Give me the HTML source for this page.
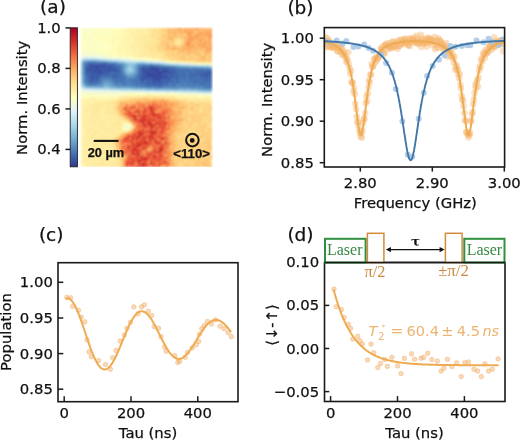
<!DOCTYPE html><html><head><meta charset="utf-8"><title>figure</title><style>html,body{margin:0;padding:0;background:#fff;overflow:hidden}svg{display:block}text{font-family:"DejaVu Sans","Liberation Sans",sans-serif}.k{fill:#111;stroke:#111;stroke-width:0.25px}.lib{font-family:"Liberation Sans",Arial,sans-serif}.dvs{font-family:"DejaVu Serif",serif}.serif{font-family:"Liberation Serif","DejaVu Serif",serif}</style></head><body>
<svg width="520" height="440" viewBox="0 0 520 440">
<defs><filter id="bl" x="0" y="0" width="1" height="1"><feGaussianBlur stdDeviation="0.85"/></filter>
<linearGradient id="cb" x1="0" y1="0" x2="0" y2="1"><stop offset="0.0" stop-color="#a50026"/><stop offset="0.1" stop-color="#d73027"/><stop offset="0.2" stop-color="#f46d43"/><stop offset="0.3" stop-color="#fdae61"/><stop offset="0.4" stop-color="#fee090"/><stop offset="0.5" stop-color="#ffffbf"/><stop offset="0.6" stop-color="#e0f3f8"/><stop offset="0.7" stop-color="#abd9e9"/><stop offset="0.8" stop-color="#74add1"/><stop offset="0.9" stop-color="#4575b4"/><stop offset="1.0" stop-color="#313695"/></linearGradient></defs>
<rect width="520" height="440" fill="#fff"/>
<g filter="url(#bl)" shape-rendering="crispEdges">
<rect x="80.5" y="27.5" width="131.5" height="139.0" fill="#fde9a8"/>
<path fill="#333d98" d="M96.4 67.2h2.1v2.1h-2.1zM90.5 69.2h2.1v2.1h-2.1zM148.2 73.2h2.1v2.1h-2.1z"/>
<path fill="#35439b" d="M98.4 69.2h2.1v2.1h-2.1zM152.2 69.2h6.1v2.1h-6.1zM100.4 71.2h2.1v2.1h-2.1zM152.2 73.2h2.1v2.1h-2.1zM158.2 73.2h2.1v2.1h-2.1zM154.2 77.1h2.1v2.1h-2.1z"/>
<path fill="#374a9f" d="M90.5 65.2h2.1v2.1h-2.1zM96.4 65.2h2.1v2.1h-2.1zM100.4 65.2h4.1v2.1h-4.1zM94.4 67.2h2.1v2.1h-2.1zM108.4 67.2h2.1v2.1h-2.1zM150.2 67.2h2.1v2.1h-2.1zM108.4 69.2h2.1v2.1h-2.1zM112.4 69.2h2.1v2.1h-2.1zM148.2 69.2h2.1v2.1h-2.1zM86.5 71.2h2.1v2.1h-2.1zM92.5 71.2h2.1v2.1h-2.1zM156.2 71.2h10.1v2.1h-10.1zM90.5 73.2h2.1v2.1h-2.1zM154.2 73.2h2.1v2.1h-2.1zM160.2 73.2h2.1v2.1h-2.1zM144.3 75.2h2.1v2.1h-2.1zM148.2 75.2h8.1v2.1h-8.1zM158.2 75.2h2.1v2.1h-2.1zM158.2 77.1h2.1v2.1h-2.1zM156.2 79.1h4.1v2.1h-4.1z"/>
<path fill="#3950a2" d="M88.5 65.2h2.1v2.1h-2.1zM92.5 65.2h4.1v2.1h-4.1zM104.4 65.2h2.1v2.1h-2.1zM108.4 65.2h2.1v2.1h-2.1zM86.5 67.2h2.1v2.1h-2.1zM92.5 67.2h2.1v2.1h-2.1zM98.4 67.2h2.1v2.1h-2.1zM102.4 67.2h2.1v2.1h-2.1zM112.4 67.2h2.1v2.1h-2.1zM142.3 67.2h2.1v2.1h-2.1zM152.2 67.2h2.1v2.1h-2.1zM156.2 67.2h2.1v2.1h-2.1zM88.5 69.2h2.1v2.1h-2.1zM94.4 69.2h2.1v2.1h-2.1zM106.4 69.2h2.1v2.1h-2.1zM114.4 69.2h2.1v2.1h-2.1zM142.3 69.2h2.1v2.1h-2.1zM150.2 69.2h2.1v2.1h-2.1zM164.2 69.2h2.1v2.1h-2.1zM94.4 71.2h6.1v2.1h-6.1zM102.4 71.2h2.1v2.1h-2.1zM144.3 71.2h6.1v2.1h-6.1zM154.2 71.2h2.1v2.1h-2.1zM166.2 71.2h2.1v2.1h-2.1zM98.4 73.2h2.1v2.1h-2.1zM112.4 73.2h2.1v2.1h-2.1zM142.3 73.2h2.1v2.1h-2.1zM146.2 73.2h2.1v2.1h-2.1zM150.2 73.2h2.1v2.1h-2.1zM146.2 75.2h2.1v2.1h-2.1zM156.2 75.2h2.1v2.1h-2.1zM160.2 75.2h2.1v2.1h-2.1zM164.2 75.2h2.1v2.1h-2.1zM90.5 77.1h2.1v2.1h-2.1zM142.3 77.1h4.1v2.1h-4.1zM150.2 77.1h2.1v2.1h-2.1zM160.2 77.1h2.1v2.1h-2.1zM164.2 77.1h4.1v2.1h-4.1zM152.2 79.1h2.1v2.1h-2.1zM158.2 81.1h2.1v2.1h-2.1zM154.2 83.1h2.1v2.1h-2.1z"/>
<path fill="#3b57a5" d="M104.4 63.2h2.1v2.1h-2.1zM98.4 65.2h2.1v2.1h-2.1zM104.4 67.2h4.1v2.1h-4.1zM146.2 67.2h2.1v2.1h-2.1zM154.2 67.2h2.1v2.1h-2.1zM158.2 67.2h2.1v2.1h-2.1zM162.2 67.2h6.1v2.1h-6.1zM96.4 69.2h2.1v2.1h-2.1zM100.4 69.2h2.1v2.1h-2.1zM110.4 69.2h2.1v2.1h-2.1zM144.3 69.2h2.1v2.1h-2.1zM158.2 69.2h2.1v2.1h-2.1zM162.2 69.2h2.1v2.1h-2.1zM168.2 69.2h2.1v2.1h-2.1zM104.4 71.2h4.1v2.1h-4.1zM114.4 71.2h2.1v2.1h-2.1zM142.3 71.2h2.1v2.1h-2.1zM150.2 71.2h2.1v2.1h-2.1zM168.2 71.2h2.1v2.1h-2.1zM210.0 71.2h2.1v2.1h-2.1zM96.4 73.2h2.1v2.1h-2.1zM100.4 73.2h2.1v2.1h-2.1zM106.4 73.2h2.1v2.1h-2.1zM156.2 73.2h2.1v2.1h-2.1zM164.2 73.2h2.1v2.1h-2.1zM170.2 73.2h2.1v2.1h-2.1zM204.0 73.2h4.1v2.1h-4.1zM210.0 73.2h2.1v2.1h-2.1zM92.5 75.2h2.1v2.1h-2.1zM98.4 75.2h2.1v2.1h-2.1zM162.2 75.2h2.1v2.1h-2.1zM98.4 77.1h2.1v2.1h-2.1zM140.3 77.1h2.1v2.1h-2.1zM146.2 77.1h4.1v2.1h-4.1zM152.2 77.1h2.1v2.1h-2.1zM156.2 77.1h2.1v2.1h-2.1zM162.2 77.1h2.1v2.1h-2.1zM168.2 77.1h2.1v2.1h-2.1zM96.4 79.1h2.1v2.1h-2.1zM142.3 79.1h2.1v2.1h-2.1zM154.2 79.1h2.1v2.1h-2.1zM162.2 79.1h2.1v2.1h-2.1zM90.5 81.1h2.1v2.1h-2.1zM154.2 81.1h2.1v2.1h-2.1z"/>
<path fill="#3e5da8" d="M88.5 63.2h2.1v2.1h-2.1zM98.4 63.2h4.1v2.1h-4.1zM106.4 65.2h2.1v2.1h-2.1zM110.4 65.2h4.1v2.1h-4.1zM150.2 65.2h2.1v2.1h-2.1zM88.5 67.2h4.1v2.1h-4.1zM100.4 67.2h2.1v2.1h-2.1zM110.4 67.2h2.1v2.1h-2.1zM114.4 67.2h2.1v2.1h-2.1zM144.3 67.2h2.1v2.1h-2.1zM84.5 69.2h4.1v2.1h-4.1zM102.4 69.2h4.1v2.1h-4.1zM146.2 69.2h2.1v2.1h-2.1zM166.2 69.2h2.1v2.1h-2.1zM90.5 71.2h2.1v2.1h-2.1zM110.4 71.2h2.1v2.1h-2.1zM118.4 71.2h2.1v2.1h-2.1zM152.2 71.2h2.1v2.1h-2.1zM172.2 71.2h2.1v2.1h-2.1zM176.1 71.2h2.1v2.1h-2.1zM206.0 71.2h2.1v2.1h-2.1zM88.5 73.2h2.1v2.1h-2.1zM94.4 73.2h2.1v2.1h-2.1zM144.3 73.2h2.1v2.1h-2.1zM162.2 73.2h2.1v2.1h-2.1zM168.2 73.2h2.1v2.1h-2.1zM172.2 73.2h2.1v2.1h-2.1zM200.0 73.2h2.1v2.1h-2.1zM90.5 75.2h2.1v2.1h-2.1zM94.4 75.2h4.1v2.1h-4.1zM104.4 75.2h2.1v2.1h-2.1zM112.4 75.2h2.1v2.1h-2.1zM166.2 75.2h2.1v2.1h-2.1zM172.2 75.2h2.1v2.1h-2.1zM202.0 75.2h6.1v2.1h-6.1zM210.0 75.2h2.1v2.1h-2.1zM92.5 77.1h6.1v2.1h-6.1zM88.5 79.1h2.1v2.1h-2.1zM140.3 79.1h2.1v2.1h-2.1zM148.2 79.1h2.1v2.1h-2.1zM160.2 79.1h2.1v2.1h-2.1zM168.2 79.1h2.1v2.1h-2.1zM204.0 79.1h2.1v2.1h-2.1zM148.2 81.1h2.1v2.1h-2.1zM152.2 81.1h2.1v2.1h-2.1zM164.2 81.1h4.1v2.1h-4.1zM148.2 83.1h2.1v2.1h-2.1zM152.2 83.1h2.1v2.1h-2.1zM160.2 83.1h4.1v2.1h-4.1z"/>
<path fill="#4064ac" d="M90.5 63.2h8.1v2.1h-8.1zM102.4 63.2h2.1v2.1h-2.1zM108.4 63.2h2.1v2.1h-2.1zM112.4 63.2h2.1v2.1h-2.1zM84.5 65.2h2.1v2.1h-2.1zM116.4 65.2h2.1v2.1h-2.1zM152.2 65.2h4.1v2.1h-4.1zM116.4 67.2h2.1v2.1h-2.1zM140.3 67.2h2.1v2.1h-2.1zM148.2 67.2h2.1v2.1h-2.1zM160.2 67.2h2.1v2.1h-2.1zM172.2 67.2h2.1v2.1h-2.1zM92.5 69.2h2.1v2.1h-2.1zM116.4 69.2h4.1v2.1h-4.1zM140.3 69.2h2.1v2.1h-2.1zM160.2 69.2h2.1v2.1h-2.1zM170.2 69.2h4.1v2.1h-4.1zM182.1 69.2h2.1v2.1h-2.1zM196.1 69.2h2.1v2.1h-2.1zM200.0 69.2h2.1v2.1h-2.1zM84.5 71.2h2.1v2.1h-2.1zM108.4 71.2h2.1v2.1h-2.1zM116.4 71.2h2.1v2.1h-2.1zM170.2 71.2h2.1v2.1h-2.1zM174.1 71.2h2.1v2.1h-2.1zM194.1 71.2h2.1v2.1h-2.1zM208.0 71.2h2.1v2.1h-2.1zM86.5 73.2h2.1v2.1h-2.1zM92.5 73.2h2.1v2.1h-2.1zM102.4 73.2h4.1v2.1h-4.1zM108.4 73.2h2.1v2.1h-2.1zM116.4 73.2h2.1v2.1h-2.1zM166.2 73.2h2.1v2.1h-2.1zM190.1 73.2h2.1v2.1h-2.1zM198.1 73.2h2.1v2.1h-2.1zM202.0 73.2h2.1v2.1h-2.1zM208.0 73.2h2.1v2.1h-2.1zM86.5 75.2h2.1v2.1h-2.1zM100.4 75.2h2.1v2.1h-2.1zM110.4 75.2h2.1v2.1h-2.1zM114.4 75.2h4.1v2.1h-4.1zM140.3 75.2h4.1v2.1h-4.1zM170.2 75.2h2.1v2.1h-2.1zM174.1 75.2h4.1v2.1h-4.1zM192.1 75.2h6.1v2.1h-6.1zM200.0 75.2h2.1v2.1h-2.1zM208.0 75.2h2.1v2.1h-2.1zM88.5 77.1h2.1v2.1h-2.1zM112.4 77.1h4.1v2.1h-4.1zM170.2 77.1h2.1v2.1h-2.1zM176.1 77.1h2.1v2.1h-2.1zM184.1 77.1h2.1v2.1h-2.1zM206.0 77.1h2.1v2.1h-2.1zM210.0 77.1h2.1v2.1h-2.1zM90.5 79.1h6.1v2.1h-6.1zM114.4 79.1h2.1v2.1h-2.1zM146.2 79.1h2.1v2.1h-2.1zM150.2 79.1h2.1v2.1h-2.1zM166.2 79.1h2.1v2.1h-2.1zM176.1 79.1h2.1v2.1h-2.1zM88.5 81.1h2.1v2.1h-2.1zM94.4 81.1h2.1v2.1h-2.1zM140.3 81.1h4.1v2.1h-4.1zM146.2 81.1h2.1v2.1h-2.1zM156.2 81.1h2.1v2.1h-2.1zM160.2 81.1h2.1v2.1h-2.1zM172.2 81.1h2.1v2.1h-2.1zM176.1 81.1h2.1v2.1h-2.1zM210.0 81.1h2.1v2.1h-2.1zM150.2 83.1h2.1v2.1h-2.1zM156.2 83.1h4.1v2.1h-4.1zM160.2 85.1h2.1v2.1h-2.1z"/>
<path fill="#426aaf" d="M86.5 63.2h2.1v2.1h-2.1zM106.4 63.2h2.1v2.1h-2.1zM110.4 63.2h2.1v2.1h-2.1zM86.5 65.2h2.1v2.1h-2.1zM148.2 65.2h2.1v2.1h-2.1zM84.5 67.2h2.1v2.1h-2.1zM168.2 67.2h2.1v2.1h-2.1zM174.1 69.2h2.1v2.1h-2.1zM178.1 69.2h4.1v2.1h-4.1zM186.1 69.2h2.1v2.1h-2.1zM190.1 69.2h2.1v2.1h-2.1zM198.1 69.2h2.1v2.1h-2.1zM208.0 69.2h2.1v2.1h-2.1zM88.5 71.2h2.1v2.1h-2.1zM112.4 71.2h2.1v2.1h-2.1zM120.3 71.2h2.1v2.1h-2.1zM140.3 71.2h2.1v2.1h-2.1zM188.1 71.2h2.1v2.1h-2.1zM200.0 71.2h6.1v2.1h-6.1zM84.5 73.2h2.1v2.1h-2.1zM114.4 73.2h2.1v2.1h-2.1zM118.4 73.2h2.1v2.1h-2.1zM138.3 73.2h4.1v2.1h-4.1zM174.1 73.2h2.1v2.1h-2.1zM178.1 73.2h8.1v2.1h-8.1zM192.1 73.2h2.1v2.1h-2.1zM196.1 73.2h2.1v2.1h-2.1zM88.5 75.2h2.1v2.1h-2.1zM102.4 75.2h2.1v2.1h-2.1zM106.4 75.2h4.1v2.1h-4.1zM118.4 75.2h4.1v2.1h-4.1zM138.3 75.2h2.1v2.1h-2.1zM168.2 75.2h2.1v2.1h-2.1zM182.1 75.2h2.1v2.1h-2.1zM188.1 75.2h2.1v2.1h-2.1zM86.5 77.1h2.1v2.1h-2.1zM116.4 77.1h2.1v2.1h-2.1zM120.3 77.1h2.1v2.1h-2.1zM172.2 77.1h4.1v2.1h-4.1zM178.1 77.1h4.1v2.1h-4.1zM190.1 77.1h2.1v2.1h-2.1zM200.0 77.1h2.1v2.1h-2.1zM208.0 77.1h2.1v2.1h-2.1zM144.3 79.1h2.1v2.1h-2.1zM170.2 79.1h2.1v2.1h-2.1zM190.1 79.1h2.1v2.1h-2.1zM194.1 79.1h2.1v2.1h-2.1zM206.0 79.1h6.1v2.1h-6.1zM96.4 81.1h2.1v2.1h-2.1zM120.3 81.1h2.1v2.1h-2.1zM136.3 81.1h2.1v2.1h-2.1zM150.2 81.1h2.1v2.1h-2.1zM162.2 81.1h2.1v2.1h-2.1zM168.2 81.1h4.1v2.1h-4.1zM194.1 81.1h4.1v2.1h-4.1zM200.0 81.1h2.1v2.1h-2.1zM142.3 83.1h2.1v2.1h-2.1zM146.2 83.1h2.1v2.1h-2.1zM166.2 83.1h2.1v2.1h-2.1zM204.0 83.1h2.1v2.1h-2.1zM148.2 85.1h2.1v2.1h-2.1zM154.2 85.1h2.1v2.1h-2.1zM158.2 85.1h2.1v2.1h-2.1z"/>
<path fill="#4471b2" d="M114.4 63.2h2.1v2.1h-2.1zM142.3 65.2h4.1v2.1h-4.1zM158.2 65.2h2.1v2.1h-2.1zM118.4 67.2h2.1v2.1h-2.1zM138.3 67.2h2.1v2.1h-2.1zM170.2 67.2h2.1v2.1h-2.1zM174.1 67.2h2.1v2.1h-2.1zM138.3 69.2h2.1v2.1h-2.1zM176.1 69.2h2.1v2.1h-2.1zM184.1 69.2h2.1v2.1h-2.1zM188.1 69.2h2.1v2.1h-2.1zM192.1 69.2h2.1v2.1h-2.1zM202.0 69.2h2.1v2.1h-2.1zM206.0 69.2h2.1v2.1h-2.1zM180.1 71.2h2.1v2.1h-2.1zM184.1 71.2h2.1v2.1h-2.1zM190.1 71.2h2.1v2.1h-2.1zM196.1 71.2h4.1v2.1h-4.1zM176.1 73.2h2.1v2.1h-2.1zM188.1 73.2h2.1v2.1h-2.1zM194.1 73.2h2.1v2.1h-2.1zM178.1 75.2h2.1v2.1h-2.1zM184.1 75.2h2.1v2.1h-2.1zM190.1 75.2h2.1v2.1h-2.1zM118.4 77.1h2.1v2.1h-2.1zM122.3 77.1h2.1v2.1h-2.1zM136.3 77.1h4.1v2.1h-4.1zM188.1 77.1h2.1v2.1h-2.1zM192.1 77.1h2.1v2.1h-2.1zM196.1 77.1h4.1v2.1h-4.1zM202.0 77.1h4.1v2.1h-4.1zM86.5 79.1h2.1v2.1h-2.1zM98.4 79.1h2.1v2.1h-2.1zM118.4 79.1h2.1v2.1h-2.1zM122.3 79.1h2.1v2.1h-2.1zM134.3 79.1h2.1v2.1h-2.1zM164.2 79.1h2.1v2.1h-2.1zM174.1 79.1h2.1v2.1h-2.1zM182.1 79.1h4.1v2.1h-4.1zM192.1 79.1h2.1v2.1h-2.1zM196.1 79.1h4.1v2.1h-4.1zM202.0 79.1h2.1v2.1h-2.1zM92.5 81.1h2.1v2.1h-2.1zM98.4 81.1h2.1v2.1h-2.1zM114.4 81.1h2.1v2.1h-2.1zM124.3 81.1h2.1v2.1h-2.1zM144.3 81.1h2.1v2.1h-2.1zM178.1 81.1h2.1v2.1h-2.1zM186.1 81.1h2.1v2.1h-2.1zM192.1 81.1h2.1v2.1h-2.1zM202.0 81.1h6.1v2.1h-6.1zM134.3 83.1h2.1v2.1h-2.1zM144.3 83.1h2.1v2.1h-2.1zM164.2 83.1h2.1v2.1h-2.1zM172.2 83.1h2.1v2.1h-2.1zM200.0 83.1h4.1v2.1h-4.1zM210.0 83.1h2.1v2.1h-2.1zM144.3 85.1h4.1v2.1h-4.1zM152.2 85.1h2.1v2.1h-2.1zM156.2 85.1h2.1v2.1h-2.1zM166.2 85.1h2.1v2.1h-2.1zM206.0 85.1h2.1v2.1h-2.1zM210.0 85.1h2.1v2.1h-2.1z"/>
<path fill="#4777b5" d="M84.5 63.2h2.1v2.1h-2.1zM114.4 65.2h2.1v2.1h-2.1zM118.4 65.2h4.1v2.1h-4.1zM146.2 65.2h2.1v2.1h-2.1zM120.3 67.2h2.1v2.1h-2.1zM120.3 69.2h2.1v2.1h-2.1zM194.1 69.2h2.1v2.1h-2.1zM204.0 69.2h2.1v2.1h-2.1zM210.0 69.2h2.1v2.1h-2.1zM178.1 71.2h2.1v2.1h-2.1zM182.1 71.2h2.1v2.1h-2.1zM186.1 71.2h2.1v2.1h-2.1zM110.4 73.2h2.1v2.1h-2.1zM122.3 73.2h2.1v2.1h-2.1zM84.5 75.2h2.1v2.1h-2.1zM136.3 75.2h2.1v2.1h-2.1zM180.1 75.2h2.1v2.1h-2.1zM186.1 75.2h2.1v2.1h-2.1zM198.1 75.2h2.1v2.1h-2.1zM100.4 77.1h4.1v2.1h-4.1zM108.4 77.1h4.1v2.1h-4.1zM124.3 77.1h2.1v2.1h-2.1zM182.1 77.1h2.1v2.1h-2.1zM194.1 77.1h2.1v2.1h-2.1zM84.5 79.1h2.1v2.1h-2.1zM116.4 79.1h2.1v2.1h-2.1zM120.3 79.1h2.1v2.1h-2.1zM124.3 79.1h2.1v2.1h-2.1zM128.3 79.1h6.1v2.1h-6.1zM136.3 79.1h4.1v2.1h-4.1zM172.2 79.1h2.1v2.1h-2.1zM178.1 79.1h2.1v2.1h-2.1zM188.1 79.1h2.1v2.1h-2.1zM200.0 79.1h2.1v2.1h-2.1zM84.5 81.1h4.1v2.1h-4.1zM112.4 81.1h2.1v2.1h-2.1zM116.4 81.1h4.1v2.1h-4.1zM132.3 81.1h2.1v2.1h-2.1zM138.3 81.1h2.1v2.1h-2.1zM174.1 81.1h2.1v2.1h-2.1zM180.1 81.1h4.1v2.1h-4.1zM190.1 81.1h2.1v2.1h-2.1zM198.1 81.1h2.1v2.1h-2.1zM208.0 81.1h2.1v2.1h-2.1zM88.5 83.1h2.1v2.1h-2.1zM92.5 83.1h4.1v2.1h-4.1zM122.3 83.1h4.1v2.1h-4.1zM136.3 83.1h4.1v2.1h-4.1zM168.2 83.1h2.1v2.1h-2.1zM176.1 83.1h2.1v2.1h-2.1zM194.1 83.1h6.1v2.1h-6.1zM208.0 83.1h2.1v2.1h-2.1zM136.3 85.1h2.1v2.1h-2.1zM140.3 85.1h2.1v2.1h-2.1zM150.2 85.1h2.1v2.1h-2.1zM162.2 85.1h4.1v2.1h-4.1zM172.2 85.1h4.1v2.1h-4.1zM194.1 85.1h2.1v2.1h-2.1zM198.1 85.1h2.1v2.1h-2.1zM208.0 85.1h2.1v2.1h-2.1z"/>
<path fill="#4c7db8" d="M88.5 61.3h6.1v2.1h-6.1zM116.4 63.2h2.1v2.1h-2.1zM156.2 65.2h2.1v2.1h-2.1zM176.1 67.2h2.1v2.1h-2.1zM180.1 67.2h2.1v2.1h-2.1zM186.1 67.2h2.1v2.1h-2.1zM194.1 67.2h2.1v2.1h-2.1zM202.0 67.2h2.1v2.1h-2.1zM138.3 71.2h2.1v2.1h-2.1zM192.1 71.2h2.1v2.1h-2.1zM120.3 73.2h2.1v2.1h-2.1zM186.1 73.2h2.1v2.1h-2.1zM122.3 75.2h4.1v2.1h-4.1zM84.5 77.1h2.1v2.1h-2.1zM104.4 77.1h4.1v2.1h-4.1zM186.1 77.1h2.1v2.1h-2.1zM106.4 79.1h2.1v2.1h-2.1zM110.4 79.1h4.1v2.1h-4.1zM180.1 79.1h2.1v2.1h-2.1zM186.1 79.1h2.1v2.1h-2.1zM100.4 81.1h2.1v2.1h-2.1zM126.3 81.1h4.1v2.1h-4.1zM134.3 81.1h2.1v2.1h-2.1zM184.1 81.1h2.1v2.1h-2.1zM188.1 81.1h2.1v2.1h-2.1zM90.5 83.1h2.1v2.1h-2.1zM96.4 83.1h2.1v2.1h-2.1zM114.4 83.1h4.1v2.1h-4.1zM120.3 83.1h2.1v2.1h-2.1zM126.3 83.1h2.1v2.1h-2.1zM130.3 83.1h2.1v2.1h-2.1zM140.3 83.1h2.1v2.1h-2.1zM170.2 83.1h2.1v2.1h-2.1zM174.1 83.1h2.1v2.1h-2.1zM178.1 83.1h6.1v2.1h-6.1zM186.1 83.1h8.1v2.1h-8.1zM206.0 83.1h2.1v2.1h-2.1zM138.3 85.1h2.1v2.1h-2.1zM142.3 85.1h2.1v2.1h-2.1zM168.2 85.1h2.1v2.1h-2.1zM180.1 85.1h4.1v2.1h-4.1zM188.1 85.1h2.1v2.1h-2.1zM192.1 85.1h2.1v2.1h-2.1zM200.0 85.1h6.1v2.1h-6.1zM158.2 87.1h2.1v2.1h-2.1zM204.0 87.1h2.1v2.1h-2.1zM208.0 87.1h4.1v2.1h-4.1z"/>
<path fill="#5183bb" d="M86.5 61.3h2.1v2.1h-2.1zM94.4 61.3h4.1v2.1h-4.1zM102.4 61.3h2.1v2.1h-2.1zM82.5 65.2h2.1v2.1h-2.1zM140.3 65.2h2.1v2.1h-2.1zM160.2 65.2h4.1v2.1h-4.1zM82.5 67.2h2.1v2.1h-2.1zM178.1 67.2h2.1v2.1h-2.1zM82.5 69.2h2.1v2.1h-2.1zM82.5 73.2h2.1v2.1h-2.1zM126.3 77.1h2.1v2.1h-2.1zM130.3 77.1h2.1v2.1h-2.1zM134.3 77.1h2.1v2.1h-2.1zM100.4 79.1h4.1v2.1h-4.1zM108.4 81.1h2.1v2.1h-2.1zM122.3 81.1h2.1v2.1h-2.1zM130.3 81.1h2.1v2.1h-2.1zM86.5 83.1h2.1v2.1h-2.1zM98.4 83.1h2.1v2.1h-2.1zM132.3 83.1h2.1v2.1h-2.1zM118.4 85.1h2.1v2.1h-2.1zM130.3 85.1h2.1v2.1h-2.1zM170.2 85.1h2.1v2.1h-2.1zM184.1 85.1h4.1v2.1h-4.1zM190.1 85.1h2.1v2.1h-2.1zM150.2 87.1h2.1v2.1h-2.1zM160.2 87.1h2.1v2.1h-2.1zM192.1 87.1h2.1v2.1h-2.1zM206.0 87.1h2.1v2.1h-2.1z"/>
<path fill="#5689be" d="M100.4 61.3h2.1v2.1h-2.1zM106.4 61.3h2.1v2.1h-2.1zM82.5 63.2h2.1v2.1h-2.1zM118.4 63.2h2.1v2.1h-2.1zM122.3 65.2h2.1v2.1h-2.1zM138.3 65.2h2.1v2.1h-2.1zM182.1 67.2h4.1v2.1h-4.1zM188.1 67.2h2.1v2.1h-2.1zM192.1 67.2h2.1v2.1h-2.1zM196.1 67.2h2.1v2.1h-2.1zM206.0 67.2h2.1v2.1h-2.1zM122.3 69.2h2.1v2.1h-2.1zM82.5 79.1h2.1v2.1h-2.1zM126.3 79.1h2.1v2.1h-2.1zM84.5 83.1h2.1v2.1h-2.1zM118.4 83.1h2.1v2.1h-2.1zM184.1 83.1h2.1v2.1h-2.1zM94.4 85.1h2.1v2.1h-2.1zM114.4 85.1h4.1v2.1h-4.1zM122.3 85.1h8.1v2.1h-8.1zM132.3 85.1h2.1v2.1h-2.1zM176.1 85.1h2.1v2.1h-2.1zM196.1 85.1h2.1v2.1h-2.1zM156.2 87.1h2.1v2.1h-2.1zM170.2 87.1h2.1v2.1h-2.1zM178.1 87.1h2.1v2.1h-2.1zM198.1 87.1h2.1v2.1h-2.1zM202.0 87.1h2.1v2.1h-2.1z"/>
<path fill="#5b8fc1" d="M98.4 61.3h2.1v2.1h-2.1zM104.4 61.3h2.1v2.1h-2.1zM164.2 65.2h6.1v2.1h-6.1zM122.3 67.2h2.1v2.1h-2.1zM190.1 67.2h2.1v2.1h-2.1zM198.1 67.2h2.1v2.1h-2.1zM82.5 71.2h2.1v2.1h-2.1zM122.3 71.2h2.1v2.1h-2.1zM136.3 71.2h2.1v2.1h-2.1zM136.3 73.2h2.1v2.1h-2.1zM82.5 75.2h2.1v2.1h-2.1zM126.3 75.2h2.1v2.1h-2.1zM134.3 75.2h2.1v2.1h-2.1zM82.5 77.1h2.1v2.1h-2.1zM128.3 77.1h2.1v2.1h-2.1zM132.3 77.1h2.1v2.1h-2.1zM104.4 79.1h2.1v2.1h-2.1zM108.4 79.1h2.1v2.1h-2.1zM82.5 81.1h2.1v2.1h-2.1zM102.4 81.1h2.1v2.1h-2.1zM110.4 81.1h2.1v2.1h-2.1zM100.4 83.1h2.1v2.1h-2.1zM110.4 83.1h4.1v2.1h-4.1zM128.3 83.1h2.1v2.1h-2.1zM90.5 85.1h2.1v2.1h-2.1zM98.4 85.1h2.1v2.1h-2.1zM120.3 85.1h2.1v2.1h-2.1zM134.3 85.1h2.1v2.1h-2.1zM178.1 85.1h2.1v2.1h-2.1zM140.3 87.1h2.1v2.1h-2.1zM146.2 87.1h4.1v2.1h-4.1zM154.2 87.1h2.1v2.1h-2.1zM162.2 87.1h2.1v2.1h-2.1zM166.2 87.1h2.1v2.1h-2.1zM172.2 87.1h2.1v2.1h-2.1zM184.1 87.1h4.1v2.1h-4.1zM190.1 87.1h2.1v2.1h-2.1zM196.1 87.1h2.1v2.1h-2.1z"/>
<path fill="#5f94c4" d="M84.5 61.3h2.1v2.1h-2.1zM120.3 63.2h2.1v2.1h-2.1zM142.3 63.2h4.1v2.1h-4.1zM170.2 65.2h2.1v2.1h-2.1zM136.3 67.2h2.1v2.1h-2.1zM200.0 67.2h2.1v2.1h-2.1zM124.3 73.2h2.1v2.1h-2.1zM132.3 75.2h2.1v2.1h-2.1zM86.5 85.1h4.1v2.1h-4.1zM92.5 85.1h2.1v2.1h-2.1zM152.2 87.1h2.1v2.1h-2.1zM164.2 87.1h2.1v2.1h-2.1zM168.2 87.1h2.1v2.1h-2.1zM174.1 87.1h4.1v2.1h-4.1zM194.1 87.1h2.1v2.1h-2.1zM200.0 87.1h2.1v2.1h-2.1z"/>
<path fill="#649ac7" d="M82.5 61.3h2.1v2.1h-2.1zM122.3 63.2h2.1v2.1h-2.1zM138.3 63.2h4.1v2.1h-4.1zM150.2 63.2h2.1v2.1h-2.1zM136.3 65.2h2.1v2.1h-2.1zM172.2 65.2h2.1v2.1h-2.1zM208.0 67.2h4.1v2.1h-4.1zM136.3 69.2h2.1v2.1h-2.1zM124.3 71.2h2.1v2.1h-2.1zM134.3 73.2h2.1v2.1h-2.1zM130.3 75.2h2.1v2.1h-2.1zM104.4 81.1h2.1v2.1h-2.1zM102.4 83.1h2.1v2.1h-2.1zM96.4 85.1h2.1v2.1h-2.1zM134.3 87.1h4.1v2.1h-4.1zM142.3 87.1h4.1v2.1h-4.1zM180.1 87.1h2.1v2.1h-2.1zM188.1 87.1h2.1v2.1h-2.1zM206.0 89.1h2.1v2.1h-2.1z"/>
<path fill="#69a0ca" d="M108.4 61.3h2.1v2.1h-2.1zM174.1 65.2h2.1v2.1h-2.1zM124.3 67.2h2.1v2.1h-2.1zM204.0 67.2h2.1v2.1h-2.1zM106.4 81.1h2.1v2.1h-2.1zM106.4 83.1h2.1v2.1h-2.1zM84.5 85.1h2.1v2.1h-2.1zM100.4 85.1h4.1v2.1h-4.1zM112.4 85.1h2.1v2.1h-2.1zM182.1 87.1h2.1v2.1h-2.1zM202.0 89.1h2.1v2.1h-2.1z"/>
<path fill="#6ea6cd" d="M114.4 61.3h2.1v2.1h-2.1zM124.3 63.2h2.1v2.1h-2.1zM146.2 63.2h4.1v2.1h-4.1zM124.3 65.2h2.1v2.1h-2.1zM176.1 65.2h2.1v2.1h-2.1zM134.3 71.2h2.1v2.1h-2.1zM128.3 75.2h2.1v2.1h-2.1zM82.5 83.1h2.1v2.1h-2.1zM108.4 83.1h2.1v2.1h-2.1zM108.4 85.1h4.1v2.1h-4.1zM130.3 87.1h4.1v2.1h-4.1zM138.3 87.1h2.1v2.1h-2.1zM208.0 89.1h4.1v2.1h-4.1z"/>
<path fill="#73acd0" d="M110.4 61.3h4.1v2.1h-4.1zM134.3 65.2h2.1v2.1h-2.1zM178.1 65.2h2.1v2.1h-2.1zM182.1 65.2h2.1v2.1h-2.1zM134.3 67.2h2.1v2.1h-2.1zM132.3 73.2h2.1v2.1h-2.1zM104.4 83.1h2.1v2.1h-2.1zM106.4 85.1h2.1v2.1h-2.1zM116.4 87.1h4.1v2.1h-4.1zM126.3 87.1h2.1v2.1h-2.1zM198.1 89.1h4.1v2.1h-4.1zM204.0 89.1h2.1v2.1h-2.1z"/>
<path fill="#79b1d3" d="M116.4 61.3h2.1v2.1h-2.1zM126.3 63.2h2.1v2.1h-2.1zM136.3 63.2h2.1v2.1h-2.1zM152.2 63.2h2.1v2.1h-2.1zM156.2 63.2h2.1v2.1h-2.1zM124.3 69.2h2.1v2.1h-2.1zM134.3 69.2h2.1v2.1h-2.1zM126.3 73.2h6.1v2.1h-6.1zM110.4 87.1h2.1v2.1h-2.1zM120.3 87.1h6.1v2.1h-6.1zM128.3 87.1h2.1v2.1h-2.1zM174.1 89.1h2.1v2.1h-2.1zM196.1 89.1h2.1v2.1h-2.1z"/>
<path fill="#7eb5d6" d="M154.2 63.2h2.1v2.1h-2.1zM158.2 63.2h2.1v2.1h-2.1zM126.3 67.2h2.1v2.1h-2.1zM80.5 71.2h2.1v2.1h-2.1zM104.4 85.1h2.1v2.1h-2.1zM112.4 87.1h4.1v2.1h-4.1zM168.2 89.1h2.1v2.1h-2.1zM172.2 89.1h2.1v2.1h-2.1zM190.1 89.1h2.1v2.1h-2.1zM194.1 89.1h2.1v2.1h-2.1z"/>
<path fill="#84bad8" d="M80.5 63.2h2.1v2.1h-2.1zM126.3 65.2h2.1v2.1h-2.1zM132.3 65.2h2.1v2.1h-2.1zM180.1 65.2h2.1v2.1h-2.1zM184.1 65.2h4.1v2.1h-4.1zM126.3 71.2h2.1v2.1h-2.1zM80.5 73.2h2.1v2.1h-2.1zM96.4 87.1h2.1v2.1h-2.1zM100.4 87.1h2.1v2.1h-2.1zM154.2 89.1h2.1v2.1h-2.1zM164.2 89.1h2.1v2.1h-2.1zM176.1 89.1h4.1v2.1h-4.1zM182.1 89.1h4.1v2.1h-4.1zM192.1 89.1h2.1v2.1h-2.1z"/>
<path fill="#8abeda" d="M84.5 59.3h2.1v2.1h-2.1zM90.5 59.3h6.1v2.1h-6.1zM160.2 63.2h2.1v2.1h-2.1zM80.5 65.2h2.1v2.1h-2.1zM188.1 65.2h2.1v2.1h-2.1zM80.5 67.2h2.1v2.1h-2.1zM132.3 67.2h2.1v2.1h-2.1zM80.5 69.2h2.1v2.1h-2.1zM132.3 71.2h2.1v2.1h-2.1zM80.5 75.2h2.1v2.1h-2.1zM82.5 85.1h2.1v2.1h-2.1zM98.4 87.1h2.1v2.1h-2.1zM156.2 89.1h2.1v2.1h-2.1zM160.2 89.1h2.1v2.1h-2.1zM166.2 89.1h2.1v2.1h-2.1zM186.1 89.1h2.1v2.1h-2.1z"/>
<path fill="#90c3dd" d="M86.5 59.3h4.1v2.1h-4.1zM98.4 59.3h2.1v2.1h-2.1zM118.4 61.3h4.1v2.1h-4.1zM128.3 63.2h8.1v2.1h-8.1zM192.1 65.2h2.1v2.1h-2.1zM196.1 65.2h2.1v2.1h-2.1zM126.3 69.2h2.1v2.1h-2.1zM132.3 69.2h2.1v2.1h-2.1zM128.3 71.2h4.1v2.1h-4.1zM80.5 79.1h2.1v2.1h-2.1zM90.5 87.1h2.1v2.1h-2.1zM94.4 87.1h2.1v2.1h-2.1zM102.4 87.1h2.1v2.1h-2.1zM108.4 87.1h2.1v2.1h-2.1zM148.2 89.1h2.1v2.1h-2.1zM158.2 89.1h2.1v2.1h-2.1zM188.1 89.1h2.1v2.1h-2.1z"/>
<path fill="#95c8e0" d="M82.5 59.3h2.1v2.1h-2.1zM96.4 59.3h2.1v2.1h-2.1zM122.3 61.3h2.1v2.1h-2.1zM162.2 63.2h2.1v2.1h-2.1zM128.3 65.2h4.1v2.1h-4.1zM190.1 65.2h2.1v2.1h-2.1zM80.5 77.1h2.1v2.1h-2.1zM80.5 81.1h2.1v2.1h-2.1zM80.5 83.1h2.1v2.1h-2.1zM84.5 87.1h6.1v2.1h-6.1zM92.5 87.1h2.1v2.1h-2.1zM104.4 87.1h2.1v2.1h-2.1zM146.2 89.1h2.1v2.1h-2.1zM150.2 89.1h2.1v2.1h-2.1zM162.2 89.1h2.1v2.1h-2.1zM170.2 89.1h2.1v2.1h-2.1zM180.1 89.1h2.1v2.1h-2.1z"/>
<path fill="#9bcce2" d="M80.5 61.3h2.1v2.1h-2.1zM194.1 65.2h2.1v2.1h-2.1zM200.0 65.2h2.1v2.1h-2.1zM206.0 65.2h2.1v2.1h-2.1zM128.3 67.2h4.1v2.1h-4.1zM140.3 89.1h2.1v2.1h-2.1zM152.2 89.1h2.1v2.1h-2.1z"/>
<path fill="#a1d1e4" d="M102.4 59.3h2.1v2.1h-2.1zM164.2 63.2h2.1v2.1h-2.1zM128.3 69.2h2.1v2.1h-2.1zM106.4 87.1h2.1v2.1h-2.1zM136.3 89.1h2.1v2.1h-2.1zM144.3 89.1h2.1v2.1h-2.1z"/>
<path fill="#a6d5e7" d="M100.4 59.3h2.1v2.1h-2.1zM124.3 61.3h2.1v2.1h-2.1zM198.1 65.2h2.1v2.1h-2.1zM202.0 65.2h2.1v2.1h-2.1zM80.5 85.1h2.1v2.1h-2.1zM134.3 89.1h2.1v2.1h-2.1zM204.0 91.0h8.1v2.1h-8.1z"/>
<path fill="#acdae9" d="M104.4 59.3h2.1v2.1h-2.1zM166.2 63.2h2.1v2.1h-2.1zM204.0 65.2h2.1v2.1h-2.1zM208.0 65.2h2.1v2.1h-2.1zM130.3 69.2h2.1v2.1h-2.1zM126.3 89.1h2.1v2.1h-2.1zM132.3 89.1h2.1v2.1h-2.1zM142.3 89.1h2.1v2.1h-2.1zM202.0 91.0h2.1v2.1h-2.1z"/>
<path fill="#b2dceb" d="M110.4 59.3h2.1v2.1h-2.1zM136.3 61.3h4.1v2.1h-4.1zM142.3 61.3h2.1v2.1h-2.1zM168.2 63.2h2.1v2.1h-2.1zM82.5 87.1h2.1v2.1h-2.1zM122.3 89.1h2.1v2.1h-2.1zM130.3 89.1h2.1v2.1h-2.1zM138.3 89.1h2.1v2.1h-2.1zM200.0 91.0h2.1v2.1h-2.1z"/>
<path fill="#b7dfec" d="M126.3 61.3h6.1v2.1h-6.1zM140.3 61.3h2.1v2.1h-2.1zM210.0 65.2h2.1v2.1h-2.1zM120.3 89.1h2.1v2.1h-2.1zM124.3 89.1h2.1v2.1h-2.1zM128.3 89.1h2.1v2.1h-2.1zM192.1 91.0h2.1v2.1h-2.1zM198.1 91.0h2.1v2.1h-2.1z"/>
<path fill="#bde2ee" d="M80.5 59.3h2.1v2.1h-2.1zM106.4 59.3h4.1v2.1h-4.1zM132.3 61.3h4.1v2.1h-4.1zM144.3 61.3h2.1v2.1h-2.1zM170.2 63.2h2.1v2.1h-2.1zM114.4 89.1h6.1v2.1h-6.1zM196.1 91.0h2.1v2.1h-2.1z"/>
<path fill="#c2e4f0" d="M146.2 61.3h2.1v2.1h-2.1zM176.1 63.2h2.1v2.1h-2.1zM106.4 89.1h2.1v2.1h-2.1zM184.1 91.0h2.1v2.1h-2.1zM188.1 91.0h2.1v2.1h-2.1z"/>
<path fill="#c8e7f1" d="M112.4 59.3h2.1v2.1h-2.1zM116.4 59.3h2.1v2.1h-2.1zM150.2 61.3h2.1v2.1h-2.1zM172.2 63.2h4.1v2.1h-4.1zM102.4 89.1h2.1v2.1h-2.1zM108.4 89.1h4.1v2.1h-4.1zM174.1 91.0h2.1v2.1h-2.1zM182.1 91.0h2.1v2.1h-2.1zM186.1 91.0h2.1v2.1h-2.1zM190.1 91.0h2.1v2.1h-2.1zM194.1 91.0h2.1v2.1h-2.1z"/>
<path fill="#cdeaf3" d="M114.4 59.3h2.1v2.1h-2.1zM118.4 59.3h2.1v2.1h-2.1zM98.4 89.1h2.1v2.1h-2.1zM104.4 89.1h2.1v2.1h-2.1zM112.4 89.1h2.1v2.1h-2.1zM178.1 91.0h4.1v2.1h-4.1z"/>
<path fill="#d3ecf4" d="M84.5 57.3h4.1v2.1h-4.1zM90.5 57.3h2.1v2.1h-2.1zM122.3 59.3h2.1v2.1h-2.1zM148.2 61.3h2.1v2.1h-2.1zM152.2 61.3h2.1v2.1h-2.1zM178.1 63.2h2.1v2.1h-2.1zM80.5 87.1h2.1v2.1h-2.1zM92.5 89.1h4.1v2.1h-4.1z"/>
<path fill="#d8eff6" d="M82.5 57.3h2.1v2.1h-2.1zM88.5 57.3h2.1v2.1h-2.1zM94.4 57.3h2.1v2.1h-2.1zM120.3 59.3h2.1v2.1h-2.1zM126.3 59.3h2.1v2.1h-2.1zM154.2 61.3h2.1v2.1h-2.1zM90.5 89.1h2.1v2.1h-2.1zM96.4 89.1h2.1v2.1h-2.1zM100.4 89.1h2.1v2.1h-2.1zM154.2 91.0h2.1v2.1h-2.1zM162.2 91.0h2.1v2.1h-2.1zM166.2 91.0h6.1v2.1h-6.1zM176.1 91.0h2.1v2.1h-2.1z"/>
<path fill="#def2f7" d="M92.5 57.3h2.1v2.1h-2.1zM98.4 57.3h2.1v2.1h-2.1zM180.1 63.2h4.1v2.1h-4.1zM84.5 89.1h2.1v2.1h-2.1zM88.5 89.1h2.1v2.1h-2.1zM156.2 91.0h6.1v2.1h-6.1zM164.2 91.0h2.1v2.1h-2.1zM172.2 91.0h2.1v2.1h-2.1z"/>
<path fill="#e2f4f4" d="M96.4 57.3h2.1v2.1h-2.1zM156.2 61.3h2.1v2.1h-2.1zM82.5 89.1h2.1v2.1h-2.1zM86.5 89.1h2.1v2.1h-2.1zM110.4 91.0h2.1v2.1h-2.1zM144.3 91.0h8.1v2.1h-8.1z"/>
<path fill="#e5f5ee" d="M100.4 57.3h6.1v2.1h-6.1zM128.3 59.3h2.1v2.1h-2.1zM160.2 61.3h2.1v2.1h-2.1zM186.1 63.2h4.1v2.1h-4.1zM114.4 91.0h2.1v2.1h-2.1zM136.3 91.0h2.1v2.1h-2.1zM152.2 91.0h2.1v2.1h-2.1z"/>
<path fill="#e8f6e9" d="M80.5 57.3h2.1v2.1h-2.1zM124.3 59.3h2.1v2.1h-2.1zM130.3 59.3h2.1v2.1h-2.1zM158.2 61.3h2.1v2.1h-2.1zM162.2 61.3h2.1v2.1h-2.1zM184.1 63.2h2.1v2.1h-2.1zM98.4 91.0h2.1v2.1h-2.1zM120.3 91.0h2.1v2.1h-2.1zM132.3 91.0h2.1v2.1h-2.1zM138.3 91.0h2.1v2.1h-2.1zM142.3 91.0h2.1v2.1h-2.1zM204.0 93.0h4.1v2.1h-4.1z"/>
<path fill="#ecf8e3" d="M90.5 55.3h2.1v2.1h-2.1zM108.4 57.3h2.1v2.1h-2.1zM132.3 59.3h2.1v2.1h-2.1zM142.3 59.3h2.1v2.1h-2.1zM164.2 61.3h2.1v2.1h-2.1zM80.5 89.1h2.1v2.1h-2.1zM94.4 91.0h2.1v2.1h-2.1zM104.4 91.0h2.1v2.1h-2.1zM112.4 91.0h2.1v2.1h-2.1zM122.3 91.0h4.1v2.1h-4.1zM140.3 91.0h2.1v2.1h-2.1zM202.0 93.0h2.1v2.1h-2.1zM126.3 124.8h2.1v2.1h-2.1z"/>
<path fill="#eff9dd" d="M82.5 55.3h6.1v2.1h-6.1zM94.4 55.3h4.1v2.1h-4.1zM106.4 57.3h2.1v2.1h-2.1zM114.4 57.3h2.1v2.1h-2.1zM134.3 59.3h2.1v2.1h-2.1zM96.4 91.0h2.1v2.1h-2.1zM102.4 91.0h2.1v2.1h-2.1zM108.4 91.0h2.1v2.1h-2.1zM116.4 91.0h2.1v2.1h-2.1zM126.3 91.0h6.1v2.1h-6.1zM134.3 91.0h2.1v2.1h-2.1zM98.4 93.0h2.1v2.1h-2.1zM190.1 93.0h2.1v2.1h-2.1zM196.1 93.0h4.1v2.1h-4.1zM208.0 93.0h2.1v2.1h-2.1zM126.3 126.8h4.1v2.1h-4.1z"/>
<path fill="#f2fad7" d="M94.4 51.3h2.1v2.1h-2.1zM102.4 55.3h2.1v2.1h-2.1zM110.4 57.3h4.1v2.1h-4.1zM116.4 57.3h2.1v2.1h-2.1zM136.3 59.3h4.1v2.1h-4.1zM166.2 61.3h2.1v2.1h-2.1zM190.1 63.2h6.1v2.1h-6.1zM202.0 63.2h2.1v2.1h-2.1zM82.5 91.0h12.1v2.1h-12.1zM100.4 91.0h2.1v2.1h-2.1zM106.4 91.0h2.1v2.1h-2.1zM94.4 93.0h4.1v2.1h-4.1zM102.4 93.0h2.1v2.1h-2.1zM112.4 93.0h2.1v2.1h-2.1zM210.0 93.0h2.1v2.1h-2.1zM128.3 124.8h2.1v2.1h-2.1z"/>
<path fill="#f5fbd1" d="M84.5 29.5h2.1v2.1h-2.1zM90.5 29.5h2.1v2.1h-2.1zM82.5 31.5h2.1v2.1h-2.1zM84.5 33.5h2.1v2.1h-2.1zM98.4 33.5h2.1v2.1h-2.1zM88.5 35.4h2.1v2.1h-2.1zM94.4 35.4h2.1v2.1h-2.1zM106.4 35.4h2.1v2.1h-2.1zM88.5 37.4h2.1v2.1h-2.1zM84.5 39.4h2.1v2.1h-2.1zM86.5 41.4h2.1v2.1h-2.1zM92.5 43.4h2.1v2.1h-2.1zM102.4 43.4h2.1v2.1h-2.1zM92.5 45.4h2.1v2.1h-2.1zM100.4 45.4h2.1v2.1h-2.1zM108.4 45.4h2.1v2.1h-2.1zM84.5 49.3h2.1v2.1h-2.1zM88.5 49.3h2.1v2.1h-2.1zM94.4 49.3h2.1v2.1h-2.1zM98.4 49.3h2.1v2.1h-2.1zM82.5 51.3h2.1v2.1h-2.1zM86.5 51.3h4.1v2.1h-4.1zM82.5 53.3h2.1v2.1h-2.1zM90.5 53.3h2.1v2.1h-2.1zM100.4 53.3h2.1v2.1h-2.1zM80.5 55.3h2.1v2.1h-2.1zM88.5 55.3h2.1v2.1h-2.1zM92.5 55.3h2.1v2.1h-2.1zM100.4 55.3h2.1v2.1h-2.1zM104.4 55.3h2.1v2.1h-2.1zM118.4 57.3h4.1v2.1h-4.1zM126.3 57.3h2.1v2.1h-2.1zM146.2 59.3h2.1v2.1h-2.1zM118.4 91.0h2.1v2.1h-2.1zM84.5 93.0h2.1v2.1h-2.1zM92.5 93.0h2.1v2.1h-2.1zM104.4 93.0h6.1v2.1h-6.1zM114.4 93.0h4.1v2.1h-4.1zM120.3 93.0h2.1v2.1h-2.1zM166.2 93.0h2.1v2.1h-2.1zM176.1 93.0h2.1v2.1h-2.1zM180.1 93.0h4.1v2.1h-4.1zM186.1 93.0h4.1v2.1h-4.1zM192.1 93.0h4.1v2.1h-4.1z"/>
<path fill="#f9fccb" d="M84.5 27.5h8.1v2.1h-8.1zM96.4 27.5h4.1v2.1h-4.1zM86.5 29.5h2.1v2.1h-2.1zM92.5 29.5h2.1v2.1h-2.1zM94.4 31.5h2.1v2.1h-2.1zM102.4 31.5h2.1v2.1h-2.1zM106.4 31.5h2.1v2.1h-2.1zM96.4 33.5h2.1v2.1h-2.1zM102.4 33.5h2.1v2.1h-2.1zM108.4 33.5h4.1v2.1h-4.1zM80.5 35.4h2.1v2.1h-2.1zM84.5 35.4h2.1v2.1h-2.1zM84.5 37.4h2.1v2.1h-2.1zM90.5 37.4h2.1v2.1h-2.1zM94.4 37.4h2.1v2.1h-2.1zM86.5 39.4h2.1v2.1h-2.1zM92.5 39.4h2.1v2.1h-2.1zM98.4 39.4h4.1v2.1h-4.1zM106.4 39.4h2.1v2.1h-2.1zM80.5 41.4h2.1v2.1h-2.1zM88.5 41.4h6.1v2.1h-6.1zM96.4 41.4h4.1v2.1h-4.1zM110.4 41.4h2.1v2.1h-2.1zM82.5 43.4h2.1v2.1h-2.1zM86.5 43.4h2.1v2.1h-2.1zM96.4 43.4h4.1v2.1h-4.1zM86.5 45.4h2.1v2.1h-2.1zM90.5 45.4h2.1v2.1h-2.1zM82.5 47.4h4.1v2.1h-4.1zM100.4 47.4h2.1v2.1h-2.1zM108.4 47.4h2.1v2.1h-2.1zM86.5 49.3h2.1v2.1h-2.1zM90.5 49.3h2.1v2.1h-2.1zM84.5 51.3h2.1v2.1h-2.1zM92.5 51.3h2.1v2.1h-2.1zM84.5 53.3h2.1v2.1h-2.1zM92.5 53.3h2.1v2.1h-2.1zM98.4 53.3h2.1v2.1h-2.1zM102.4 53.3h2.1v2.1h-2.1zM98.4 55.3h2.1v2.1h-2.1zM110.4 55.3h2.1v2.1h-2.1zM122.3 57.3h4.1v2.1h-4.1zM130.3 57.3h2.1v2.1h-2.1zM140.3 59.3h2.1v2.1h-2.1zM144.3 59.3h2.1v2.1h-2.1zM196.1 63.2h2.1v2.1h-2.1zM80.5 91.0h2.1v2.1h-2.1zM80.5 93.0h4.1v2.1h-4.1zM86.5 93.0h2.1v2.1h-2.1zM90.5 93.0h2.1v2.1h-2.1zM100.4 93.0h2.1v2.1h-2.1zM122.3 93.0h6.1v2.1h-6.1zM148.2 93.0h2.1v2.1h-2.1zM178.1 93.0h2.1v2.1h-2.1zM200.0 93.0h2.1v2.1h-2.1zM102.4 95.0h2.1v2.1h-2.1zM108.4 95.0h2.1v2.1h-2.1zM114.4 95.0h4.1v2.1h-4.1zM124.3 126.8h2.1v2.1h-2.1z"/>
<path fill="#fcfec5" d="M80.5 27.5h4.1v2.1h-4.1zM92.5 27.5h2.1v2.1h-2.1zM106.4 27.5h2.1v2.1h-2.1zM112.4 27.5h2.1v2.1h-2.1zM116.4 27.5h2.1v2.1h-2.1zM94.4 29.5h2.1v2.1h-2.1zM100.4 29.5h6.1v2.1h-6.1zM108.4 29.5h2.1v2.1h-2.1zM80.5 31.5h2.1v2.1h-2.1zM88.5 31.5h6.1v2.1h-6.1zM98.4 31.5h4.1v2.1h-4.1zM104.4 31.5h2.1v2.1h-2.1zM80.5 33.5h2.1v2.1h-2.1zM88.5 33.5h2.1v2.1h-2.1zM82.5 35.4h2.1v2.1h-2.1zM90.5 35.4h4.1v2.1h-4.1zM100.4 35.4h2.1v2.1h-2.1zM80.5 37.4h4.1v2.1h-4.1zM86.5 37.4h2.1v2.1h-2.1zM108.4 37.4h4.1v2.1h-4.1zM80.5 39.4h2.1v2.1h-2.1zM88.5 39.4h4.1v2.1h-4.1zM96.4 39.4h2.1v2.1h-2.1zM82.5 41.4h2.1v2.1h-2.1zM94.4 41.4h2.1v2.1h-2.1zM102.4 41.4h2.1v2.1h-2.1zM106.4 41.4h4.1v2.1h-4.1zM80.5 43.4h2.1v2.1h-2.1zM84.5 43.4h2.1v2.1h-2.1zM88.5 43.4h4.1v2.1h-4.1zM94.4 43.4h2.1v2.1h-2.1zM100.4 43.4h2.1v2.1h-2.1zM84.5 45.4h2.1v2.1h-2.1zM88.5 45.4h2.1v2.1h-2.1zM96.4 45.4h4.1v2.1h-4.1zM102.4 45.4h6.1v2.1h-6.1zM122.3 45.4h2.1v2.1h-2.1zM92.5 47.4h4.1v2.1h-4.1zM98.4 47.4h2.1v2.1h-2.1zM106.4 47.4h2.1v2.1h-2.1zM110.4 47.4h2.1v2.1h-2.1zM82.5 49.3h2.1v2.1h-2.1zM92.5 49.3h2.1v2.1h-2.1zM96.4 49.3h2.1v2.1h-2.1zM102.4 49.3h4.1v2.1h-4.1zM108.4 49.3h6.1v2.1h-6.1zM80.5 51.3h2.1v2.1h-2.1zM90.5 51.3h2.1v2.1h-2.1zM98.4 51.3h6.1v2.1h-6.1zM116.4 51.3h2.1v2.1h-2.1zM80.5 53.3h2.1v2.1h-2.1zM88.5 53.3h2.1v2.1h-2.1zM94.4 53.3h2.1v2.1h-2.1zM104.4 53.3h4.1v2.1h-4.1zM114.4 53.3h2.1v2.1h-2.1zM106.4 55.3h4.1v2.1h-4.1zM112.4 55.3h2.1v2.1h-2.1zM116.4 55.3h2.1v2.1h-2.1zM148.2 59.3h2.1v2.1h-2.1zM152.2 59.3h2.1v2.1h-2.1zM198.1 63.2h4.1v2.1h-4.1zM204.0 63.2h2.1v2.1h-2.1zM110.4 93.0h2.1v2.1h-2.1zM118.4 93.0h2.1v2.1h-2.1zM132.3 93.0h2.1v2.1h-2.1zM138.3 93.0h2.1v2.1h-2.1zM184.1 93.0h2.1v2.1h-2.1zM82.5 95.0h4.1v2.1h-4.1zM88.5 95.0h2.1v2.1h-2.1zM106.4 95.0h2.1v2.1h-2.1zM110.4 95.0h4.1v2.1h-4.1zM118.4 95.0h2.1v2.1h-2.1zM82.5 97.0h2.1v2.1h-2.1zM124.3 124.8h2.1v2.1h-2.1z"/>
<path fill="#ffffbf" d="M100.4 27.5h6.1v2.1h-6.1zM108.4 27.5h2.1v2.1h-2.1zM114.4 27.5h2.1v2.1h-2.1zM118.4 27.5h4.1v2.1h-4.1zM80.5 29.5h4.1v2.1h-4.1zM88.5 29.5h2.1v2.1h-2.1zM96.4 29.5h4.1v2.1h-4.1zM110.4 29.5h2.1v2.1h-2.1zM118.4 29.5h2.1v2.1h-2.1zM84.5 31.5h4.1v2.1h-4.1zM96.4 31.5h2.1v2.1h-2.1zM110.4 31.5h2.1v2.1h-2.1zM116.4 31.5h2.1v2.1h-2.1zM82.5 33.5h2.1v2.1h-2.1zM86.5 33.5h2.1v2.1h-2.1zM90.5 33.5h2.1v2.1h-2.1zM100.4 33.5h2.1v2.1h-2.1zM104.4 33.5h2.1v2.1h-2.1zM86.5 35.4h2.1v2.1h-2.1zM102.4 35.4h4.1v2.1h-4.1zM108.4 35.4h4.1v2.1h-4.1zM114.4 35.4h2.1v2.1h-2.1zM92.5 37.4h2.1v2.1h-2.1zM96.4 37.4h2.1v2.1h-2.1zM100.4 37.4h4.1v2.1h-4.1zM106.4 37.4h2.1v2.1h-2.1zM118.4 37.4h2.1v2.1h-2.1zM82.5 39.4h2.1v2.1h-2.1zM94.4 39.4h2.1v2.1h-2.1zM102.4 39.4h4.1v2.1h-4.1zM114.4 39.4h2.1v2.1h-2.1zM118.4 39.4h2.1v2.1h-2.1zM84.5 41.4h2.1v2.1h-2.1zM100.4 41.4h2.1v2.1h-2.1zM104.4 41.4h2.1v2.1h-2.1zM114.4 41.4h2.1v2.1h-2.1zM104.4 43.4h12.1v2.1h-12.1zM80.5 45.4h4.1v2.1h-4.1zM94.4 45.4h2.1v2.1h-2.1zM110.4 45.4h2.1v2.1h-2.1zM116.4 45.4h2.1v2.1h-2.1zM80.5 47.4h2.1v2.1h-2.1zM86.5 47.4h2.1v2.1h-2.1zM102.4 47.4h4.1v2.1h-4.1zM114.4 47.4h2.1v2.1h-2.1zM100.4 49.3h2.1v2.1h-2.1zM106.4 49.3h2.1v2.1h-2.1zM96.4 51.3h2.1v2.1h-2.1zM104.4 51.3h4.1v2.1h-4.1zM96.4 53.3h2.1v2.1h-2.1zM110.4 53.3h2.1v2.1h-2.1zM114.4 55.3h2.1v2.1h-2.1zM122.3 55.3h2.1v2.1h-2.1zM128.3 57.3h2.1v2.1h-2.1zM150.2 59.3h2.1v2.1h-2.1zM154.2 59.3h2.1v2.1h-2.1zM168.2 61.3h6.1v2.1h-6.1zM206.0 63.2h4.1v2.1h-4.1zM88.5 93.0h2.1v2.1h-2.1zM128.3 93.0h2.1v2.1h-2.1zM140.3 93.0h6.1v2.1h-6.1zM154.2 93.0h4.1v2.1h-4.1zM160.2 93.0h6.1v2.1h-6.1zM172.2 93.0h4.1v2.1h-4.1zM80.5 95.0h2.1v2.1h-2.1zM94.4 95.0h6.1v2.1h-6.1zM104.4 95.0h2.1v2.1h-2.1zM200.0 95.0h2.1v2.1h-2.1zM204.0 95.0h2.1v2.1h-2.1zM86.5 97.0h2.1v2.1h-2.1zM128.3 122.8h2.1v2.1h-2.1zM130.3 124.8h2.1v2.1h-2.1zM124.3 128.8h2.1v2.1h-2.1z"/>
<path fill="#fffcba" d="M94.4 27.5h2.1v2.1h-2.1zM110.4 27.5h2.1v2.1h-2.1zM124.3 27.5h2.1v2.1h-2.1zM132.3 27.5h2.1v2.1h-2.1zM112.4 29.5h6.1v2.1h-6.1zM108.4 31.5h2.1v2.1h-2.1zM114.4 31.5h2.1v2.1h-2.1zM118.4 31.5h4.1v2.1h-4.1zM92.5 33.5h4.1v2.1h-4.1zM106.4 33.5h2.1v2.1h-2.1zM112.4 33.5h6.1v2.1h-6.1zM120.3 33.5h4.1v2.1h-4.1zM96.4 35.4h4.1v2.1h-4.1zM112.4 35.4h2.1v2.1h-2.1zM116.4 35.4h4.1v2.1h-4.1zM98.4 37.4h2.1v2.1h-2.1zM112.4 37.4h2.1v2.1h-2.1zM120.3 37.4h2.1v2.1h-2.1zM110.4 39.4h2.1v2.1h-2.1zM116.4 39.4h2.1v2.1h-2.1zM116.4 41.4h4.1v2.1h-4.1zM116.4 43.4h4.1v2.1h-4.1zM122.3 43.4h2.1v2.1h-2.1zM114.4 45.4h2.1v2.1h-2.1zM88.5 47.4h4.1v2.1h-4.1zM96.4 47.4h2.1v2.1h-2.1zM112.4 47.4h2.1v2.1h-2.1zM116.4 47.4h2.1v2.1h-2.1zM80.5 49.3h2.1v2.1h-2.1zM114.4 49.3h2.1v2.1h-2.1zM108.4 51.3h8.1v2.1h-8.1zM118.4 51.3h2.1v2.1h-2.1zM124.3 51.3h2.1v2.1h-2.1zM86.5 53.3h2.1v2.1h-2.1zM108.4 53.3h2.1v2.1h-2.1zM112.4 53.3h2.1v2.1h-2.1zM118.4 55.3h4.1v2.1h-4.1zM124.3 55.3h2.1v2.1h-2.1zM132.3 57.3h6.1v2.1h-6.1zM142.3 57.3h4.1v2.1h-4.1zM134.3 93.0h4.1v2.1h-4.1zM150.2 93.0h4.1v2.1h-4.1zM158.2 93.0h2.1v2.1h-2.1zM168.2 93.0h2.1v2.1h-2.1zM86.5 95.0h2.1v2.1h-2.1zM90.5 95.0h4.1v2.1h-4.1zM100.4 95.0h2.1v2.1h-2.1zM184.1 95.0h2.1v2.1h-2.1zM190.1 95.0h2.1v2.1h-2.1zM194.1 95.0h2.1v2.1h-2.1zM198.1 95.0h2.1v2.1h-2.1zM202.0 95.0h2.1v2.1h-2.1zM206.0 95.0h6.1v2.1h-6.1zM80.5 97.0h2.1v2.1h-2.1zM100.4 97.0h6.1v2.1h-6.1zM126.3 122.8h2.1v2.1h-2.1zM126.3 128.8h2.1v2.1h-2.1z"/>
<path fill="#fff9b5" d="M122.3 27.5h2.1v2.1h-2.1zM106.4 29.5h2.1v2.1h-2.1zM120.3 29.5h4.1v2.1h-4.1zM112.4 31.5h2.1v2.1h-2.1zM122.3 31.5h4.1v2.1h-4.1zM128.3 31.5h2.1v2.1h-2.1zM118.4 33.5h2.1v2.1h-2.1zM126.3 33.5h4.1v2.1h-4.1zM132.3 35.4h2.1v2.1h-2.1zM104.4 37.4h2.1v2.1h-2.1zM116.4 37.4h2.1v2.1h-2.1zM122.3 37.4h2.1v2.1h-2.1zM108.4 39.4h2.1v2.1h-2.1zM112.4 39.4h2.1v2.1h-2.1zM122.3 39.4h2.1v2.1h-2.1zM126.3 39.4h2.1v2.1h-2.1zM130.3 39.4h2.1v2.1h-2.1zM120.3 41.4h4.1v2.1h-4.1zM126.3 41.4h4.1v2.1h-4.1zM120.3 43.4h2.1v2.1h-2.1zM112.4 45.4h2.1v2.1h-2.1zM118.4 45.4h2.1v2.1h-2.1zM118.4 47.4h2.1v2.1h-2.1zM122.3 47.4h2.1v2.1h-2.1zM126.3 47.4h2.1v2.1h-2.1zM124.3 49.3h2.1v2.1h-2.1zM120.3 51.3h4.1v2.1h-4.1zM130.3 51.3h4.1v2.1h-4.1zM116.4 53.3h2.1v2.1h-2.1zM120.3 53.3h4.1v2.1h-4.1zM128.3 53.3h2.1v2.1h-2.1zM126.3 55.3h2.1v2.1h-2.1zM130.3 55.3h2.1v2.1h-2.1zM138.3 57.3h2.1v2.1h-2.1zM148.2 57.3h2.1v2.1h-2.1zM174.1 61.3h2.1v2.1h-2.1zM210.0 63.2h2.1v2.1h-2.1zM170.2 93.0h2.1v2.1h-2.1zM94.4 97.0h6.1v2.1h-6.1zM108.4 97.0h2.1v2.1h-2.1zM112.4 97.0h4.1v2.1h-4.1zM180.1 97.0h2.1v2.1h-2.1zM198.1 97.0h2.1v2.1h-2.1zM202.0 97.0h2.1v2.1h-2.1zM210.0 97.0h2.1v2.1h-2.1zM86.5 104.9h2.1v2.1h-2.1zM124.3 122.8h2.1v2.1h-2.1zM122.3 126.8h2.1v2.1h-2.1zM128.3 128.8h2.1v2.1h-2.1zM80.5 146.6h2.1v2.1h-2.1zM98.4 154.6h2.1v2.1h-2.1zM80.5 164.5h2.1v2.1h-2.1z"/>
<path fill="#fff5b0" d="M126.3 27.5h2.1v2.1h-2.1zM126.3 31.5h2.1v2.1h-2.1zM130.3 31.5h2.1v2.1h-2.1zM124.3 33.5h2.1v2.1h-2.1zM120.3 35.4h6.1v2.1h-6.1zM128.3 35.4h4.1v2.1h-4.1zM114.4 37.4h2.1v2.1h-2.1zM124.3 37.4h4.1v2.1h-4.1zM112.4 41.4h2.1v2.1h-2.1zM130.3 41.4h4.1v2.1h-4.1zM146.2 41.4h2.1v2.1h-2.1zM124.3 43.4h8.1v2.1h-8.1zM134.3 43.4h2.1v2.1h-2.1zM120.3 45.4h2.1v2.1h-2.1zM124.3 45.4h2.1v2.1h-2.1zM120.3 47.4h2.1v2.1h-2.1zM124.3 47.4h2.1v2.1h-2.1zM128.3 47.4h4.1v2.1h-4.1zM116.4 49.3h2.1v2.1h-2.1zM120.3 49.3h4.1v2.1h-4.1zM128.3 49.3h2.1v2.1h-2.1zM124.3 53.3h2.1v2.1h-2.1zM128.3 55.3h2.1v2.1h-2.1zM132.3 55.3h2.1v2.1h-2.1zM140.3 57.3h2.1v2.1h-2.1zM146.2 57.3h2.1v2.1h-2.1zM156.2 59.3h6.1v2.1h-6.1zM130.3 93.0h2.1v2.1h-2.1zM146.2 93.0h2.1v2.1h-2.1zM120.3 95.0h2.1v2.1h-2.1zM128.3 95.0h2.1v2.1h-2.1zM134.3 95.0h4.1v2.1h-4.1zM168.2 95.0h2.1v2.1h-2.1zM172.2 95.0h2.1v2.1h-2.1zM176.1 95.0h4.1v2.1h-4.1zM182.1 95.0h2.1v2.1h-2.1zM188.1 95.0h2.1v2.1h-2.1zM192.1 95.0h2.1v2.1h-2.1zM196.1 95.0h2.1v2.1h-2.1zM84.5 97.0h2.1v2.1h-2.1zM88.5 97.0h2.1v2.1h-2.1zM92.5 97.0h2.1v2.1h-2.1zM106.4 97.0h2.1v2.1h-2.1zM110.4 97.0h2.1v2.1h-2.1zM116.4 97.0h2.1v2.1h-2.1zM200.0 97.0h2.1v2.1h-2.1zM80.5 99.0h2.1v2.1h-2.1zM110.4 99.0h2.1v2.1h-2.1zM90.5 101.0h2.1v2.1h-2.1zM94.4 101.0h2.1v2.1h-2.1zM100.4 101.0h2.1v2.1h-2.1zM80.5 103.0h4.1v2.1h-4.1zM90.5 103.0h2.1v2.1h-2.1zM96.4 103.0h2.1v2.1h-2.1zM80.5 108.9h2.1v2.1h-2.1zM86.5 112.9h2.1v2.1h-2.1zM102.4 116.9h2.1v2.1h-2.1zM80.5 122.8h2.1v2.1h-2.1zM80.5 126.8h2.1v2.1h-2.1zM130.3 126.8h2.1v2.1h-2.1zM80.5 130.8h4.1v2.1h-4.1zM90.5 130.8h2.1v2.1h-2.1zM108.4 130.8h2.1v2.1h-2.1zM98.4 132.7h2.1v2.1h-2.1zM104.4 132.7h2.1v2.1h-2.1zM80.5 134.7h2.1v2.1h-2.1zM80.5 136.7h2.1v2.1h-2.1zM110.4 136.7h2.1v2.1h-2.1zM80.5 138.7h2.1v2.1h-2.1zM108.4 140.7h2.1v2.1h-2.1zM80.5 144.7h2.1v2.1h-2.1zM80.5 152.6h2.1v2.1h-2.1zM100.4 152.6h2.1v2.1h-2.1zM80.5 154.6h2.1v2.1h-2.1zM80.5 156.6h2.1v2.1h-2.1zM94.4 162.5h2.1v2.1h-2.1z"/>
<path fill="#fff2ab" d="M128.3 27.5h4.1v2.1h-4.1zM134.3 27.5h2.1v2.1h-2.1zM140.3 27.5h2.1v2.1h-2.1zM124.3 29.5h6.1v2.1h-6.1zM132.3 29.5h2.1v2.1h-2.1zM140.3 29.5h2.1v2.1h-2.1zM144.3 29.5h4.1v2.1h-4.1zM134.3 31.5h4.1v2.1h-4.1zM142.3 31.5h2.1v2.1h-2.1zM132.3 33.5h2.1v2.1h-2.1zM136.3 33.5h2.1v2.1h-2.1zM140.3 33.5h2.1v2.1h-2.1zM128.3 37.4h6.1v2.1h-6.1zM128.3 39.4h2.1v2.1h-2.1zM132.3 39.4h2.1v2.1h-2.1zM136.3 39.4h2.1v2.1h-2.1zM138.3 41.4h4.1v2.1h-4.1zM126.3 45.4h4.1v2.1h-4.1zM136.3 47.4h2.1v2.1h-2.1zM144.3 47.4h2.1v2.1h-2.1zM118.4 49.3h2.1v2.1h-2.1zM130.3 49.3h4.1v2.1h-4.1zM136.3 49.3h2.1v2.1h-2.1zM140.3 49.3h2.1v2.1h-2.1zM128.3 51.3h2.1v2.1h-2.1zM134.3 51.3h2.1v2.1h-2.1zM138.3 51.3h2.1v2.1h-2.1zM118.4 53.3h2.1v2.1h-2.1zM130.3 53.3h2.1v2.1h-2.1zM136.3 53.3h2.1v2.1h-2.1zM136.3 55.3h2.1v2.1h-2.1zM150.2 57.3h2.1v2.1h-2.1zM154.2 57.3h2.1v2.1h-2.1zM176.1 61.3h2.1v2.1h-2.1zM124.3 95.0h2.1v2.1h-2.1zM130.3 95.0h4.1v2.1h-4.1zM142.3 95.0h2.1v2.1h-2.1zM170.2 95.0h2.1v2.1h-2.1zM174.1 95.0h2.1v2.1h-2.1zM180.1 95.0h2.1v2.1h-2.1zM186.1 95.0h2.1v2.1h-2.1zM90.5 97.0h2.1v2.1h-2.1zM192.1 97.0h2.1v2.1h-2.1zM208.0 97.0h2.1v2.1h-2.1zM82.5 99.0h6.1v2.1h-6.1zM90.5 99.0h2.1v2.1h-2.1zM96.4 99.0h6.1v2.1h-6.1zM104.4 99.0h6.1v2.1h-6.1zM114.4 99.0h2.1v2.1h-2.1zM80.5 101.0h2.1v2.1h-2.1zM88.5 101.0h2.1v2.1h-2.1zM80.5 104.9h4.1v2.1h-4.1zM80.5 106.9h2.1v2.1h-2.1zM92.5 106.9h2.1v2.1h-2.1zM102.4 108.9h4.1v2.1h-4.1zM82.5 110.9h2.1v2.1h-2.1zM80.5 112.9h2.1v2.1h-2.1zM88.5 112.9h2.1v2.1h-2.1zM80.5 114.9h4.1v2.1h-4.1zM88.5 114.9h2.1v2.1h-2.1zM94.4 114.9h2.1v2.1h-2.1zM100.4 114.9h2.1v2.1h-2.1zM80.5 116.9h2.1v2.1h-2.1zM86.5 116.9h4.1v2.1h-4.1zM94.4 116.9h2.1v2.1h-2.1zM100.4 116.9h2.1v2.1h-2.1zM104.4 116.9h2.1v2.1h-2.1zM116.4 116.9h2.1v2.1h-2.1zM80.5 118.8h4.1v2.1h-4.1zM94.4 118.8h2.1v2.1h-2.1zM100.4 118.8h2.1v2.1h-2.1zM120.3 118.8h2.1v2.1h-2.1zM80.5 120.8h4.1v2.1h-4.1zM96.4 120.8h4.1v2.1h-4.1zM122.3 120.8h2.1v2.1h-2.1zM104.4 122.8h2.1v2.1h-2.1zM122.3 122.8h2.1v2.1h-2.1zM80.5 124.8h2.1v2.1h-2.1zM88.5 124.8h2.1v2.1h-2.1zM96.4 124.8h2.1v2.1h-2.1zM108.4 124.8h2.1v2.1h-2.1zM120.3 124.8h4.1v2.1h-4.1zM106.4 126.8h2.1v2.1h-2.1zM120.3 126.8h2.1v2.1h-2.1zM80.5 128.8h4.1v2.1h-4.1zM116.4 130.8h2.1v2.1h-2.1zM80.5 132.7h4.1v2.1h-4.1zM82.5 134.7h2.1v2.1h-2.1zM86.5 136.7h2.1v2.1h-2.1zM82.5 138.7h2.1v2.1h-2.1zM90.5 138.7h2.1v2.1h-2.1zM86.5 140.7h2.1v2.1h-2.1zM94.4 140.7h2.1v2.1h-2.1zM80.5 142.7h2.1v2.1h-2.1zM98.4 142.7h2.1v2.1h-2.1zM88.5 144.7h2.1v2.1h-2.1zM100.4 144.7h2.1v2.1h-2.1zM104.4 144.7h2.1v2.1h-2.1zM82.5 146.6h2.1v2.1h-2.1zM86.5 146.6h2.1v2.1h-2.1zM106.4 146.6h2.1v2.1h-2.1zM80.5 148.6h2.1v2.1h-2.1zM86.5 148.6h2.1v2.1h-2.1zM80.5 150.6h2.1v2.1h-2.1zM90.5 150.6h4.1v2.1h-4.1zM82.5 152.6h2.1v2.1h-2.1zM94.4 152.6h4.1v2.1h-4.1zM102.4 154.6h4.1v2.1h-4.1zM110.4 154.6h2.1v2.1h-2.1zM84.5 156.6h2.1v2.1h-2.1zM88.5 156.6h2.1v2.1h-2.1zM80.5 158.6h2.1v2.1h-2.1zM94.4 158.6h2.1v2.1h-2.1zM110.4 158.6h2.1v2.1h-2.1zM80.5 160.5h2.1v2.1h-2.1zM88.5 160.5h2.1v2.1h-2.1zM80.5 162.5h6.1v2.1h-6.1zM106.4 162.5h4.1v2.1h-4.1zM98.4 164.5h2.1v2.1h-2.1zM114.4 164.5h2.1v2.1h-2.1z"/>
<path fill="#feefa7" d="M136.3 27.5h4.1v2.1h-4.1zM142.3 27.5h4.1v2.1h-4.1zM130.3 29.5h2.1v2.1h-2.1zM136.3 29.5h2.1v2.1h-2.1zM148.2 31.5h2.1v2.1h-2.1zM130.3 33.5h2.1v2.1h-2.1zM134.3 33.5h2.1v2.1h-2.1zM138.3 33.5h2.1v2.1h-2.1zM142.3 33.5h2.1v2.1h-2.1zM126.3 35.4h2.1v2.1h-2.1zM134.3 37.4h6.1v2.1h-6.1zM148.2 37.4h2.1v2.1h-2.1zM120.3 39.4h2.1v2.1h-2.1zM124.3 39.4h2.1v2.1h-2.1zM142.3 39.4h2.1v2.1h-2.1zM124.3 41.4h2.1v2.1h-2.1zM178.1 41.4h2.1v2.1h-2.1zM132.3 43.4h2.1v2.1h-2.1zM134.3 45.4h4.1v2.1h-4.1zM140.3 45.4h2.1v2.1h-2.1zM134.3 47.4h2.1v2.1h-2.1zM138.3 47.4h4.1v2.1h-4.1zM146.2 47.4h2.1v2.1h-2.1zM126.3 49.3h2.1v2.1h-2.1zM134.3 49.3h2.1v2.1h-2.1zM138.3 49.3h2.1v2.1h-2.1zM142.3 49.3h2.1v2.1h-2.1zM126.3 51.3h2.1v2.1h-2.1zM136.3 51.3h2.1v2.1h-2.1zM142.3 51.3h2.1v2.1h-2.1zM126.3 53.3h2.1v2.1h-2.1zM132.3 53.3h4.1v2.1h-4.1zM138.3 53.3h4.1v2.1h-4.1zM146.2 53.3h2.1v2.1h-2.1zM134.3 55.3h2.1v2.1h-2.1zM138.3 55.3h2.1v2.1h-2.1zM146.2 55.3h2.1v2.1h-2.1zM156.2 55.3h2.1v2.1h-2.1zM158.2 57.3h2.1v2.1h-2.1zM178.1 61.3h4.1v2.1h-4.1zM184.1 61.3h2.1v2.1h-2.1zM122.3 95.0h2.1v2.1h-2.1zM126.3 95.0h2.1v2.1h-2.1zM138.3 95.0h4.1v2.1h-4.1zM158.2 95.0h2.1v2.1h-2.1zM118.4 97.0h2.1v2.1h-2.1zM178.1 97.0h2.1v2.1h-2.1zM182.1 97.0h4.1v2.1h-4.1zM188.1 97.0h4.1v2.1h-4.1zM194.1 97.0h4.1v2.1h-4.1zM204.0 97.0h4.1v2.1h-4.1zM88.5 99.0h2.1v2.1h-2.1zM92.5 99.0h4.1v2.1h-4.1zM102.4 99.0h2.1v2.1h-2.1zM210.0 99.0h2.1v2.1h-2.1zM82.5 101.0h4.1v2.1h-4.1zM92.5 101.0h2.1v2.1h-2.1zM96.4 101.0h4.1v2.1h-4.1zM112.4 101.0h2.1v2.1h-2.1zM84.5 103.0h6.1v2.1h-6.1zM100.4 103.0h2.1v2.1h-2.1zM84.5 104.9h2.1v2.1h-2.1zM102.4 104.9h4.1v2.1h-4.1zM110.4 104.9h2.1v2.1h-2.1zM82.5 106.9h2.1v2.1h-2.1zM90.5 106.9h2.1v2.1h-2.1zM104.4 106.9h2.1v2.1h-2.1zM82.5 108.9h6.1v2.1h-6.1zM90.5 108.9h2.1v2.1h-2.1zM94.4 108.9h2.1v2.1h-2.1zM98.4 108.9h2.1v2.1h-2.1zM110.4 108.9h2.1v2.1h-2.1zM80.5 110.9h2.1v2.1h-2.1zM88.5 110.9h4.1v2.1h-4.1zM100.4 110.9h4.1v2.1h-4.1zM110.4 110.9h2.1v2.1h-2.1zM82.5 112.9h4.1v2.1h-4.1zM98.4 112.9h6.1v2.1h-6.1zM84.5 114.9h2.1v2.1h-2.1zM90.5 114.9h2.1v2.1h-2.1zM104.4 114.9h4.1v2.1h-4.1zM110.4 114.9h2.1v2.1h-2.1zM98.4 116.9h2.1v2.1h-2.1zM84.5 118.8h6.1v2.1h-6.1zM104.4 118.8h2.1v2.1h-2.1zM114.4 118.8h2.1v2.1h-2.1zM106.4 120.8h2.1v2.1h-2.1zM112.4 120.8h4.1v2.1h-4.1zM120.3 120.8h2.1v2.1h-2.1zM124.3 120.8h2.1v2.1h-2.1zM84.5 122.8h8.1v2.1h-8.1zM108.4 122.8h2.1v2.1h-2.1zM120.3 122.8h2.1v2.1h-2.1zM90.5 124.8h4.1v2.1h-4.1zM106.4 124.8h2.1v2.1h-2.1zM110.4 124.8h2.1v2.1h-2.1zM116.4 124.8h2.1v2.1h-2.1zM82.5 126.8h2.1v2.1h-2.1zM86.5 126.8h4.1v2.1h-4.1zM92.5 126.8h10.1v2.1h-10.1zM116.4 126.8h2.1v2.1h-2.1zM86.5 128.8h2.1v2.1h-2.1zM92.5 128.8h2.1v2.1h-2.1zM96.4 128.8h2.1v2.1h-2.1zM108.4 128.8h2.1v2.1h-2.1zM112.4 128.8h2.1v2.1h-2.1zM120.3 128.8h4.1v2.1h-4.1zM88.5 130.8h2.1v2.1h-2.1zM100.4 130.8h4.1v2.1h-4.1zM110.4 130.8h2.1v2.1h-2.1zM114.4 130.8h2.1v2.1h-2.1zM84.5 132.7h2.1v2.1h-2.1zM88.5 132.7h2.1v2.1h-2.1zM94.4 132.7h4.1v2.1h-4.1zM102.4 132.7h2.1v2.1h-2.1zM110.4 132.7h2.1v2.1h-2.1zM114.4 132.7h2.1v2.1h-2.1zM84.5 134.7h2.1v2.1h-2.1zM108.4 134.7h2.1v2.1h-2.1zM112.4 134.7h2.1v2.1h-2.1zM82.5 136.7h2.1v2.1h-2.1zM94.4 136.7h2.1v2.1h-2.1zM98.4 136.7h2.1v2.1h-2.1zM88.5 138.7h2.1v2.1h-2.1zM94.4 138.7h2.1v2.1h-2.1zM108.4 138.7h2.1v2.1h-2.1zM80.5 140.7h2.1v2.1h-2.1zM88.5 140.7h6.1v2.1h-6.1zM102.4 140.7h2.1v2.1h-2.1zM82.5 142.7h6.1v2.1h-6.1zM94.4 142.7h2.1v2.1h-2.1zM92.5 144.7h2.1v2.1h-2.1zM102.4 144.7h2.1v2.1h-2.1zM88.5 146.6h2.1v2.1h-2.1zM98.4 146.6h2.1v2.1h-2.1zM108.4 146.6h2.1v2.1h-2.1zM82.5 148.6h4.1v2.1h-4.1zM88.5 148.6h4.1v2.1h-4.1zM108.4 148.6h4.1v2.1h-4.1zM94.4 150.6h4.1v2.1h-4.1zM100.4 150.6h2.1v2.1h-2.1zM108.4 150.6h2.1v2.1h-2.1zM84.5 152.6h2.1v2.1h-2.1zM92.5 152.6h2.1v2.1h-2.1zM108.4 152.6h2.1v2.1h-2.1zM84.5 154.6h8.1v2.1h-8.1zM94.4 154.6h4.1v2.1h-4.1zM100.4 154.6h2.1v2.1h-2.1zM82.5 156.6h2.1v2.1h-2.1zM90.5 156.6h4.1v2.1h-4.1zM100.4 158.6h2.1v2.1h-2.1zM104.4 158.6h4.1v2.1h-4.1zM112.4 158.6h4.1v2.1h-4.1zM98.4 160.5h2.1v2.1h-2.1zM106.4 160.5h2.1v2.1h-2.1zM110.4 160.5h2.1v2.1h-2.1zM88.5 162.5h2.1v2.1h-2.1zM82.5 164.5h4.1v2.1h-4.1zM88.5 164.5h4.1v2.1h-4.1zM96.4 164.5h2.1v2.1h-2.1z"/>
<path fill="#feeca2" d="M146.2 27.5h2.1v2.1h-2.1zM134.3 29.5h2.1v2.1h-2.1zM138.3 29.5h2.1v2.1h-2.1zM142.3 29.5h2.1v2.1h-2.1zM150.2 29.5h2.1v2.1h-2.1zM132.3 31.5h2.1v2.1h-2.1zM138.3 31.5h2.1v2.1h-2.1zM144.3 31.5h4.1v2.1h-4.1zM144.3 33.5h4.1v2.1h-4.1zM134.3 35.4h10.1v2.1h-10.1zM146.2 35.4h2.1v2.1h-2.1zM140.3 37.4h2.1v2.1h-2.1zM152.2 37.4h2.1v2.1h-2.1zM134.3 39.4h2.1v2.1h-2.1zM140.3 39.4h2.1v2.1h-2.1zM144.3 39.4h4.1v2.1h-4.1zM178.1 39.4h2.1v2.1h-2.1zM134.3 41.4h4.1v2.1h-4.1zM142.3 41.4h2.1v2.1h-2.1zM150.2 41.4h2.1v2.1h-2.1zM180.1 41.4h2.1v2.1h-2.1zM136.3 43.4h12.1v2.1h-12.1zM130.3 45.4h4.1v2.1h-4.1zM138.3 45.4h2.1v2.1h-2.1zM142.3 45.4h2.1v2.1h-2.1zM132.3 47.4h2.1v2.1h-2.1zM146.2 49.3h2.1v2.1h-2.1zM140.3 51.3h2.1v2.1h-2.1zM146.2 51.3h2.1v2.1h-2.1zM142.3 53.3h4.1v2.1h-4.1zM148.2 53.3h2.1v2.1h-2.1zM152.2 53.3h2.1v2.1h-2.1zM140.3 55.3h4.1v2.1h-4.1zM150.2 55.3h2.1v2.1h-2.1zM158.2 55.3h2.1v2.1h-2.1zM166.2 59.3h2.1v2.1h-2.1zM182.1 61.3h2.1v2.1h-2.1zM186.1 61.3h2.1v2.1h-2.1zM190.1 61.3h2.1v2.1h-2.1zM144.3 95.0h4.1v2.1h-4.1zM150.2 95.0h8.1v2.1h-8.1zM160.2 95.0h2.1v2.1h-2.1zM164.2 95.0h2.1v2.1h-2.1zM176.1 97.0h2.1v2.1h-2.1zM186.1 97.0h2.1v2.1h-2.1zM112.4 99.0h2.1v2.1h-2.1zM190.1 99.0h4.1v2.1h-4.1zM200.0 99.0h2.1v2.1h-2.1zM86.5 101.0h2.1v2.1h-2.1zM102.4 101.0h6.1v2.1h-6.1zM92.5 103.0h2.1v2.1h-2.1zM104.4 103.0h4.1v2.1h-4.1zM98.4 104.9h2.1v2.1h-2.1zM86.5 106.9h2.1v2.1h-2.1zM98.4 106.9h6.1v2.1h-6.1zM88.5 108.9h2.1v2.1h-2.1zM100.4 108.9h2.1v2.1h-2.1zM106.4 108.9h2.1v2.1h-2.1zM86.5 110.9h2.1v2.1h-2.1zM92.5 110.9h6.1v2.1h-6.1zM94.4 112.9h2.1v2.1h-2.1zM106.4 112.9h6.1v2.1h-6.1zM92.5 114.9h2.1v2.1h-2.1zM98.4 114.9h2.1v2.1h-2.1zM102.4 114.9h2.1v2.1h-2.1zM108.4 114.9h2.1v2.1h-2.1zM114.4 114.9h2.1v2.1h-2.1zM82.5 116.9h4.1v2.1h-4.1zM92.5 116.9h2.1v2.1h-2.1zM96.4 116.9h2.1v2.1h-2.1zM106.4 116.9h8.1v2.1h-8.1zM90.5 118.8h4.1v2.1h-4.1zM98.4 118.8h2.1v2.1h-2.1zM106.4 118.8h8.1v2.1h-8.1zM116.4 118.8h2.1v2.1h-2.1zM84.5 120.8h6.1v2.1h-6.1zM94.4 120.8h2.1v2.1h-2.1zM104.4 120.8h2.1v2.1h-2.1zM108.4 120.8h4.1v2.1h-4.1zM118.4 120.8h2.1v2.1h-2.1zM92.5 122.8h4.1v2.1h-4.1zM98.4 122.8h6.1v2.1h-6.1zM106.4 122.8h2.1v2.1h-2.1zM112.4 122.8h2.1v2.1h-2.1zM82.5 124.8h2.1v2.1h-2.1zM86.5 124.8h2.1v2.1h-2.1zM94.4 124.8h2.1v2.1h-2.1zM98.4 124.8h2.1v2.1h-2.1zM102.4 124.8h4.1v2.1h-4.1zM84.5 126.8h2.1v2.1h-2.1zM102.4 126.8h2.1v2.1h-2.1zM108.4 126.8h8.1v2.1h-8.1zM84.5 128.8h2.1v2.1h-2.1zM94.4 128.8h2.1v2.1h-2.1zM100.4 128.8h8.1v2.1h-8.1zM114.4 128.8h4.1v2.1h-4.1zM84.5 130.8h2.1v2.1h-2.1zM94.4 130.8h2.1v2.1h-2.1zM98.4 130.8h2.1v2.1h-2.1zM118.4 130.8h4.1v2.1h-4.1zM86.5 132.7h2.1v2.1h-2.1zM100.4 132.7h2.1v2.1h-2.1zM106.4 132.7h4.1v2.1h-4.1zM112.4 132.7h2.1v2.1h-2.1zM118.4 132.7h2.1v2.1h-2.1zM88.5 134.7h2.1v2.1h-2.1zM94.4 134.7h6.1v2.1h-6.1zM102.4 134.7h6.1v2.1h-6.1zM110.4 134.7h2.1v2.1h-2.1zM116.4 134.7h2.1v2.1h-2.1zM84.5 136.7h2.1v2.1h-2.1zM90.5 136.7h4.1v2.1h-4.1zM96.4 136.7h2.1v2.1h-2.1zM106.4 136.7h2.1v2.1h-2.1zM84.5 138.7h2.1v2.1h-2.1zM98.4 138.7h2.1v2.1h-2.1zM110.4 138.7h2.1v2.1h-2.1zM82.5 140.7h4.1v2.1h-4.1zM96.4 140.7h6.1v2.1h-6.1zM106.4 140.7h2.1v2.1h-2.1zM110.4 140.7h2.1v2.1h-2.1zM90.5 142.7h2.1v2.1h-2.1zM96.4 142.7h2.1v2.1h-2.1zM100.4 142.7h2.1v2.1h-2.1zM82.5 144.7h6.1v2.1h-6.1zM90.5 144.7h2.1v2.1h-2.1zM96.4 144.7h4.1v2.1h-4.1zM108.4 144.7h2.1v2.1h-2.1zM84.5 146.6h2.1v2.1h-2.1zM90.5 146.6h2.1v2.1h-2.1zM94.4 146.6h4.1v2.1h-4.1zM104.4 146.6h2.1v2.1h-2.1zM112.4 146.6h2.1v2.1h-2.1zM92.5 148.6h16.0v2.1h-16.0zM84.5 150.6h4.1v2.1h-4.1zM114.4 150.6h2.1v2.1h-2.1zM86.5 152.6h4.1v2.1h-4.1zM102.4 152.6h2.1v2.1h-2.1zM106.4 152.6h2.1v2.1h-2.1zM110.4 152.6h2.1v2.1h-2.1zM82.5 154.6h2.1v2.1h-2.1zM86.5 156.6h2.1v2.1h-2.1zM94.4 156.6h6.1v2.1h-6.1zM102.4 156.6h4.1v2.1h-4.1zM108.4 156.6h8.1v2.1h-8.1zM82.5 158.6h2.1v2.1h-2.1zM86.5 158.6h8.1v2.1h-8.1zM96.4 158.6h4.1v2.1h-4.1zM108.4 158.6h2.1v2.1h-2.1zM116.4 158.6h2.1v2.1h-2.1zM82.5 160.5h6.1v2.1h-6.1zM90.5 160.5h8.1v2.1h-8.1zM104.4 160.5h2.1v2.1h-2.1zM116.4 160.5h2.1v2.1h-2.1zM86.5 162.5h2.1v2.1h-2.1zM90.5 162.5h2.1v2.1h-2.1zM96.4 162.5h2.1v2.1h-2.1zM104.4 162.5h2.1v2.1h-2.1zM114.4 162.5h2.1v2.1h-2.1zM86.5 164.5h2.1v2.1h-2.1zM102.4 164.5h2.1v2.1h-2.1zM106.4 164.5h2.1v2.1h-2.1zM110.4 164.5h2.1v2.1h-2.1z"/>
<path fill="#fee89d" d="M150.2 27.5h2.1v2.1h-2.1zM148.2 29.5h2.1v2.1h-2.1zM140.3 31.5h2.1v2.1h-2.1zM148.2 33.5h2.1v2.1h-2.1zM154.2 33.5h2.1v2.1h-2.1zM144.3 35.4h2.1v2.1h-2.1zM148.2 35.4h2.1v2.1h-2.1zM144.3 37.4h4.1v2.1h-4.1zM154.2 37.4h2.1v2.1h-2.1zM138.3 39.4h2.1v2.1h-2.1zM148.2 39.4h6.1v2.1h-6.1zM154.2 41.4h2.1v2.1h-2.1zM176.1 41.4h2.1v2.1h-2.1zM154.2 43.4h2.1v2.1h-2.1zM176.1 43.4h4.1v2.1h-4.1zM144.3 45.4h2.1v2.1h-2.1zM148.2 45.4h4.1v2.1h-4.1zM142.3 47.4h2.1v2.1h-2.1zM148.2 47.4h2.1v2.1h-2.1zM148.2 49.3h2.1v2.1h-2.1zM154.2 49.3h2.1v2.1h-2.1zM144.3 51.3h2.1v2.1h-2.1zM148.2 51.3h2.1v2.1h-2.1zM154.2 51.3h2.1v2.1h-2.1zM154.2 53.3h2.1v2.1h-2.1zM158.2 53.3h2.1v2.1h-2.1zM148.2 55.3h2.1v2.1h-2.1zM152.2 57.3h2.1v2.1h-2.1zM156.2 57.3h2.1v2.1h-2.1zM162.2 59.3h2.1v2.1h-2.1zM148.2 95.0h2.1v2.1h-2.1zM162.2 95.0h2.1v2.1h-2.1zM166.2 95.0h2.1v2.1h-2.1zM120.3 97.0h8.1v2.1h-8.1zM116.4 99.0h2.1v2.1h-2.1zM186.1 99.0h4.1v2.1h-4.1zM194.1 99.0h2.1v2.1h-2.1zM198.1 99.0h2.1v2.1h-2.1zM202.0 99.0h8.1v2.1h-8.1zM108.4 101.0h2.1v2.1h-2.1zM204.0 101.0h2.1v2.1h-2.1zM98.4 103.0h2.1v2.1h-2.1zM108.4 103.0h6.1v2.1h-6.1zM88.5 104.9h8.1v2.1h-8.1zM100.4 104.9h2.1v2.1h-2.1zM106.4 104.9h4.1v2.1h-4.1zM84.5 106.9h2.1v2.1h-2.1zM88.5 106.9h2.1v2.1h-2.1zM94.4 106.9h4.1v2.1h-4.1zM108.4 106.9h4.1v2.1h-4.1zM108.4 108.9h2.1v2.1h-2.1zM98.4 110.9h2.1v2.1h-2.1zM104.4 110.9h6.1v2.1h-6.1zM90.5 112.9h4.1v2.1h-4.1zM96.4 112.9h2.1v2.1h-2.1zM104.4 112.9h2.1v2.1h-2.1zM112.4 112.9h6.1v2.1h-6.1zM86.5 114.9h2.1v2.1h-2.1zM96.4 114.9h2.1v2.1h-2.1zM112.4 114.9h2.1v2.1h-2.1zM114.4 116.9h2.1v2.1h-2.1zM118.4 116.9h2.1v2.1h-2.1zM102.4 118.8h2.1v2.1h-2.1zM90.5 120.8h4.1v2.1h-4.1zM100.4 120.8h4.1v2.1h-4.1zM126.3 120.8h2.1v2.1h-2.1zM82.5 122.8h2.1v2.1h-2.1zM110.4 122.8h2.1v2.1h-2.1zM116.4 122.8h4.1v2.1h-4.1zM130.3 122.8h2.1v2.1h-2.1zM84.5 124.8h2.1v2.1h-2.1zM100.4 124.8h2.1v2.1h-2.1zM112.4 124.8h4.1v2.1h-4.1zM118.4 124.8h2.1v2.1h-2.1zM118.4 126.8h2.1v2.1h-2.1zM88.5 128.8h2.1v2.1h-2.1zM98.4 128.8h2.1v2.1h-2.1zM110.4 128.8h2.1v2.1h-2.1zM118.4 128.8h2.1v2.1h-2.1zM86.5 130.8h2.1v2.1h-2.1zM92.5 130.8h2.1v2.1h-2.1zM96.4 130.8h2.1v2.1h-2.1zM104.4 130.8h4.1v2.1h-4.1zM122.3 130.8h4.1v2.1h-4.1zM90.5 132.7h2.1v2.1h-2.1zM86.5 134.7h2.1v2.1h-2.1zM90.5 134.7h4.1v2.1h-4.1zM100.4 134.7h2.1v2.1h-2.1zM88.5 136.7h2.1v2.1h-2.1zM100.4 136.7h6.1v2.1h-6.1zM108.4 136.7h2.1v2.1h-2.1zM86.5 138.7h2.1v2.1h-2.1zM92.5 138.7h2.1v2.1h-2.1zM96.4 138.7h2.1v2.1h-2.1zM100.4 138.7h2.1v2.1h-2.1zM104.4 138.7h4.1v2.1h-4.1zM104.4 140.7h2.1v2.1h-2.1zM92.5 142.7h2.1v2.1h-2.1zM102.4 142.7h2.1v2.1h-2.1zM106.4 142.7h8.1v2.1h-8.1zM106.4 144.7h2.1v2.1h-2.1zM110.4 144.7h4.1v2.1h-4.1zM92.5 146.6h2.1v2.1h-2.1zM102.4 146.6h2.1v2.1h-2.1zM110.4 146.6h2.1v2.1h-2.1zM112.4 148.6h2.1v2.1h-2.1zM82.5 150.6h2.1v2.1h-2.1zM88.5 150.6h2.1v2.1h-2.1zM98.4 150.6h2.1v2.1h-2.1zM106.4 150.6h2.1v2.1h-2.1zM110.4 150.6h4.1v2.1h-4.1zM90.5 152.6h2.1v2.1h-2.1zM104.4 152.6h2.1v2.1h-2.1zM112.4 152.6h2.1v2.1h-2.1zM116.4 152.6h2.1v2.1h-2.1zM92.5 154.6h2.1v2.1h-2.1zM106.4 154.6h4.1v2.1h-4.1zM112.4 154.6h6.1v2.1h-6.1zM100.4 156.6h2.1v2.1h-2.1zM106.4 156.6h2.1v2.1h-2.1zM84.5 158.6h2.1v2.1h-2.1zM102.4 160.5h2.1v2.1h-2.1zM112.4 160.5h2.1v2.1h-2.1zM92.5 162.5h2.1v2.1h-2.1zM100.4 162.5h4.1v2.1h-4.1zM110.4 162.5h4.1v2.1h-4.1zM116.4 162.5h2.1v2.1h-2.1zM92.5 164.5h2.1v2.1h-2.1zM100.4 164.5h2.1v2.1h-2.1zM104.4 164.5h2.1v2.1h-2.1zM112.4 164.5h2.1v2.1h-2.1zM116.4 164.5h2.1v2.1h-2.1z"/>
<path fill="#fee598" d="M148.2 27.5h2.1v2.1h-2.1zM152.2 27.5h2.1v2.1h-2.1zM152.2 29.5h2.1v2.1h-2.1zM156.2 29.5h2.1v2.1h-2.1zM150.2 31.5h4.1v2.1h-4.1zM156.2 31.5h2.1v2.1h-2.1zM150.2 33.5h2.1v2.1h-2.1zM150.2 35.4h2.1v2.1h-2.1zM142.3 37.4h2.1v2.1h-2.1zM150.2 37.4h2.1v2.1h-2.1zM154.2 39.4h4.1v2.1h-4.1zM144.3 41.4h2.1v2.1h-2.1zM148.2 41.4h2.1v2.1h-2.1zM158.2 41.4h2.1v2.1h-2.1zM148.2 43.4h6.1v2.1h-6.1zM152.2 45.4h2.1v2.1h-2.1zM154.2 47.4h2.1v2.1h-2.1zM150.2 49.3h2.1v2.1h-2.1zM150.2 51.3h2.1v2.1h-2.1zM156.2 51.3h4.1v2.1h-4.1zM150.2 53.3h2.1v2.1h-2.1zM156.2 53.3h2.1v2.1h-2.1zM162.2 53.3h2.1v2.1h-2.1zM144.3 55.3h2.1v2.1h-2.1zM160.2 57.3h4.1v2.1h-4.1zM130.3 97.0h2.1v2.1h-2.1zM166.2 97.0h2.1v2.1h-2.1zM174.1 97.0h2.1v2.1h-2.1zM120.3 99.0h2.1v2.1h-2.1zM196.1 99.0h2.1v2.1h-2.1zM110.4 101.0h2.1v2.1h-2.1zM188.1 101.0h2.1v2.1h-2.1zM194.1 101.0h2.1v2.1h-2.1zM198.1 101.0h2.1v2.1h-2.1zM208.0 101.0h2.1v2.1h-2.1zM94.4 103.0h2.1v2.1h-2.1zM102.4 103.0h2.1v2.1h-2.1zM96.4 104.9h2.1v2.1h-2.1zM112.4 104.9h2.1v2.1h-2.1zM106.4 106.9h2.1v2.1h-2.1zM112.4 106.9h2.1v2.1h-2.1zM92.5 108.9h2.1v2.1h-2.1zM96.4 108.9h2.1v2.1h-2.1zM112.4 108.9h4.1v2.1h-4.1zM84.5 110.9h2.1v2.1h-2.1zM112.4 110.9h4.1v2.1h-4.1zM188.1 112.9h2.1v2.1h-2.1zM198.1 112.9h2.1v2.1h-2.1zM116.4 114.9h2.1v2.1h-2.1zM90.5 116.9h2.1v2.1h-2.1zM120.3 116.9h2.1v2.1h-2.1zM188.1 116.9h2.1v2.1h-2.1zM96.4 118.8h2.1v2.1h-2.1zM122.3 118.8h2.1v2.1h-2.1zM188.1 118.8h2.1v2.1h-2.1zM204.0 118.8h2.1v2.1h-2.1zM116.4 120.8h2.1v2.1h-2.1zM96.4 122.8h2.1v2.1h-2.1zM114.4 122.8h2.1v2.1h-2.1zM90.5 126.8h2.1v2.1h-2.1zM104.4 126.8h2.1v2.1h-2.1zM90.5 128.8h2.1v2.1h-2.1zM198.1 128.8h2.1v2.1h-2.1zM112.4 130.8h2.1v2.1h-2.1zM92.5 132.7h2.1v2.1h-2.1zM116.4 132.7h2.1v2.1h-2.1zM114.4 134.7h2.1v2.1h-2.1zM184.1 134.7h2.1v2.1h-2.1zM112.4 136.7h4.1v2.1h-4.1zM178.1 136.7h2.1v2.1h-2.1zM102.4 138.7h2.1v2.1h-2.1zM200.0 138.7h2.1v2.1h-2.1zM112.4 140.7h2.1v2.1h-2.1zM88.5 142.7h2.1v2.1h-2.1zM104.4 142.7h2.1v2.1h-2.1zM100.4 146.6h2.1v2.1h-2.1zM102.4 150.6h4.1v2.1h-4.1zM98.4 152.6h2.1v2.1h-2.1zM114.4 152.6h2.1v2.1h-2.1zM116.4 156.6h2.1v2.1h-2.1zM102.4 158.6h2.1v2.1h-2.1zM118.4 158.6h2.1v2.1h-2.1zM100.4 160.5h2.1v2.1h-2.1zM108.4 160.5h2.1v2.1h-2.1zM114.4 160.5h2.1v2.1h-2.1zM98.4 162.5h2.1v2.1h-2.1zM180.1 162.5h2.1v2.1h-2.1zM94.4 164.5h2.1v2.1h-2.1zM108.4 164.5h2.1v2.1h-2.1z"/>
<path fill="#fee293" d="M156.2 27.5h2.1v2.1h-2.1zM158.2 29.5h2.1v2.1h-2.1zM154.2 31.5h2.1v2.1h-2.1zM184.1 33.5h2.1v2.1h-2.1zM154.2 35.4h6.1v2.1h-6.1zM162.2 37.4h2.1v2.1h-2.1zM176.1 37.4h2.1v2.1h-2.1zM158.2 39.4h2.1v2.1h-2.1zM176.1 39.4h2.1v2.1h-2.1zM180.1 39.4h2.1v2.1h-2.1zM152.2 41.4h2.1v2.1h-2.1zM156.2 41.4h2.1v2.1h-2.1zM170.2 43.4h2.1v2.1h-2.1zM174.1 43.4h2.1v2.1h-2.1zM146.2 45.4h2.1v2.1h-2.1zM156.2 45.4h2.1v2.1h-2.1zM152.2 47.4h2.1v2.1h-2.1zM144.3 49.3h2.1v2.1h-2.1zM152.2 49.3h2.1v2.1h-2.1zM156.2 49.3h2.1v2.1h-2.1zM162.2 51.3h2.1v2.1h-2.1zM160.2 53.3h2.1v2.1h-2.1zM152.2 55.3h4.1v2.1h-4.1zM160.2 55.3h4.1v2.1h-4.1zM176.1 55.3h2.1v2.1h-2.1zM164.2 57.3h2.1v2.1h-2.1zM164.2 59.3h2.1v2.1h-2.1zM168.2 59.3h2.1v2.1h-2.1zM192.1 61.3h2.1v2.1h-2.1zM198.1 61.3h2.1v2.1h-2.1zM206.0 61.3h2.1v2.1h-2.1zM132.3 97.0h2.1v2.1h-2.1zM150.2 97.0h2.1v2.1h-2.1zM162.2 97.0h2.1v2.1h-2.1zM118.4 99.0h2.1v2.1h-2.1zM170.2 99.0h2.1v2.1h-2.1zM180.1 99.0h6.1v2.1h-6.1zM114.4 101.0h2.1v2.1h-2.1zM196.1 101.0h2.1v2.1h-2.1zM202.0 101.0h2.1v2.1h-2.1zM206.0 101.0h2.1v2.1h-2.1zM210.0 103.0h2.1v2.1h-2.1zM114.4 104.9h2.1v2.1h-2.1zM206.0 104.9h2.1v2.1h-2.1zM200.0 106.9h2.1v2.1h-2.1zM200.0 110.9h2.1v2.1h-2.1zM194.1 112.9h2.1v2.1h-2.1zM118.4 114.9h2.1v2.1h-2.1zM208.0 114.9h2.1v2.1h-2.1zM118.4 118.8h2.1v2.1h-2.1zM194.1 122.8h2.1v2.1h-2.1zM208.0 124.8h2.1v2.1h-2.1zM190.1 130.8h2.1v2.1h-2.1zM194.1 130.8h2.1v2.1h-2.1zM120.3 132.7h2.1v2.1h-2.1zM188.1 134.7h2.1v2.1h-2.1zM196.1 136.7h2.1v2.1h-2.1zM112.4 138.7h2.1v2.1h-2.1zM184.1 138.7h4.1v2.1h-4.1zM190.1 140.7h2.1v2.1h-2.1zM94.4 144.7h2.1v2.1h-2.1zM114.4 144.7h2.1v2.1h-2.1zM204.0 144.7h2.1v2.1h-2.1zM114.4 148.6h2.1v2.1h-2.1zM180.1 148.6h2.1v2.1h-2.1zM116.4 150.6h2.1v2.1h-2.1zM186.1 152.6h2.1v2.1h-2.1zM190.1 152.6h2.1v2.1h-2.1zM118.4 160.5h2.1v2.1h-2.1zM118.4 162.5h4.1v2.1h-4.1zM192.1 162.5h2.1v2.1h-2.1zM118.4 164.5h2.1v2.1h-2.1zM180.1 164.5h2.1v2.1h-2.1z"/>
<path fill="#fede8e" d="M154.2 27.5h2.1v2.1h-2.1zM158.2 27.5h2.1v2.1h-2.1zM160.2 31.5h2.1v2.1h-2.1zM152.2 33.5h2.1v2.1h-2.1zM156.2 33.5h4.1v2.1h-4.1zM162.2 33.5h2.1v2.1h-2.1zM152.2 35.4h2.1v2.1h-2.1zM160.2 35.4h2.1v2.1h-2.1zM156.2 37.4h2.1v2.1h-2.1zM178.1 37.4h2.1v2.1h-2.1zM164.2 39.4h2.1v2.1h-2.1zM174.1 39.4h2.1v2.1h-2.1zM160.2 41.4h2.1v2.1h-2.1zM174.1 41.4h2.1v2.1h-2.1zM156.2 43.4h2.1v2.1h-2.1zM164.2 43.4h2.1v2.1h-2.1zM154.2 45.4h2.1v2.1h-2.1zM160.2 45.4h2.1v2.1h-2.1zM178.1 45.4h2.1v2.1h-2.1zM150.2 47.4h2.1v2.1h-2.1zM156.2 47.4h2.1v2.1h-2.1zM152.2 51.3h2.1v2.1h-2.1zM174.1 51.3h2.1v2.1h-2.1zM202.0 53.3h2.1v2.1h-2.1zM164.2 55.3h4.1v2.1h-4.1zM166.2 57.3h2.1v2.1h-2.1zM186.1 57.3h2.1v2.1h-2.1zM188.1 61.3h2.1v2.1h-2.1zM194.1 61.3h4.1v2.1h-4.1zM128.3 97.0h2.1v2.1h-2.1zM140.3 97.0h2.1v2.1h-2.1zM152.2 97.0h2.1v2.1h-2.1zM160.2 97.0h2.1v2.1h-2.1zM164.2 97.0h2.1v2.1h-2.1zM168.2 97.0h4.1v2.1h-4.1zM122.3 99.0h2.1v2.1h-2.1zM178.1 99.0h2.1v2.1h-2.1zM116.4 101.0h2.1v2.1h-2.1zM192.1 101.0h2.1v2.1h-2.1zM210.0 101.0h2.1v2.1h-2.1zM114.4 103.0h4.1v2.1h-4.1zM208.0 103.0h2.1v2.1h-2.1zM190.1 104.9h2.1v2.1h-2.1zM200.0 104.9h2.1v2.1h-2.1zM204.0 104.9h2.1v2.1h-2.1zM114.4 106.9h2.1v2.1h-2.1zM188.1 106.9h2.1v2.1h-2.1zM196.1 106.9h2.1v2.1h-2.1zM202.0 106.9h2.1v2.1h-2.1zM208.0 106.9h2.1v2.1h-2.1zM200.0 108.9h2.1v2.1h-2.1zM206.0 108.9h2.1v2.1h-2.1zM188.1 110.9h2.1v2.1h-2.1zM198.1 110.9h2.1v2.1h-2.1zM202.0 110.9h2.1v2.1h-2.1zM210.0 110.9h2.1v2.1h-2.1zM210.0 112.9h2.1v2.1h-2.1zM122.3 116.9h2.1v2.1h-2.1zM202.0 116.9h2.1v2.1h-2.1zM196.1 118.8h2.1v2.1h-2.1zM206.0 120.8h2.1v2.1h-2.1zM202.0 122.8h2.1v2.1h-2.1zM208.0 122.8h4.1v2.1h-4.1zM132.3 124.8h2.1v2.1h-2.1zM194.1 124.8h2.1v2.1h-2.1zM192.1 126.8h2.1v2.1h-2.1zM208.0 126.8h2.1v2.1h-2.1zM130.3 128.8h2.1v2.1h-2.1zM188.1 128.8h2.1v2.1h-2.1zM204.0 128.8h2.1v2.1h-2.1zM126.3 130.8h2.1v2.1h-2.1zM192.1 130.8h2.1v2.1h-2.1zM192.1 132.7h2.1v2.1h-2.1zM198.1 132.7h4.1v2.1h-4.1zM206.0 134.7h2.1v2.1h-2.1zM192.1 136.7h2.1v2.1h-2.1zM202.0 136.7h2.1v2.1h-2.1zM178.1 138.7h2.1v2.1h-2.1zM210.0 138.7h2.1v2.1h-2.1zM176.1 140.7h2.1v2.1h-2.1zM114.4 142.7h2.1v2.1h-2.1zM186.1 142.7h2.1v2.1h-2.1zM182.1 144.7h2.1v2.1h-2.1zM114.4 146.6h2.1v2.1h-2.1zM188.1 146.6h2.1v2.1h-2.1zM200.0 146.6h4.1v2.1h-4.1zM116.4 148.6h2.1v2.1h-2.1zM186.1 148.6h2.1v2.1h-2.1zM194.1 148.6h2.1v2.1h-2.1zM176.1 150.6h2.1v2.1h-2.1zM208.0 150.6h4.1v2.1h-4.1zM178.1 152.6h2.1v2.1h-2.1zM188.1 152.6h2.1v2.1h-2.1zM210.0 152.6h2.1v2.1h-2.1zM118.4 154.6h4.1v2.1h-4.1zM180.1 154.6h2.1v2.1h-2.1zM194.1 154.6h2.1v2.1h-2.1zM118.4 156.6h2.1v2.1h-2.1zM188.1 156.6h4.1v2.1h-4.1zM184.1 158.6h2.1v2.1h-2.1zM186.1 160.5h2.1v2.1h-2.1zM190.1 160.5h2.1v2.1h-2.1zM210.0 160.5h2.1v2.1h-2.1z"/>
<path fill="#fed989" d="M160.2 27.5h2.1v2.1h-2.1zM164.2 27.5h2.1v2.1h-2.1zM154.2 29.5h2.1v2.1h-2.1zM160.2 29.5h2.1v2.1h-2.1zM158.2 31.5h2.1v2.1h-2.1zM164.2 31.5h2.1v2.1h-2.1zM160.2 33.5h2.1v2.1h-2.1zM178.1 33.5h2.1v2.1h-2.1zM158.2 37.4h4.1v2.1h-4.1zM160.2 39.4h2.1v2.1h-2.1zM170.2 41.4h2.1v2.1h-2.1zM180.1 43.4h2.1v2.1h-2.1zM176.1 45.4h2.1v2.1h-2.1zM160.2 47.4h4.1v2.1h-4.1zM180.1 47.4h2.1v2.1h-2.1zM158.2 49.3h4.1v2.1h-4.1zM174.1 49.3h2.1v2.1h-2.1zM160.2 51.3h2.1v2.1h-2.1zM164.2 51.3h2.1v2.1h-2.1zM168.2 51.3h2.1v2.1h-2.1zM164.2 53.3h2.1v2.1h-2.1zM180.1 53.3h2.1v2.1h-2.1zM168.2 55.3h2.1v2.1h-2.1zM180.1 55.3h2.1v2.1h-2.1zM194.1 55.3h2.1v2.1h-2.1zM170.2 57.3h2.1v2.1h-2.1zM174.1 57.3h2.1v2.1h-2.1zM198.1 57.3h2.1v2.1h-2.1zM172.2 59.3h8.1v2.1h-8.1zM200.0 61.3h6.1v2.1h-6.1zM210.0 61.3h2.1v2.1h-2.1zM134.3 97.0h6.1v2.1h-6.1zM148.2 97.0h2.1v2.1h-2.1zM158.2 97.0h2.1v2.1h-2.1zM172.2 97.0h2.1v2.1h-2.1zM128.3 99.0h2.1v2.1h-2.1zM174.1 99.0h2.1v2.1h-2.1zM186.1 101.0h2.1v2.1h-2.1zM200.0 101.0h2.1v2.1h-2.1zM118.4 103.0h2.1v2.1h-2.1zM194.1 103.0h2.1v2.1h-2.1zM198.1 103.0h8.1v2.1h-8.1zM116.4 104.9h2.1v2.1h-2.1zM188.1 104.9h2.1v2.1h-2.1zM210.0 104.9h2.1v2.1h-2.1zM206.0 106.9h2.1v2.1h-2.1zM116.4 108.9h2.1v2.1h-2.1zM186.1 108.9h4.1v2.1h-4.1zM194.1 108.9h2.1v2.1h-2.1zM198.1 108.9h2.1v2.1h-2.1zM202.0 108.9h2.1v2.1h-2.1zM118.4 110.9h2.1v2.1h-2.1zM190.1 110.9h4.1v2.1h-4.1zM196.1 110.9h2.1v2.1h-2.1zM204.0 110.9h4.1v2.1h-4.1zM182.1 112.9h2.1v2.1h-2.1zM190.1 112.9h2.1v2.1h-2.1zM206.0 112.9h2.1v2.1h-2.1zM182.1 114.9h2.1v2.1h-2.1zM186.1 114.9h2.1v2.1h-2.1zM202.0 114.9h2.1v2.1h-2.1zM206.0 116.9h2.1v2.1h-2.1zM124.3 118.8h2.1v2.1h-2.1zM200.0 118.8h2.1v2.1h-2.1zM208.0 118.8h2.1v2.1h-2.1zM128.3 120.8h2.1v2.1h-2.1zM182.1 120.8h2.1v2.1h-2.1zM200.0 120.8h4.1v2.1h-4.1zM188.1 122.8h2.1v2.1h-2.1zM206.0 122.8h2.1v2.1h-2.1zM180.1 124.8h4.1v2.1h-4.1zM186.1 124.8h2.1v2.1h-2.1zM198.1 124.8h2.1v2.1h-2.1zM206.0 124.8h2.1v2.1h-2.1zM210.0 124.8h2.1v2.1h-2.1zM184.1 126.8h2.1v2.1h-2.1zM184.1 128.8h2.1v2.1h-2.1zM190.1 128.8h2.1v2.1h-2.1zM194.1 128.8h2.1v2.1h-2.1zM206.0 128.8h2.1v2.1h-2.1zM186.1 130.8h4.1v2.1h-4.1zM204.0 130.8h2.1v2.1h-2.1zM208.0 130.8h2.1v2.1h-2.1zM174.1 132.7h2.1v2.1h-2.1zM182.1 132.7h4.1v2.1h-4.1zM194.1 132.7h2.1v2.1h-2.1zM118.4 134.7h2.1v2.1h-2.1zM180.1 134.7h2.1v2.1h-2.1zM186.1 134.7h2.1v2.1h-2.1zM190.1 134.7h2.1v2.1h-2.1zM194.1 134.7h2.1v2.1h-2.1zM198.1 134.7h2.1v2.1h-2.1zM208.0 134.7h2.1v2.1h-2.1zM116.4 136.7h2.1v2.1h-2.1zM188.1 136.7h2.1v2.1h-2.1zM194.1 136.7h2.1v2.1h-2.1zM190.1 138.7h2.1v2.1h-2.1zM198.1 138.7h2.1v2.1h-2.1zM204.0 138.7h2.1v2.1h-2.1zM180.1 140.7h4.1v2.1h-4.1zM188.1 140.7h2.1v2.1h-2.1zM198.1 140.7h6.1v2.1h-6.1zM180.1 142.7h2.1v2.1h-2.1zM184.1 142.7h2.1v2.1h-2.1zM206.0 142.7h2.1v2.1h-2.1zM210.0 142.7h2.1v2.1h-2.1zM184.1 146.6h2.1v2.1h-2.1zM192.1 146.6h2.1v2.1h-2.1zM184.1 148.6h2.1v2.1h-2.1zM188.1 148.6h2.1v2.1h-2.1zM206.0 148.6h2.1v2.1h-2.1zM180.1 150.6h2.1v2.1h-2.1zM184.1 150.6h2.1v2.1h-2.1zM198.1 150.6h2.1v2.1h-2.1zM192.1 152.6h2.1v2.1h-2.1zM174.1 156.6h2.1v2.1h-2.1zM182.1 156.6h2.1v2.1h-2.1zM186.1 156.6h2.1v2.1h-2.1zM196.1 156.6h2.1v2.1h-2.1zM174.1 158.6h2.1v2.1h-2.1zM202.0 158.6h2.1v2.1h-2.1zM208.0 158.6h2.1v2.1h-2.1zM120.3 160.5h2.1v2.1h-2.1zM184.1 160.5h2.1v2.1h-2.1zM192.1 160.5h2.1v2.1h-2.1zM182.1 162.5h2.1v2.1h-2.1zM188.1 162.5h2.1v2.1h-2.1zM210.0 162.5h2.1v2.1h-2.1z"/>
<path fill="#fed484" d="M162.2 27.5h2.1v2.1h-2.1zM170.2 27.5h2.1v2.1h-2.1zM200.0 29.5h2.1v2.1h-2.1zM162.2 31.5h2.1v2.1h-2.1zM166.2 31.5h2.1v2.1h-2.1zM164.2 33.5h2.1v2.1h-2.1zM182.1 33.5h2.1v2.1h-2.1zM164.2 37.4h2.1v2.1h-2.1zM174.1 37.4h2.1v2.1h-2.1zM180.1 37.4h4.1v2.1h-4.1zM182.1 39.4h2.1v2.1h-2.1zM182.1 41.4h2.1v2.1h-2.1zM158.2 43.4h2.1v2.1h-2.1zM158.2 45.4h2.1v2.1h-2.1zM162.2 45.4h2.1v2.1h-2.1zM170.2 45.4h2.1v2.1h-2.1zM204.0 47.4h2.1v2.1h-2.1zM162.2 49.3h2.1v2.1h-2.1zM166.2 49.3h2.1v2.1h-2.1zM198.1 49.3h2.1v2.1h-2.1zM166.2 51.3h2.1v2.1h-2.1zM170.2 51.3h2.1v2.1h-2.1zM176.1 51.3h2.1v2.1h-2.1zM184.1 51.3h2.1v2.1h-2.1zM170.2 53.3h2.1v2.1h-2.1zM170.2 55.3h4.1v2.1h-4.1zM186.1 55.3h2.1v2.1h-2.1zM190.1 55.3h4.1v2.1h-4.1zM172.2 57.3h2.1v2.1h-2.1zM206.0 57.3h2.1v2.1h-2.1zM170.2 59.3h2.1v2.1h-2.1zM180.1 59.3h4.1v2.1h-4.1zM190.1 59.3h2.1v2.1h-2.1zM194.1 59.3h2.1v2.1h-2.1zM208.0 61.3h2.1v2.1h-2.1zM144.3 97.0h4.1v2.1h-4.1zM154.2 97.0h4.1v2.1h-4.1zM124.3 99.0h4.1v2.1h-4.1zM118.4 101.0h2.1v2.1h-2.1zM182.1 101.0h2.1v2.1h-2.1zM190.1 101.0h2.1v2.1h-2.1zM184.1 103.0h6.1v2.1h-6.1zM192.1 104.9h4.1v2.1h-4.1zM198.1 104.9h2.1v2.1h-2.1zM202.0 104.9h2.1v2.1h-2.1zM194.1 106.9h2.1v2.1h-2.1zM198.1 106.9h2.1v2.1h-2.1zM204.0 106.9h2.1v2.1h-2.1zM176.1 108.9h2.1v2.1h-2.1zM116.4 110.9h2.1v2.1h-2.1zM184.1 110.9h2.1v2.1h-2.1zM208.0 112.9h2.1v2.1h-2.1zM192.1 114.9h2.1v2.1h-2.1zM200.0 114.9h2.1v2.1h-2.1zM194.1 116.9h4.1v2.1h-4.1zM204.0 116.9h2.1v2.1h-2.1zM208.0 116.9h4.1v2.1h-4.1zM126.3 118.8h2.1v2.1h-2.1zM186.1 118.8h2.1v2.1h-2.1zM190.1 118.8h2.1v2.1h-2.1zM206.0 118.8h2.1v2.1h-2.1zM184.1 120.8h2.1v2.1h-2.1zM192.1 120.8h2.1v2.1h-2.1zM204.0 120.8h2.1v2.1h-2.1zM208.0 120.8h2.1v2.1h-2.1zM184.1 122.8h4.1v2.1h-4.1zM190.1 122.8h2.1v2.1h-2.1zM196.1 122.8h2.1v2.1h-2.1zM200.0 122.8h2.1v2.1h-2.1zM184.1 124.8h2.1v2.1h-2.1zM192.1 124.8h2.1v2.1h-2.1zM196.1 124.8h2.1v2.1h-2.1zM202.0 124.8h2.1v2.1h-2.1zM132.3 126.8h2.1v2.1h-2.1zM186.1 126.8h2.1v2.1h-2.1zM190.1 126.8h2.1v2.1h-2.1zM196.1 126.8h2.1v2.1h-2.1zM206.0 126.8h2.1v2.1h-2.1zM210.0 126.8h2.1v2.1h-2.1zM182.1 128.8h2.1v2.1h-2.1zM192.1 128.8h2.1v2.1h-2.1zM176.1 130.8h2.1v2.1h-2.1zM180.1 130.8h2.1v2.1h-2.1zM198.1 130.8h2.1v2.1h-2.1zM180.1 132.7h2.1v2.1h-2.1zM188.1 132.7h4.1v2.1h-4.1zM196.1 132.7h2.1v2.1h-2.1zM202.0 132.7h2.1v2.1h-2.1zM210.0 132.7h2.1v2.1h-2.1zM176.1 134.7h4.1v2.1h-4.1zM196.1 134.7h2.1v2.1h-2.1zM180.1 136.7h4.1v2.1h-4.1zM204.0 136.7h2.1v2.1h-2.1zM114.4 138.7h2.1v2.1h-2.1zM196.1 138.7h2.1v2.1h-2.1zM114.4 140.7h2.1v2.1h-2.1zM196.1 140.7h2.1v2.1h-2.1zM210.0 140.7h2.1v2.1h-2.1zM178.1 142.7h2.1v2.1h-2.1zM196.1 142.7h6.1v2.1h-6.1zM178.1 144.7h2.1v2.1h-2.1zM184.1 144.7h2.1v2.1h-2.1zM192.1 144.7h2.1v2.1h-2.1zM210.0 144.7h2.1v2.1h-2.1zM174.1 146.6h2.1v2.1h-2.1zM180.1 146.6h2.1v2.1h-2.1zM186.1 146.6h2.1v2.1h-2.1zM194.1 146.6h2.1v2.1h-2.1zM182.1 148.6h2.1v2.1h-2.1zM190.1 148.6h2.1v2.1h-2.1zM178.1 150.6h2.1v2.1h-2.1zM188.1 150.6h2.1v2.1h-2.1zM194.1 150.6h2.1v2.1h-2.1zM118.4 152.6h2.1v2.1h-2.1zM182.1 152.6h2.1v2.1h-2.1zM182.1 154.6h4.1v2.1h-4.1zM188.1 154.6h6.1v2.1h-6.1zM198.1 154.6h2.1v2.1h-2.1zM202.0 154.6h2.1v2.1h-2.1zM206.0 154.6h4.1v2.1h-4.1zM176.1 156.6h2.1v2.1h-2.1zM192.1 156.6h2.1v2.1h-2.1zM120.3 158.6h2.1v2.1h-2.1zM188.1 158.6h2.1v2.1h-2.1zM196.1 158.6h2.1v2.1h-2.1zM200.0 158.6h2.1v2.1h-2.1zM210.0 158.6h2.1v2.1h-2.1zM174.1 160.5h2.1v2.1h-2.1zM178.1 160.5h6.1v2.1h-6.1zM196.1 160.5h2.1v2.1h-2.1zM176.1 162.5h4.1v2.1h-4.1zM200.0 162.5h2.1v2.1h-2.1z"/>
<path fill="#fece7f" d="M162.2 29.5h4.1v2.1h-4.1zM194.1 29.5h2.1v2.1h-2.1zM170.2 35.4h2.1v2.1h-2.1zM184.1 35.4h2.1v2.1h-2.1zM166.2 37.4h2.1v2.1h-2.1zM168.2 39.4h4.1v2.1h-4.1zM166.2 41.4h4.1v2.1h-4.1zM172.2 41.4h2.1v2.1h-2.1zM160.2 43.4h4.1v2.1h-4.1zM182.1 43.4h2.1v2.1h-2.1zM164.2 45.4h2.1v2.1h-2.1zM172.2 45.4h2.1v2.1h-2.1zM158.2 47.4h2.1v2.1h-2.1zM192.1 47.4h2.1v2.1h-2.1zM186.1 49.3h2.1v2.1h-2.1zM172.2 51.3h2.1v2.1h-2.1zM200.0 51.3h2.1v2.1h-2.1zM174.1 53.3h2.1v2.1h-2.1zM190.1 53.3h2.1v2.1h-2.1zM200.0 53.3h2.1v2.1h-2.1zM184.1 55.3h2.1v2.1h-2.1zM168.2 57.3h2.1v2.1h-2.1zM178.1 57.3h2.1v2.1h-2.1zM188.1 57.3h2.1v2.1h-2.1zM194.1 57.3h2.1v2.1h-2.1zM208.0 57.3h2.1v2.1h-2.1zM186.1 59.3h4.1v2.1h-4.1zM172.2 99.0h2.1v2.1h-2.1zM176.1 99.0h2.1v2.1h-2.1zM196.1 103.0h2.1v2.1h-2.1zM206.0 103.0h2.1v2.1h-2.1zM178.1 104.9h2.1v2.1h-2.1zM116.4 106.9h2.1v2.1h-2.1zM210.0 106.9h2.1v2.1h-2.1zM190.1 108.9h4.1v2.1h-4.1zM196.1 108.9h2.1v2.1h-2.1zM208.0 108.9h4.1v2.1h-4.1zM182.1 110.9h2.1v2.1h-2.1zM186.1 110.9h2.1v2.1h-2.1zM194.1 110.9h2.1v2.1h-2.1zM208.0 110.9h2.1v2.1h-2.1zM118.4 112.9h2.1v2.1h-2.1zM184.1 112.9h2.1v2.1h-2.1zM192.1 112.9h2.1v2.1h-2.1zM204.0 112.9h2.1v2.1h-2.1zM120.3 114.9h2.1v2.1h-2.1zM190.1 114.9h2.1v2.1h-2.1zM196.1 114.9h4.1v2.1h-4.1zM204.0 114.9h4.1v2.1h-4.1zM210.0 114.9h2.1v2.1h-2.1zM184.1 116.9h2.1v2.1h-2.1zM198.1 116.9h2.1v2.1h-2.1zM192.1 118.8h2.1v2.1h-2.1zM202.0 118.8h2.1v2.1h-2.1zM210.0 118.8h2.1v2.1h-2.1zM194.1 120.8h2.1v2.1h-2.1zM198.1 120.8h2.1v2.1h-2.1zM210.0 120.8h2.1v2.1h-2.1zM192.1 122.8h2.1v2.1h-2.1zM198.1 122.8h2.1v2.1h-2.1zM178.1 124.8h2.1v2.1h-2.1zM204.0 124.8h2.1v2.1h-2.1zM176.1 126.8h2.1v2.1h-2.1zM188.1 126.8h2.1v2.1h-2.1zM194.1 126.8h2.1v2.1h-2.1zM198.1 126.8h2.1v2.1h-2.1zM202.0 126.8h4.1v2.1h-4.1zM200.0 128.8h4.1v2.1h-4.1zM208.0 128.8h2.1v2.1h-2.1zM182.1 130.8h4.1v2.1h-4.1zM196.1 130.8h2.1v2.1h-2.1zM202.0 130.8h2.1v2.1h-2.1zM206.0 130.8h2.1v2.1h-2.1zM210.0 130.8h2.1v2.1h-2.1zM178.1 132.7h2.1v2.1h-2.1zM186.1 132.7h2.1v2.1h-2.1zM206.0 132.7h2.1v2.1h-2.1zM182.1 134.7h2.1v2.1h-2.1zM192.1 134.7h2.1v2.1h-2.1zM174.1 136.7h4.1v2.1h-4.1zM186.1 136.7h2.1v2.1h-2.1zM190.1 136.7h2.1v2.1h-2.1zM210.0 136.7h2.1v2.1h-2.1zM180.1 138.7h4.1v2.1h-4.1zM188.1 138.7h2.1v2.1h-2.1zM192.1 138.7h2.1v2.1h-2.1zM202.0 138.7h2.1v2.1h-2.1zM206.0 138.7h4.1v2.1h-4.1zM186.1 140.7h2.1v2.1h-2.1zM192.1 140.7h4.1v2.1h-4.1zM204.0 140.7h2.1v2.1h-2.1zM188.1 142.7h2.1v2.1h-2.1zM192.1 142.7h2.1v2.1h-2.1zM202.0 142.7h2.1v2.1h-2.1zM170.2 144.7h2.1v2.1h-2.1zM176.1 144.7h2.1v2.1h-2.1zM180.1 144.7h2.1v2.1h-2.1zM188.1 144.7h4.1v2.1h-4.1zM194.1 144.7h4.1v2.1h-4.1zM202.0 144.7h2.1v2.1h-2.1zM116.4 146.6h2.1v2.1h-2.1zM176.1 146.6h4.1v2.1h-4.1zM182.1 146.6h2.1v2.1h-2.1zM190.1 146.6h2.1v2.1h-2.1zM196.1 146.6h2.1v2.1h-2.1zM204.0 146.6h2.1v2.1h-2.1zM118.4 150.6h2.1v2.1h-2.1zM186.1 150.6h2.1v2.1h-2.1zM196.1 150.6h2.1v2.1h-2.1zM204.0 150.6h2.1v2.1h-2.1zM176.1 152.6h2.1v2.1h-2.1zM204.0 152.6h2.1v2.1h-2.1zM196.1 154.6h2.1v2.1h-2.1zM204.0 154.6h2.1v2.1h-2.1zM120.3 156.6h2.1v2.1h-2.1zM178.1 156.6h4.1v2.1h-4.1zM184.1 156.6h2.1v2.1h-2.1zM206.0 156.6h2.1v2.1h-2.1zM176.1 158.6h6.1v2.1h-6.1zM186.1 158.6h2.1v2.1h-2.1zM190.1 158.6h2.1v2.1h-2.1zM194.1 160.5h2.1v2.1h-2.1zM186.1 162.5h2.1v2.1h-2.1zM194.1 162.5h2.1v2.1h-2.1zM206.0 162.5h2.1v2.1h-2.1zM120.3 164.5h2.1v2.1h-2.1zM176.1 164.5h4.1v2.1h-4.1zM184.1 164.5h2.1v2.1h-2.1zM190.1 164.5h4.1v2.1h-4.1zM198.1 164.5h2.1v2.1h-2.1zM202.0 164.5h2.1v2.1h-2.1z"/>
<path fill="#fec97a" d="M166.2 27.5h2.1v2.1h-2.1zM166.2 29.5h2.1v2.1h-2.1zM172.2 29.5h2.1v2.1h-2.1zM204.0 29.5h2.1v2.1h-2.1zM164.2 35.4h6.1v2.1h-6.1zM176.1 35.4h4.1v2.1h-4.1zM206.0 37.4h2.1v2.1h-2.1zM162.2 39.4h2.1v2.1h-2.1zM166.2 39.4h2.1v2.1h-2.1zM184.1 39.4h2.1v2.1h-2.1zM206.0 39.4h2.1v2.1h-2.1zM162.2 41.4h2.1v2.1h-2.1zM170.2 47.4h2.1v2.1h-2.1zM168.2 49.3h4.1v2.1h-4.1zM176.1 49.3h2.1v2.1h-2.1zM202.0 49.3h2.1v2.1h-2.1zM178.1 51.3h2.1v2.1h-2.1zM194.1 51.3h2.1v2.1h-2.1zM202.0 51.3h2.1v2.1h-2.1zM166.2 53.3h4.1v2.1h-4.1zM172.2 53.3h2.1v2.1h-2.1zM176.1 53.3h2.1v2.1h-2.1zM184.1 53.3h2.1v2.1h-2.1zM174.1 55.3h2.1v2.1h-2.1zM178.1 55.3h2.1v2.1h-2.1zM188.1 55.3h2.1v2.1h-2.1zM196.1 55.3h2.1v2.1h-2.1zM202.0 55.3h2.1v2.1h-2.1zM206.0 55.3h4.1v2.1h-4.1zM176.1 57.3h2.1v2.1h-2.1zM182.1 57.3h2.1v2.1h-2.1zM192.1 57.3h2.1v2.1h-2.1zM196.1 57.3h2.1v2.1h-2.1zM210.0 57.3h2.1v2.1h-2.1zM192.1 59.3h2.1v2.1h-2.1zM196.1 59.3h2.1v2.1h-2.1zM142.3 97.0h2.1v2.1h-2.1zM132.3 99.0h2.1v2.1h-2.1zM136.3 99.0h2.1v2.1h-2.1zM140.3 99.0h2.1v2.1h-2.1zM150.2 99.0h2.1v2.1h-2.1zM122.3 101.0h2.1v2.1h-2.1zM132.3 101.0h2.1v2.1h-2.1zM142.3 101.0h2.1v2.1h-2.1zM178.1 101.0h2.1v2.1h-2.1zM184.1 101.0h2.1v2.1h-2.1zM180.1 103.0h4.1v2.1h-4.1zM190.1 103.0h4.1v2.1h-4.1zM184.1 106.9h2.1v2.1h-2.1zM192.1 106.9h2.1v2.1h-2.1zM180.1 108.9h6.1v2.1h-6.1zM204.0 108.9h2.1v2.1h-2.1zM200.0 112.9h4.1v2.1h-4.1zM184.1 114.9h2.1v2.1h-2.1zM188.1 114.9h2.1v2.1h-2.1zM176.1 116.9h2.1v2.1h-2.1zM182.1 116.9h2.1v2.1h-2.1zM190.1 116.9h2.1v2.1h-2.1zM200.0 116.9h2.1v2.1h-2.1zM180.1 120.8h2.1v2.1h-2.1zM188.1 120.8h2.1v2.1h-2.1zM196.1 120.8h2.1v2.1h-2.1zM182.1 122.8h2.1v2.1h-2.1zM204.0 122.8h2.1v2.1h-2.1zM188.1 124.8h4.1v2.1h-4.1zM200.0 124.8h2.1v2.1h-2.1zM178.1 126.8h4.1v2.1h-4.1zM200.0 126.8h2.1v2.1h-2.1zM180.1 128.8h2.1v2.1h-2.1zM128.3 130.8h2.1v2.1h-2.1zM200.0 130.8h2.1v2.1h-2.1zM176.1 132.7h2.1v2.1h-2.1zM204.0 132.7h2.1v2.1h-2.1zM202.0 134.7h4.1v2.1h-4.1zM210.0 134.7h2.1v2.1h-2.1zM200.0 136.7h2.1v2.1h-2.1zM206.0 136.7h4.1v2.1h-4.1zM174.1 138.7h2.1v2.1h-2.1zM194.1 138.7h2.1v2.1h-2.1zM116.4 140.7h2.1v2.1h-2.1zM178.1 140.7h2.1v2.1h-2.1zM184.1 140.7h2.1v2.1h-2.1zM206.0 140.7h2.1v2.1h-2.1zM174.1 142.7h4.1v2.1h-4.1zM182.1 142.7h2.1v2.1h-2.1zM186.1 144.7h2.1v2.1h-2.1zM200.0 144.7h2.1v2.1h-2.1zM198.1 146.6h2.1v2.1h-2.1zM206.0 146.6h4.1v2.1h-4.1zM118.4 148.6h2.1v2.1h-2.1zM174.1 148.6h2.1v2.1h-2.1zM204.0 148.6h2.1v2.1h-2.1zM210.0 148.6h2.1v2.1h-2.1zM182.1 150.6h2.1v2.1h-2.1zM190.1 150.6h2.1v2.1h-2.1zM200.0 150.6h2.1v2.1h-2.1zM180.1 152.6h2.1v2.1h-2.1zM184.1 152.6h2.1v2.1h-2.1zM198.1 152.6h4.1v2.1h-4.1zM208.0 152.6h2.1v2.1h-2.1zM122.3 154.6h2.1v2.1h-2.1zM178.1 154.6h2.1v2.1h-2.1zM186.1 154.6h2.1v2.1h-2.1zM170.2 156.6h4.1v2.1h-4.1zM202.0 156.6h4.1v2.1h-4.1zM208.0 156.6h2.1v2.1h-2.1zM182.1 158.6h2.1v2.1h-2.1zM192.1 158.6h2.1v2.1h-2.1zM198.1 158.6h2.1v2.1h-2.1zM206.0 158.6h2.1v2.1h-2.1zM188.1 160.5h2.1v2.1h-2.1zM198.1 160.5h2.1v2.1h-2.1zM206.0 160.5h2.1v2.1h-2.1zM174.1 162.5h2.1v2.1h-2.1zM184.1 162.5h2.1v2.1h-2.1zM190.1 162.5h2.1v2.1h-2.1zM172.2 164.5h2.1v2.1h-2.1zM182.1 164.5h2.1v2.1h-2.1zM186.1 164.5h2.1v2.1h-2.1zM200.0 164.5h2.1v2.1h-2.1zM208.0 164.5h2.1v2.1h-2.1z"/>
<path fill="#fdc476" d="M182.1 27.5h2.1v2.1h-2.1zM206.0 27.5h2.1v2.1h-2.1zM178.1 29.5h2.1v2.1h-2.1zM196.1 29.5h2.1v2.1h-2.1zM170.2 31.5h2.1v2.1h-2.1zM196.1 31.5h2.1v2.1h-2.1zM168.2 33.5h2.1v2.1h-2.1zM172.2 33.5h2.1v2.1h-2.1zM180.1 33.5h2.1v2.1h-2.1zM192.1 33.5h2.1v2.1h-2.1zM162.2 35.4h2.1v2.1h-2.1zM172.2 35.4h2.1v2.1h-2.1zM180.1 35.4h2.1v2.1h-2.1zM172.2 37.4h2.1v2.1h-2.1zM186.1 37.4h2.1v2.1h-2.1zM204.0 37.4h2.1v2.1h-2.1zM172.2 39.4h2.1v2.1h-2.1zM194.1 39.4h2.1v2.1h-2.1zM210.0 39.4h2.1v2.1h-2.1zM164.2 41.4h2.1v2.1h-2.1zM168.2 43.4h2.1v2.1h-2.1zM172.2 43.4h2.1v2.1h-2.1zM194.1 43.4h2.1v2.1h-2.1zM174.1 45.4h2.1v2.1h-2.1zM180.1 45.4h2.1v2.1h-2.1zM164.2 47.4h4.1v2.1h-4.1zM164.2 49.3h2.1v2.1h-2.1zM178.1 49.3h2.1v2.1h-2.1zM196.1 49.3h2.1v2.1h-2.1zM182.1 51.3h2.1v2.1h-2.1zM186.1 51.3h2.1v2.1h-2.1zM198.1 51.3h2.1v2.1h-2.1zM210.0 51.3h2.1v2.1h-2.1zM188.1 53.3h2.1v2.1h-2.1zM192.1 53.3h2.1v2.1h-2.1zM196.1 53.3h2.1v2.1h-2.1zM208.0 53.3h4.1v2.1h-4.1zM182.1 55.3h2.1v2.1h-2.1zM198.1 55.3h2.1v2.1h-2.1zM210.0 55.3h2.1v2.1h-2.1zM180.1 57.3h2.1v2.1h-2.1zM200.0 57.3h2.1v2.1h-2.1zM184.1 59.3h2.1v2.1h-2.1zM206.0 59.3h6.1v2.1h-6.1zM130.3 99.0h2.1v2.1h-2.1zM134.3 99.0h2.1v2.1h-2.1zM158.2 99.0h2.1v2.1h-2.1zM164.2 99.0h2.1v2.1h-2.1zM168.2 99.0h2.1v2.1h-2.1zM124.3 101.0h4.1v2.1h-4.1zM180.1 101.0h2.1v2.1h-2.1zM178.1 103.0h2.1v2.1h-2.1zM184.1 104.9h2.1v2.1h-2.1zM196.1 104.9h2.1v2.1h-2.1zM208.0 104.9h2.1v2.1h-2.1zM174.1 106.9h2.1v2.1h-2.1zM186.1 106.9h2.1v2.1h-2.1zM178.1 112.9h2.1v2.1h-2.1zM122.3 114.9h2.1v2.1h-2.1zM194.1 114.9h2.1v2.1h-2.1zM124.3 116.9h2.1v2.1h-2.1zM180.1 116.9h2.1v2.1h-2.1zM128.3 118.8h2.1v2.1h-2.1zM184.1 118.8h2.1v2.1h-2.1zM194.1 118.8h2.1v2.1h-2.1zM198.1 118.8h2.1v2.1h-2.1zM130.3 120.8h2.1v2.1h-2.1zM186.1 120.8h2.1v2.1h-2.1zM190.1 120.8h2.1v2.1h-2.1zM178.1 128.8h2.1v2.1h-2.1zM186.1 128.8h2.1v2.1h-2.1zM196.1 128.8h2.1v2.1h-2.1zM210.0 128.8h2.1v2.1h-2.1zM178.1 130.8h2.1v2.1h-2.1zM172.2 132.7h2.1v2.1h-2.1zM208.0 132.7h2.1v2.1h-2.1zM118.4 136.7h2.1v2.1h-2.1zM198.1 136.7h2.1v2.1h-2.1zM208.0 140.7h2.1v2.1h-2.1zM190.1 142.7h2.1v2.1h-2.1zM194.1 142.7h2.1v2.1h-2.1zM206.0 144.7h4.1v2.1h-4.1zM210.0 146.6h2.1v2.1h-2.1zM176.1 148.6h4.1v2.1h-4.1zM192.1 148.6h2.1v2.1h-2.1zM196.1 148.6h2.1v2.1h-2.1zM200.0 148.6h4.1v2.1h-4.1zM208.0 148.6h2.1v2.1h-2.1zM192.1 150.6h2.1v2.1h-2.1zM202.0 150.6h2.1v2.1h-2.1zM120.3 152.6h2.1v2.1h-2.1zM194.1 152.6h4.1v2.1h-4.1zM202.0 152.6h2.1v2.1h-2.1zM206.0 152.6h2.1v2.1h-2.1zM174.1 154.6h2.1v2.1h-2.1zM200.0 154.6h2.1v2.1h-2.1zM210.0 154.6h2.1v2.1h-2.1zM122.3 156.6h2.1v2.1h-2.1zM210.0 156.6h2.1v2.1h-2.1zM194.1 158.6h2.1v2.1h-2.1zM204.0 158.6h2.1v2.1h-2.1zM170.2 160.5h2.1v2.1h-2.1zM176.1 160.5h2.1v2.1h-2.1zM202.0 160.5h4.1v2.1h-4.1zM122.3 162.5h2.1v2.1h-2.1zM196.1 162.5h4.1v2.1h-4.1zM188.1 164.5h2.1v2.1h-2.1zM194.1 164.5h4.1v2.1h-4.1z"/>
<path fill="#fdbf71" d="M176.1 27.5h2.1v2.1h-2.1zM182.1 29.5h2.1v2.1h-2.1zM208.0 29.5h2.1v2.1h-2.1zM176.1 31.5h4.1v2.1h-4.1zM166.2 33.5h2.1v2.1h-2.1zM170.2 33.5h2.1v2.1h-2.1zM176.1 33.5h2.1v2.1h-2.1zM194.1 33.5h2.1v2.1h-2.1zM188.1 35.4h2.1v2.1h-2.1zM192.1 35.4h2.1v2.1h-2.1zM206.0 35.4h2.1v2.1h-2.1zM168.2 37.4h2.1v2.1h-2.1zM202.0 39.4h2.1v2.1h-2.1zM184.1 41.4h2.1v2.1h-2.1zM192.1 41.4h2.1v2.1h-2.1zM198.1 41.4h2.1v2.1h-2.1zM202.0 41.4h2.1v2.1h-2.1zM166.2 43.4h2.1v2.1h-2.1zM206.0 43.4h2.1v2.1h-2.1zM166.2 45.4h2.1v2.1h-2.1zM182.1 45.4h2.1v2.1h-2.1zM194.1 45.4h4.1v2.1h-4.1zM206.0 45.4h2.1v2.1h-2.1zM168.2 47.4h2.1v2.1h-2.1zM176.1 47.4h2.1v2.1h-2.1zM196.1 47.4h2.1v2.1h-2.1zM192.1 49.3h2.1v2.1h-2.1zM204.0 49.3h2.1v2.1h-2.1zM180.1 51.3h2.1v2.1h-2.1zM192.1 51.3h2.1v2.1h-2.1zM182.1 53.3h2.1v2.1h-2.1zM194.1 53.3h2.1v2.1h-2.1zM198.1 53.3h2.1v2.1h-2.1zM204.0 53.3h4.1v2.1h-4.1zM200.0 55.3h2.1v2.1h-2.1zM204.0 55.3h2.1v2.1h-2.1zM190.1 57.3h2.1v2.1h-2.1zM200.0 59.3h6.1v2.1h-6.1zM138.3 99.0h2.1v2.1h-2.1zM142.3 99.0h2.1v2.1h-2.1zM148.2 99.0h2.1v2.1h-2.1zM166.2 99.0h2.1v2.1h-2.1zM120.3 101.0h2.1v2.1h-2.1zM128.3 101.0h2.1v2.1h-2.1zM134.3 101.0h2.1v2.1h-2.1zM176.1 101.0h2.1v2.1h-2.1zM128.3 103.0h2.1v2.1h-2.1zM174.1 103.0h2.1v2.1h-2.1zM122.3 104.9h2.1v2.1h-2.1zM180.1 104.9h4.1v2.1h-4.1zM186.1 104.9h2.1v2.1h-2.1zM120.3 106.9h2.1v2.1h-2.1zM172.2 106.9h2.1v2.1h-2.1zM118.4 108.9h2.1v2.1h-2.1zM174.1 108.9h2.1v2.1h-2.1zM178.1 108.9h2.1v2.1h-2.1zM176.1 110.9h2.1v2.1h-2.1zM120.3 112.9h2.1v2.1h-2.1zM196.1 112.9h2.1v2.1h-2.1zM180.1 114.9h2.1v2.1h-2.1zM172.2 116.9h2.1v2.1h-2.1zM178.1 116.9h2.1v2.1h-2.1zM186.1 116.9h2.1v2.1h-2.1zM192.1 116.9h2.1v2.1h-2.1zM178.1 118.8h2.1v2.1h-2.1zM180.1 122.8h2.1v2.1h-2.1zM134.3 124.8h2.1v2.1h-2.1zM122.3 132.7h2.1v2.1h-2.1zM170.2 134.7h2.1v2.1h-2.1zM174.1 134.7h2.1v2.1h-2.1zM200.0 134.7h2.1v2.1h-2.1zM120.3 136.7h2.1v2.1h-2.1zM184.1 136.7h2.1v2.1h-2.1zM116.4 138.7h2.1v2.1h-2.1zM174.1 140.7h2.1v2.1h-2.1zM116.4 142.7h2.1v2.1h-2.1zM172.2 142.7h2.1v2.1h-2.1zM208.0 142.7h2.1v2.1h-2.1zM116.4 144.7h4.1v2.1h-4.1zM198.1 144.7h2.1v2.1h-2.1zM206.0 150.6h2.1v2.1h-2.1zM174.1 152.6h2.1v2.1h-2.1zM176.1 154.6h2.1v2.1h-2.1zM194.1 156.6h2.1v2.1h-2.1zM198.1 156.6h4.1v2.1h-4.1zM200.0 160.5h2.1v2.1h-2.1zM208.0 160.5h2.1v2.1h-2.1zM202.0 162.5h2.1v2.1h-2.1zM208.0 162.5h2.1v2.1h-2.1zM204.0 164.5h4.1v2.1h-4.1z"/>
<path fill="#fdb96c" d="M174.1 27.5h2.1v2.1h-2.1zM198.1 27.5h2.1v2.1h-2.1zM202.0 27.5h2.1v2.1h-2.1zM208.0 27.5h2.1v2.1h-2.1zM168.2 29.5h4.1v2.1h-4.1zM174.1 29.5h2.1v2.1h-2.1zM190.1 29.5h2.1v2.1h-2.1zM172.2 31.5h4.1v2.1h-4.1zM182.1 31.5h2.1v2.1h-2.1zM194.1 31.5h2.1v2.1h-2.1zM186.1 33.5h2.1v2.1h-2.1zM174.1 35.4h2.1v2.1h-2.1zM182.1 35.4h2.1v2.1h-2.1zM200.0 35.4h2.1v2.1h-2.1zM184.1 37.4h2.1v2.1h-2.1zM194.1 37.4h2.1v2.1h-2.1zM196.1 41.4h2.1v2.1h-2.1zM184.1 43.4h2.1v2.1h-2.1zM196.1 43.4h2.1v2.1h-2.1zM168.2 45.4h2.1v2.1h-2.1zM186.1 45.4h2.1v2.1h-2.1zM200.0 45.4h2.1v2.1h-2.1zM178.1 47.4h2.1v2.1h-2.1zM184.1 47.4h2.1v2.1h-2.1zM190.1 47.4h2.1v2.1h-2.1zM198.1 47.4h6.1v2.1h-6.1zM190.1 49.3h2.1v2.1h-2.1zM200.0 49.3h2.1v2.1h-2.1zM190.1 51.3h2.1v2.1h-2.1zM206.0 51.3h2.1v2.1h-2.1zM178.1 53.3h2.1v2.1h-2.1zM186.1 53.3h2.1v2.1h-2.1zM184.1 57.3h2.1v2.1h-2.1zM204.0 57.3h2.1v2.1h-2.1zM198.1 59.3h2.1v2.1h-2.1zM146.2 99.0h2.1v2.1h-2.1zM156.2 99.0h2.1v2.1h-2.1zM130.3 103.0h2.1v2.1h-2.1zM118.4 104.9h2.1v2.1h-2.1zM178.1 106.9h2.1v2.1h-2.1zM190.1 106.9h2.1v2.1h-2.1zM122.3 108.9h2.1v2.1h-2.1zM176.1 112.9h2.1v2.1h-2.1zM186.1 112.9h2.1v2.1h-2.1zM174.1 114.9h2.1v2.1h-2.1zM178.1 114.9h2.1v2.1h-2.1zM182.1 118.8h2.1v2.1h-2.1zM176.1 120.8h4.1v2.1h-4.1zM176.1 122.8h2.1v2.1h-2.1zM174.1 124.8h2.1v2.1h-2.1zM182.1 126.8h2.1v2.1h-2.1zM168.2 130.8h2.1v2.1h-2.1zM124.3 132.7h2.1v2.1h-2.1zM172.2 136.7h2.1v2.1h-2.1zM170.2 138.7h4.1v2.1h-4.1zM118.4 142.7h2.1v2.1h-2.1zM204.0 142.7h2.1v2.1h-2.1zM120.3 144.7h2.1v2.1h-2.1zM172.2 144.7h2.1v2.1h-2.1zM118.4 146.6h2.1v2.1h-2.1zM170.2 146.6h4.1v2.1h-4.1zM148.2 148.6h2.1v2.1h-2.1zM170.2 148.6h2.1v2.1h-2.1zM198.1 148.6h2.1v2.1h-2.1zM172.2 154.6h2.1v2.1h-2.1zM124.3 156.6h2.1v2.1h-2.1zM122.3 160.5h2.1v2.1h-2.1zM172.2 160.5h2.1v2.1h-2.1zM174.1 164.5h2.1v2.1h-2.1z"/>
<path fill="#fdb467" d="M168.2 27.5h2.1v2.1h-2.1zM188.1 27.5h2.1v2.1h-2.1zM192.1 27.5h2.1v2.1h-2.1zM210.0 27.5h2.1v2.1h-2.1zM176.1 29.5h2.1v2.1h-2.1zM192.1 29.5h2.1v2.1h-2.1zM168.2 31.5h2.1v2.1h-2.1zM184.1 31.5h4.1v2.1h-4.1zM202.0 31.5h2.1v2.1h-2.1zM186.1 35.4h2.1v2.1h-2.1zM198.1 35.4h2.1v2.1h-2.1zM198.1 37.4h6.1v2.1h-6.1zM210.0 37.4h2.1v2.1h-2.1zM188.1 39.4h2.1v2.1h-2.1zM192.1 39.4h2.1v2.1h-2.1zM196.1 39.4h2.1v2.1h-2.1zM190.1 41.4h2.1v2.1h-2.1zM194.1 41.4h2.1v2.1h-2.1zM206.0 41.4h2.1v2.1h-2.1zM210.0 41.4h2.1v2.1h-2.1zM190.1 43.4h4.1v2.1h-4.1zM184.1 45.4h2.1v2.1h-2.1zM190.1 45.4h2.1v2.1h-2.1zM210.0 45.4h2.1v2.1h-2.1zM182.1 47.4h2.1v2.1h-2.1zM180.1 49.3h4.1v2.1h-4.1zM188.1 51.3h2.1v2.1h-2.1zM196.1 51.3h2.1v2.1h-2.1zM144.3 99.0h2.1v2.1h-2.1zM152.2 99.0h4.1v2.1h-4.1zM160.2 99.0h2.1v2.1h-2.1zM130.3 101.0h2.1v2.1h-2.1zM144.3 101.0h2.1v2.1h-2.1zM170.2 101.0h6.1v2.1h-6.1zM122.3 103.0h2.1v2.1h-2.1zM120.3 104.9h2.1v2.1h-2.1zM174.1 104.9h2.1v2.1h-2.1zM118.4 106.9h2.1v2.1h-2.1zM182.1 106.9h2.1v2.1h-2.1zM172.2 110.9h2.1v2.1h-2.1zM180.1 110.9h2.1v2.1h-2.1zM180.1 112.9h2.1v2.1h-2.1zM170.2 116.9h2.1v2.1h-2.1zM170.2 126.8h2.1v2.1h-2.1zM172.2 128.8h4.1v2.1h-4.1zM174.1 130.8h2.1v2.1h-2.1zM172.2 134.7h2.1v2.1h-2.1zM176.1 138.7h2.1v2.1h-2.1zM120.3 150.6h2.1v2.1h-2.1zM172.2 150.6h2.1v2.1h-2.1zM124.3 154.6h2.1v2.1h-2.1zM122.3 158.6h2.1v2.1h-2.1zM172.2 158.6h2.1v2.1h-2.1zM204.0 162.5h2.1v2.1h-2.1zM170.2 164.5h2.1v2.1h-2.1zM210.0 164.5h2.1v2.1h-2.1z"/>
<path fill="#fdaf62" d="M172.2 27.5h2.1v2.1h-2.1zM184.1 27.5h2.1v2.1h-2.1zM200.0 27.5h2.1v2.1h-2.1zM204.0 27.5h2.1v2.1h-2.1zM180.1 29.5h2.1v2.1h-2.1zM186.1 29.5h4.1v2.1h-4.1zM174.1 33.5h2.1v2.1h-2.1zM190.1 33.5h2.1v2.1h-2.1zM198.1 33.5h8.1v2.1h-8.1zM210.0 33.5h2.1v2.1h-2.1zM202.0 35.4h4.1v2.1h-4.1zM186.1 39.4h2.1v2.1h-2.1zM198.1 39.4h2.1v2.1h-2.1zM204.0 39.4h2.1v2.1h-2.1zM200.0 41.4h2.1v2.1h-2.1zM208.0 41.4h2.1v2.1h-2.1zM202.0 43.4h2.1v2.1h-2.1zM208.0 43.4h2.1v2.1h-2.1zM198.1 45.4h2.1v2.1h-2.1zM204.0 45.4h2.1v2.1h-2.1zM208.0 45.4h2.1v2.1h-2.1zM174.1 47.4h2.1v2.1h-2.1zM186.1 47.4h2.1v2.1h-2.1zM194.1 47.4h2.1v2.1h-2.1zM208.0 47.4h2.1v2.1h-2.1zM172.2 49.3h2.1v2.1h-2.1zM194.1 49.3h2.1v2.1h-2.1zM206.0 49.3h4.1v2.1h-4.1zM208.0 51.3h2.1v2.1h-2.1zM168.2 101.0h2.1v2.1h-2.1zM124.3 103.0h2.1v2.1h-2.1zM158.2 103.0h2.1v2.1h-2.1zM168.2 103.0h2.1v2.1h-2.1zM124.3 104.9h2.1v2.1h-2.1zM128.3 104.9h2.1v2.1h-2.1zM168.2 104.9h2.1v2.1h-2.1zM176.1 104.9h2.1v2.1h-2.1zM170.2 106.9h2.1v2.1h-2.1zM176.1 106.9h2.1v2.1h-2.1zM180.1 106.9h2.1v2.1h-2.1zM120.3 110.9h2.1v2.1h-2.1zM124.3 110.9h2.1v2.1h-2.1zM156.2 110.9h2.1v2.1h-2.1zM166.2 114.9h2.1v2.1h-2.1zM170.2 114.9h2.1v2.1h-2.1zM174.1 118.8h2.1v2.1h-2.1zM174.1 122.8h2.1v2.1h-2.1zM178.1 122.8h2.1v2.1h-2.1zM176.1 124.8h2.1v2.1h-2.1zM172.2 126.8h4.1v2.1h-4.1zM132.3 128.8h2.1v2.1h-2.1zM176.1 128.8h2.1v2.1h-2.1zM122.3 134.7h2.1v2.1h-2.1zM170.2 136.7h2.1v2.1h-2.1zM118.4 140.7h2.1v2.1h-2.1zM172.2 140.7h2.1v2.1h-2.1zM148.2 146.6h2.1v2.1h-2.1zM172.2 148.6h2.1v2.1h-2.1zM174.1 150.6h2.1v2.1h-2.1zM170.2 152.6h4.1v2.1h-4.1zM122.3 164.5h2.1v2.1h-2.1zM164.2 164.5h2.1v2.1h-2.1z"/>
<path fill="#fca95e" d="M180.1 27.5h2.1v2.1h-2.1zM186.1 27.5h2.1v2.1h-2.1zM198.1 29.5h2.1v2.1h-2.1zM180.1 31.5h2.1v2.1h-2.1zM192.1 31.5h2.1v2.1h-2.1zM204.0 31.5h2.1v2.1h-2.1zM208.0 33.5h2.1v2.1h-2.1zM194.1 35.4h2.1v2.1h-2.1zM208.0 35.4h2.1v2.1h-2.1zM170.2 37.4h2.1v2.1h-2.1zM196.1 37.4h2.1v2.1h-2.1zM190.1 39.4h2.1v2.1h-2.1zM198.1 43.4h4.1v2.1h-4.1zM172.2 47.4h2.1v2.1h-2.1zM188.1 47.4h2.1v2.1h-2.1zM188.1 49.3h2.1v2.1h-2.1zM204.0 51.3h2.1v2.1h-2.1zM202.0 57.3h2.1v2.1h-2.1zM138.3 101.0h2.1v2.1h-2.1zM146.2 101.0h2.1v2.1h-2.1zM150.2 101.0h2.1v2.1h-2.1zM162.2 101.0h2.1v2.1h-2.1zM132.3 103.0h2.1v2.1h-2.1zM146.2 103.0h2.1v2.1h-2.1zM176.1 103.0h2.1v2.1h-2.1zM172.2 104.9h2.1v2.1h-2.1zM174.1 110.9h2.1v2.1h-2.1zM122.3 112.9h2.1v2.1h-2.1zM124.3 114.9h2.1v2.1h-2.1zM172.2 114.9h2.1v2.1h-2.1zM176.1 114.9h2.1v2.1h-2.1zM170.2 124.8h2.1v2.1h-2.1zM166.2 130.8h2.1v2.1h-2.1zM168.2 138.7h2.1v2.1h-2.1zM162.2 140.7h2.1v2.1h-2.1zM170.2 140.7h2.1v2.1h-2.1zM174.1 144.7h2.1v2.1h-2.1zM144.3 150.6h2.1v2.1h-2.1zM170.2 150.6h2.1v2.1h-2.1zM166.2 158.6h2.1v2.1h-2.1zM170.2 162.5h2.1v2.1h-2.1zM160.2 164.5h2.1v2.1h-2.1z"/>
<path fill="#fba25b" d="M190.1 27.5h2.1v2.1h-2.1zM194.1 27.5h2.1v2.1h-2.1zM184.1 29.5h2.1v2.1h-2.1zM202.0 29.5h2.1v2.1h-2.1zM206.0 29.5h2.1v2.1h-2.1zM210.0 29.5h2.1v2.1h-2.1zM190.1 31.5h2.1v2.1h-2.1zM198.1 31.5h2.1v2.1h-2.1zM206.0 31.5h6.1v2.1h-6.1zM206.0 33.5h2.1v2.1h-2.1zM190.1 35.4h2.1v2.1h-2.1zM208.0 37.4h2.1v2.1h-2.1zM208.0 39.4h2.1v2.1h-2.1zM186.1 41.4h2.1v2.1h-2.1zM204.0 41.4h2.1v2.1h-2.1zM210.0 43.4h2.1v2.1h-2.1zM188.1 45.4h2.1v2.1h-2.1zM202.0 45.4h2.1v2.1h-2.1zM184.1 49.3h2.1v2.1h-2.1zM136.3 101.0h2.1v2.1h-2.1zM166.2 101.0h2.1v2.1h-2.1zM134.3 103.0h2.1v2.1h-2.1zM150.2 103.0h2.1v2.1h-2.1zM162.2 103.0h2.1v2.1h-2.1zM172.2 103.0h2.1v2.1h-2.1zM136.3 104.9h2.1v2.1h-2.1zM162.2 104.9h2.1v2.1h-2.1zM136.3 106.9h2.1v2.1h-2.1zM136.3 112.9h2.1v2.1h-2.1zM174.1 112.9h2.1v2.1h-2.1zM126.3 114.9h2.1v2.1h-2.1zM126.3 116.9h2.1v2.1h-2.1zM174.1 120.8h2.1v2.1h-2.1zM166.2 124.8h2.1v2.1h-2.1zM136.3 128.8h2.1v2.1h-2.1zM170.2 128.8h2.1v2.1h-2.1zM172.2 130.8h2.1v2.1h-2.1zM120.3 134.7h2.1v2.1h-2.1zM124.3 134.7h2.1v2.1h-2.1zM158.2 138.7h2.1v2.1h-2.1zM168.2 146.6h2.1v2.1h-2.1zM150.2 148.6h2.1v2.1h-2.1zM166.2 154.6h2.1v2.1h-2.1zM124.3 164.5h2.1v2.1h-2.1zM168.2 164.5h2.1v2.1h-2.1z"/>
<path fill="#fa9b58" d="M188.1 31.5h2.1v2.1h-2.1zM200.0 31.5h2.1v2.1h-2.1zM188.1 33.5h2.1v2.1h-2.1zM196.1 33.5h2.1v2.1h-2.1zM188.1 37.4h6.1v2.1h-6.1zM200.0 39.4h2.1v2.1h-2.1zM204.0 43.4h2.1v2.1h-2.1zM192.1 45.4h2.1v2.1h-2.1zM206.0 47.4h2.1v2.1h-2.1zM210.0 47.4h2.1v2.1h-2.1zM210.0 49.3h2.1v2.1h-2.1zM140.3 101.0h2.1v2.1h-2.1zM148.2 101.0h2.1v2.1h-2.1zM154.2 101.0h6.1v2.1h-6.1zM126.3 103.0h2.1v2.1h-2.1zM140.3 103.0h2.1v2.1h-2.1zM166.2 103.0h2.1v2.1h-2.1zM146.2 104.9h2.1v2.1h-2.1zM170.2 104.9h2.1v2.1h-2.1zM164.2 106.9h2.1v2.1h-2.1zM120.3 108.9h2.1v2.1h-2.1zM132.3 108.9h2.1v2.1h-2.1zM172.2 108.9h2.1v2.1h-2.1zM122.3 110.9h2.1v2.1h-2.1zM172.2 112.9h2.1v2.1h-2.1zM130.3 116.9h2.1v2.1h-2.1zM174.1 116.9h2.1v2.1h-2.1zM170.2 120.8h2.1v2.1h-2.1zM132.3 122.8h2.1v2.1h-2.1zM134.3 126.8h2.1v2.1h-2.1zM130.3 130.8h2.1v2.1h-2.1zM170.2 130.8h2.1v2.1h-2.1zM170.2 132.7h2.1v2.1h-2.1zM168.2 136.7h2.1v2.1h-2.1zM150.2 144.7h2.1v2.1h-2.1zM122.3 148.6h2.1v2.1h-2.1zM166.2 148.6h2.1v2.1h-2.1zM142.3 150.6h2.1v2.1h-2.1zM170.2 154.6h2.1v2.1h-2.1zM170.2 158.6h2.1v2.1h-2.1zM124.3 160.5h2.1v2.1h-2.1zM136.3 162.5h2.1v2.1h-2.1zM156.2 162.5h2.1v2.1h-2.1zM172.2 162.5h2.1v2.1h-2.1z"/>
<path fill="#f99455" d="M178.1 27.5h2.1v2.1h-2.1zM196.1 27.5h2.1v2.1h-2.1zM196.1 35.4h2.1v2.1h-2.1zM186.1 43.4h4.1v2.1h-4.1zM162.2 99.0h2.1v2.1h-2.1zM120.3 103.0h2.1v2.1h-2.1zM136.3 103.0h2.1v2.1h-2.1zM170.2 103.0h2.1v2.1h-2.1zM140.3 106.9h2.1v2.1h-2.1zM166.2 106.9h4.1v2.1h-4.1zM134.3 108.9h2.1v2.1h-2.1zM158.2 108.9h2.1v2.1h-2.1zM168.2 110.9h2.1v2.1h-2.1zM140.3 112.9h2.1v2.1h-2.1zM170.2 112.9h2.1v2.1h-2.1zM166.2 118.8h2.1v2.1h-2.1zM176.1 118.8h2.1v2.1h-2.1zM180.1 118.8h2.1v2.1h-2.1zM132.3 120.8h2.1v2.1h-2.1zM172.2 120.8h2.1v2.1h-2.1zM134.3 122.8h2.1v2.1h-2.1zM172.2 122.8h2.1v2.1h-2.1zM168.2 128.8h2.1v2.1h-2.1zM132.3 130.8h2.1v2.1h-2.1zM130.3 132.7h2.1v2.1h-2.1zM162.2 134.7h2.1v2.1h-2.1zM166.2 134.7h4.1v2.1h-4.1zM164.2 138.7h2.1v2.1h-2.1zM120.3 140.7h2.1v2.1h-2.1zM124.3 142.7h2.1v2.1h-2.1zM166.2 144.7h2.1v2.1h-2.1zM152.2 146.6h2.1v2.1h-2.1zM146.2 148.6h2.1v2.1h-2.1zM156.2 148.6h2.1v2.1h-2.1zM162.2 150.6h2.1v2.1h-2.1zM168.2 150.6h2.1v2.1h-2.1zM122.3 152.6h2.1v2.1h-2.1zM140.3 152.6h2.1v2.1h-2.1zM164.2 152.6h2.1v2.1h-2.1zM126.3 154.6h2.1v2.1h-2.1zM124.3 158.6h2.1v2.1h-2.1zM168.2 158.6h2.1v2.1h-2.1zM148.2 160.5h2.1v2.1h-2.1z"/>
<path fill="#f88e52" d="M188.1 41.4h2.1v2.1h-2.1zM160.2 101.0h2.1v2.1h-2.1zM164.2 101.0h2.1v2.1h-2.1zM144.3 104.9h2.1v2.1h-2.1zM166.2 104.9h2.1v2.1h-2.1zM126.3 106.9h2.1v2.1h-2.1zM160.2 106.9h2.1v2.1h-2.1zM160.2 108.9h2.1v2.1h-2.1zM170.2 108.9h2.1v2.1h-2.1zM158.2 110.9h2.1v2.1h-2.1zM170.2 110.9h2.1v2.1h-2.1zM178.1 110.9h2.1v2.1h-2.1zM172.2 118.8h2.1v2.1h-2.1zM172.2 124.8h2.1v2.1h-2.1zM166.2 126.8h2.1v2.1h-2.1zM144.3 128.8h2.1v2.1h-2.1zM158.2 128.8h2.1v2.1h-2.1zM126.3 132.7h2.1v2.1h-2.1zM122.3 136.7h2.1v2.1h-2.1zM168.2 140.7h2.1v2.1h-2.1zM122.3 142.7h2.1v2.1h-2.1zM170.2 142.7h2.1v2.1h-2.1zM158.2 144.7h2.1v2.1h-2.1zM150.2 146.6h2.1v2.1h-2.1zM164.2 146.6h2.1v2.1h-2.1zM168.2 148.6h2.1v2.1h-2.1zM148.2 150.6h2.1v2.1h-2.1zM128.3 152.6h2.1v2.1h-2.1zM166.2 152.6h2.1v2.1h-2.1zM164.2 154.6h2.1v2.1h-2.1zM168.2 156.6h2.1v2.1h-2.1z"/>
<path fill="#f8874f" d="M210.0 35.4h2.1v2.1h-2.1zM152.2 101.0h2.1v2.1h-2.1zM156.2 103.0h2.1v2.1h-2.1zM160.2 103.0h2.1v2.1h-2.1zM138.3 104.9h2.1v2.1h-2.1zM154.2 104.9h2.1v2.1h-2.1zM142.3 106.9h2.1v2.1h-2.1zM156.2 106.9h2.1v2.1h-2.1zM130.3 108.9h2.1v2.1h-2.1zM140.3 108.9h2.1v2.1h-2.1zM168.2 112.9h2.1v2.1h-2.1zM128.3 116.9h2.1v2.1h-2.1zM138.3 116.9h2.1v2.1h-2.1zM168.2 118.8h4.1v2.1h-4.1zM156.2 124.8h2.1v2.1h-2.1zM154.2 126.8h2.1v2.1h-2.1zM128.3 132.7h2.1v2.1h-2.1zM164.2 132.7h2.1v2.1h-2.1zM120.3 138.7h2.1v2.1h-2.1zM128.3 142.7h2.1v2.1h-2.1zM120.3 146.6h2.1v2.1h-2.1zM166.2 150.6h2.1v2.1h-2.1zM156.2 152.6h2.1v2.1h-2.1zM168.2 154.6h2.1v2.1h-2.1zM148.2 162.5h2.1v2.1h-2.1zM150.2 164.5h2.1v2.1h-2.1zM162.2 164.5h2.1v2.1h-2.1z"/>
<path fill="#f7804c" d="M142.3 103.0h2.1v2.1h-2.1zM148.2 103.0h2.1v2.1h-2.1zM164.2 103.0h2.1v2.1h-2.1zM130.3 104.9h2.1v2.1h-2.1zM164.2 104.9h2.1v2.1h-2.1zM122.3 106.9h2.1v2.1h-2.1zM158.2 106.9h2.1v2.1h-2.1zM162.2 106.9h2.1v2.1h-2.1zM126.3 110.9h2.1v2.1h-2.1zM154.2 110.9h2.1v2.1h-2.1zM160.2 110.9h2.1v2.1h-2.1zM166.2 112.9h2.1v2.1h-2.1zM136.3 120.8h2.1v2.1h-2.1zM168.2 120.8h2.1v2.1h-2.1zM140.3 122.8h2.1v2.1h-2.1zM138.3 126.8h2.1v2.1h-2.1zM140.3 128.8h2.1v2.1h-2.1zM148.2 128.8h2.1v2.1h-2.1zM144.3 132.7h2.1v2.1h-2.1zM148.2 132.7h2.1v2.1h-2.1zM168.2 132.7h2.1v2.1h-2.1zM164.2 134.7h2.1v2.1h-2.1zM156.2 136.7h2.1v2.1h-2.1zM118.4 138.7h2.1v2.1h-2.1zM146.2 138.7h2.1v2.1h-2.1zM134.3 140.7h2.1v2.1h-2.1zM152.2 142.7h2.1v2.1h-2.1zM168.2 142.7h2.1v2.1h-2.1zM124.3 144.7h2.1v2.1h-2.1zM124.3 146.6h2.1v2.1h-2.1zM126.3 150.6h2.1v2.1h-2.1zM130.3 154.6h2.1v2.1h-2.1zM144.3 154.6h2.1v2.1h-2.1zM126.3 156.6h2.1v2.1h-2.1zM162.2 158.6h2.1v2.1h-2.1zM160.2 160.5h2.1v2.1h-2.1zM168.2 160.5h2.1v2.1h-2.1zM128.3 164.5h2.1v2.1h-2.1z"/>
<path fill="#f67949" d="M144.3 103.0h2.1v2.1h-2.1zM154.2 103.0h2.1v2.1h-2.1zM140.3 104.9h2.1v2.1h-2.1zM128.3 106.9h2.1v2.1h-2.1zM128.3 108.9h2.1v2.1h-2.1zM162.2 108.9h4.1v2.1h-4.1zM168.2 108.9h2.1v2.1h-2.1zM166.2 110.9h2.1v2.1h-2.1zM132.3 112.9h2.1v2.1h-2.1zM132.3 118.8h2.1v2.1h-2.1zM134.3 120.8h2.1v2.1h-2.1zM152.2 120.8h2.1v2.1h-2.1zM168.2 122.8h4.1v2.1h-4.1zM152.2 128.8h2.1v2.1h-2.1zM158.2 132.7h2.1v2.1h-2.1zM166.2 132.7h2.1v2.1h-2.1zM154.2 134.7h2.1v2.1h-2.1zM146.2 136.7h2.1v2.1h-2.1zM138.3 138.7h2.1v2.1h-2.1zM152.2 140.7h2.1v2.1h-2.1zM166.2 140.7h2.1v2.1h-2.1zM130.3 142.7h2.1v2.1h-2.1zM154.2 144.7h2.1v2.1h-2.1zM168.2 144.7h2.1v2.1h-2.1zM140.3 146.6h2.1v2.1h-2.1zM120.3 148.6h2.1v2.1h-2.1zM128.3 148.6h2.1v2.1h-2.1zM164.2 148.6h2.1v2.1h-2.1zM144.3 152.6h2.1v2.1h-2.1zM168.2 152.6h2.1v2.1h-2.1zM162.2 154.6h2.1v2.1h-2.1zM148.2 158.6h2.1v2.1h-2.1zM162.2 162.5h2.1v2.1h-2.1zM168.2 162.5h2.1v2.1h-2.1zM134.3 164.5h2.1v2.1h-2.1z"/>
<path fill="#f57246" d="M138.3 103.0h2.1v2.1h-2.1zM132.3 104.9h2.1v2.1h-2.1zM158.2 104.9h2.1v2.1h-2.1zM146.2 106.9h2.1v2.1h-2.1zM142.3 108.9h2.1v2.1h-2.1zM148.2 108.9h2.1v2.1h-2.1zM156.2 108.9h2.1v2.1h-2.1zM132.3 110.9h2.1v2.1h-2.1zM140.3 110.9h2.1v2.1h-2.1zM148.2 110.9h2.1v2.1h-2.1zM146.2 112.9h2.1v2.1h-2.1zM164.2 114.9h2.1v2.1h-2.1zM136.3 116.9h2.1v2.1h-2.1zM146.2 116.9h2.1v2.1h-2.1zM152.2 116.9h2.1v2.1h-2.1zM156.2 118.8h2.1v2.1h-2.1zM162.2 118.8h4.1v2.1h-4.1zM136.3 122.8h4.1v2.1h-4.1zM136.3 124.8h2.1v2.1h-2.1zM168.2 124.8h2.1v2.1h-2.1zM136.3 126.8h2.1v2.1h-2.1zM142.3 126.8h2.1v2.1h-2.1zM164.2 128.8h2.1v2.1h-2.1zM126.3 142.7h2.1v2.1h-2.1zM130.3 146.6h2.1v2.1h-2.1zM124.3 148.6h2.1v2.1h-2.1zM122.3 150.6h2.1v2.1h-2.1zM126.3 152.6h2.1v2.1h-2.1zM152.2 152.6h2.1v2.1h-2.1zM132.3 154.6h2.1v2.1h-2.1zM142.3 154.6h2.1v2.1h-2.1zM152.2 158.6h2.1v2.1h-2.1zM164.2 158.6h2.1v2.1h-2.1zM158.2 160.5h2.1v2.1h-2.1zM124.3 162.5h2.1v2.1h-2.1zM166.2 162.5h2.1v2.1h-2.1z"/>
<path fill="#f36c42" d="M134.3 104.9h2.1v2.1h-2.1zM138.3 108.9h2.1v2.1h-2.1zM146.2 108.9h2.1v2.1h-2.1zM166.2 108.9h2.1v2.1h-2.1zM130.3 110.9h2.1v2.1h-2.1zM146.2 110.9h2.1v2.1h-2.1zM134.3 112.9h2.1v2.1h-2.1zM144.3 112.9h2.1v2.1h-2.1zM160.2 112.9h2.1v2.1h-2.1zM148.2 114.9h2.1v2.1h-2.1zM132.3 116.9h2.1v2.1h-2.1zM166.2 116.9h2.1v2.1h-2.1zM154.2 120.8h2.1v2.1h-2.1zM166.2 120.8h2.1v2.1h-2.1zM152.2 122.8h2.1v2.1h-2.1zM140.3 126.8h2.1v2.1h-2.1zM148.2 126.8h2.1v2.1h-2.1zM146.2 128.8h2.1v2.1h-2.1zM134.3 130.8h2.1v2.1h-2.1zM164.2 130.8h2.1v2.1h-2.1zM136.3 132.7h2.1v2.1h-2.1zM146.2 132.7h2.1v2.1h-2.1zM156.2 132.7h2.1v2.1h-2.1zM126.3 134.7h2.1v2.1h-2.1zM130.3 136.7h2.1v2.1h-2.1zM166.2 136.7h2.1v2.1h-2.1zM130.3 138.7h2.1v2.1h-2.1zM134.3 138.7h2.1v2.1h-2.1zM142.3 138.7h2.1v2.1h-2.1zM166.2 138.7h2.1v2.1h-2.1zM120.3 142.7h2.1v2.1h-2.1zM144.3 144.7h2.1v2.1h-2.1zM156.2 144.7h2.1v2.1h-2.1zM144.3 148.6h2.1v2.1h-2.1zM152.2 148.6h2.1v2.1h-2.1zM130.3 150.6h2.1v2.1h-2.1zM134.3 154.6h2.1v2.1h-2.1zM150.2 154.6h2.1v2.1h-2.1zM128.3 156.6h2.1v2.1h-2.1zM150.2 156.6h2.1v2.1h-2.1zM162.2 156.6h2.1v2.1h-2.1zM130.3 158.6h2.1v2.1h-2.1zM146.2 160.5h2.1v2.1h-2.1zM166.2 160.5h2.1v2.1h-2.1zM134.3 162.5h2.1v2.1h-2.1zM164.2 162.5h2.1v2.1h-2.1zM148.2 164.5h2.1v2.1h-2.1z"/>
<path fill="#f06540" d="M152.2 103.0h2.1v2.1h-2.1zM152.2 104.9h2.1v2.1h-2.1zM156.2 104.9h2.1v2.1h-2.1zM162.2 110.9h2.1v2.1h-2.1zM128.3 112.9h2.1v2.1h-2.1zM164.2 112.9h2.1v2.1h-2.1zM150.2 114.9h2.1v2.1h-2.1zM160.2 114.9h4.1v2.1h-4.1zM168.2 114.9h2.1v2.1h-2.1zM150.2 116.9h2.1v2.1h-2.1zM154.2 116.9h2.1v2.1h-2.1zM168.2 116.9h2.1v2.1h-2.1zM158.2 118.8h2.1v2.1h-2.1zM144.3 120.8h2.1v2.1h-2.1zM138.3 124.8h2.1v2.1h-2.1zM148.2 124.8h2.1v2.1h-2.1zM158.2 124.8h2.1v2.1h-2.1zM146.2 126.8h2.1v2.1h-2.1zM164.2 126.8h2.1v2.1h-2.1zM128.3 136.7h2.1v2.1h-2.1zM134.3 136.7h2.1v2.1h-2.1zM140.3 136.7h2.1v2.1h-2.1zM122.3 138.7h2.1v2.1h-2.1zM152.2 138.7h2.1v2.1h-2.1zM124.3 140.7h6.1v2.1h-6.1zM160.2 140.7h2.1v2.1h-2.1zM154.2 142.7h2.1v2.1h-2.1zM160.2 142.7h4.1v2.1h-4.1zM130.3 144.7h2.1v2.1h-2.1zM164.2 144.7h2.1v2.1h-2.1zM122.3 146.6h2.1v2.1h-2.1zM138.3 146.6h2.1v2.1h-2.1zM156.2 146.6h2.1v2.1h-2.1zM134.3 150.6h2.1v2.1h-2.1zM142.3 152.6h2.1v2.1h-2.1zM160.2 152.6h2.1v2.1h-2.1zM156.2 154.6h2.1v2.1h-2.1zM158.2 156.6h2.1v2.1h-2.1zM164.2 156.6h2.1v2.1h-2.1zM156.2 158.6h2.1v2.1h-2.1zM140.3 160.5h2.1v2.1h-2.1zM152.2 160.5h2.1v2.1h-2.1zM128.3 162.5h2.1v2.1h-2.1zM132.3 162.5h2.1v2.1h-2.1zM130.3 164.5h2.1v2.1h-2.1z"/>
<path fill="#ed5f3d" d="M142.3 104.9h2.1v2.1h-2.1zM160.2 104.9h2.1v2.1h-2.1zM134.3 106.9h2.1v2.1h-2.1zM138.3 106.9h2.1v2.1h-2.1zM126.3 108.9h2.1v2.1h-2.1zM154.2 108.9h2.1v2.1h-2.1zM124.3 112.9h2.1v2.1h-2.1zM162.2 116.9h2.1v2.1h-2.1zM162.2 122.8h2.1v2.1h-2.1zM166.2 122.8h2.1v2.1h-2.1zM142.3 124.8h2.1v2.1h-2.1zM162.2 124.8h2.1v2.1h-2.1zM134.3 128.8h2.1v2.1h-2.1zM156.2 128.8h2.1v2.1h-2.1zM160.2 128.8h2.1v2.1h-2.1zM166.2 128.8h2.1v2.1h-2.1zM158.2 130.8h2.1v2.1h-2.1zM132.3 132.7h2.1v2.1h-2.1zM162.2 132.7h2.1v2.1h-2.1zM142.3 134.7h2.1v2.1h-2.1zM158.2 134.7h4.1v2.1h-4.1zM156.2 138.7h2.1v2.1h-2.1zM132.3 140.7h2.1v2.1h-2.1zM138.3 140.7h2.1v2.1h-2.1zM148.2 140.7h2.1v2.1h-2.1zM122.3 144.7h2.1v2.1h-2.1zM126.3 144.7h2.1v2.1h-2.1zM134.3 144.7h2.1v2.1h-2.1zM162.2 144.7h2.1v2.1h-2.1zM126.3 146.6h2.1v2.1h-2.1zM140.3 148.6h2.1v2.1h-2.1zM140.3 150.6h2.1v2.1h-2.1zM124.3 152.6h2.1v2.1h-2.1zM154.2 152.6h2.1v2.1h-2.1zM146.2 154.6h2.1v2.1h-2.1zM132.3 156.6h2.1v2.1h-2.1zM138.3 156.6h2.1v2.1h-2.1zM126.3 158.6h2.1v2.1h-2.1zM134.3 158.6h4.1v2.1h-4.1zM142.3 160.5h2.1v2.1h-2.1zM154.2 160.5h4.1v2.1h-4.1zM162.2 160.5h2.1v2.1h-2.1zM152.2 164.5h2.1v2.1h-2.1zM156.2 164.5h2.1v2.1h-2.1z"/>
<path fill="#ea593a" d="M126.3 104.9h2.1v2.1h-2.1zM148.2 104.9h2.1v2.1h-2.1zM130.3 106.9h2.1v2.1h-2.1zM144.3 106.9h2.1v2.1h-2.1zM142.3 110.9h2.1v2.1h-2.1zM164.2 110.9h2.1v2.1h-2.1zM148.2 112.9h2.1v2.1h-2.1zM128.3 114.9h2.1v2.1h-2.1zM138.3 114.9h2.1v2.1h-2.1zM156.2 114.9h2.1v2.1h-2.1zM160.2 120.8h2.1v2.1h-2.1zM140.3 124.8h2.1v2.1h-2.1zM146.2 124.8h2.1v2.1h-2.1zM160.2 126.8h2.1v2.1h-2.1zM136.3 130.8h2.1v2.1h-2.1zM160.2 132.7h2.1v2.1h-2.1zM130.3 134.7h2.1v2.1h-2.1zM136.3 134.7h2.1v2.1h-2.1zM144.3 134.7h2.1v2.1h-2.1zM154.2 136.7h2.1v2.1h-2.1zM148.2 138.7h2.1v2.1h-2.1zM142.3 142.7h2.1v2.1h-2.1zM166.2 142.7h2.1v2.1h-2.1zM140.3 144.7h2.1v2.1h-2.1zM146.2 144.7h2.1v2.1h-2.1zM132.3 146.6h2.1v2.1h-2.1zM166.2 146.6h2.1v2.1h-2.1zM150.2 150.6h2.1v2.1h-2.1zM146.2 152.6h4.1v2.1h-4.1zM138.3 154.6h2.1v2.1h-2.1zM134.3 156.6h2.1v2.1h-2.1zM160.2 156.6h2.1v2.1h-2.1zM166.2 156.6h2.1v2.1h-2.1zM130.3 160.5h2.1v2.1h-2.1zM134.3 160.5h4.1v2.1h-4.1zM140.3 162.5h2.1v2.1h-2.1zM152.2 162.5h2.1v2.1h-2.1zM140.3 164.5h2.1v2.1h-2.1zM154.2 164.5h2.1v2.1h-2.1zM166.2 164.5h2.1v2.1h-2.1z"/>
<path fill="#e75237" d="M150.2 104.9h2.1v2.1h-2.1zM132.3 106.9h2.1v2.1h-2.1zM154.2 106.9h2.1v2.1h-2.1zM136.3 108.9h2.1v2.1h-2.1zM152.2 108.9h2.1v2.1h-2.1zM142.3 114.9h2.1v2.1h-2.1zM156.2 116.9h2.1v2.1h-2.1zM146.2 120.8h2.1v2.1h-2.1zM150.2 120.8h2.1v2.1h-2.1zM158.2 126.8h2.1v2.1h-2.1zM142.3 130.8h2.1v2.1h-2.1zM156.2 130.8h2.1v2.1h-2.1zM162.2 130.8h2.1v2.1h-2.1zM124.3 136.7h2.1v2.1h-2.1zM150.2 136.7h2.1v2.1h-2.1zM126.3 138.7h4.1v2.1h-4.1zM162.2 138.7h2.1v2.1h-2.1zM122.3 140.7h2.1v2.1h-2.1zM150.2 140.7h2.1v2.1h-2.1zM134.3 142.7h2.1v2.1h-2.1zM148.2 142.7h2.1v2.1h-2.1zM156.2 142.7h2.1v2.1h-2.1zM164.2 142.7h2.1v2.1h-2.1zM142.3 144.7h2.1v2.1h-2.1zM136.3 146.6h2.1v2.1h-2.1zM146.2 146.6h2.1v2.1h-2.1zM126.3 148.6h2.1v2.1h-2.1zM142.3 148.6h2.1v2.1h-2.1zM124.3 150.6h2.1v2.1h-2.1zM128.3 150.6h2.1v2.1h-2.1zM152.2 150.6h2.1v2.1h-2.1zM164.2 150.6h2.1v2.1h-2.1zM162.2 152.6h2.1v2.1h-2.1zM158.2 154.6h2.1v2.1h-2.1zM140.3 156.6h2.1v2.1h-2.1zM128.3 158.6h2.1v2.1h-2.1zM150.2 158.6h2.1v2.1h-2.1zM128.3 160.5h2.1v2.1h-2.1zM154.2 162.5h2.1v2.1h-2.1z"/>
<path fill="#e44c34" d="M148.2 106.9h2.1v2.1h-2.1zM152.2 106.9h2.1v2.1h-2.1zM124.3 108.9h2.1v2.1h-2.1zM126.3 112.9h2.1v2.1h-2.1zM130.3 112.9h2.1v2.1h-2.1zM150.2 112.9h2.1v2.1h-2.1zM156.2 112.9h2.1v2.1h-2.1zM162.2 112.9h2.1v2.1h-2.1zM136.3 114.9h2.1v2.1h-2.1zM130.3 118.8h2.1v2.1h-2.1zM138.3 118.8h2.1v2.1h-2.1zM160.2 118.8h2.1v2.1h-2.1zM156.2 120.8h2.1v2.1h-2.1zM144.3 122.8h2.1v2.1h-2.1zM168.2 126.8h2.1v2.1h-2.1zM138.3 128.8h2.1v2.1h-2.1zM154.2 128.8h2.1v2.1h-2.1zM162.2 128.8h2.1v2.1h-2.1zM134.3 134.7h2.1v2.1h-2.1zM140.3 134.7h2.1v2.1h-2.1zM138.3 136.7h2.1v2.1h-2.1zM154.2 138.7h2.1v2.1h-2.1zM160.2 138.7h2.1v2.1h-2.1zM148.2 144.7h2.1v2.1h-2.1zM154.2 146.6h2.1v2.1h-2.1zM158.2 146.6h2.1v2.1h-2.1zM130.3 148.6h2.1v2.1h-2.1zM138.3 150.6h2.1v2.1h-2.1zM148.2 154.6h2.1v2.1h-2.1zM154.2 156.6h4.1v2.1h-4.1zM154.2 158.6h2.1v2.1h-2.1zM160.2 158.6h2.1v2.1h-2.1zM144.3 160.5h2.1v2.1h-2.1zM132.3 164.5h2.1v2.1h-2.1zM144.3 164.5h2.1v2.1h-2.1z"/>
<path fill="#e14631" d="M124.3 106.9h2.1v2.1h-2.1zM140.3 114.9h2.1v2.1h-2.1zM154.2 114.9h2.1v2.1h-2.1zM140.3 116.9h2.1v2.1h-2.1zM160.2 116.9h2.1v2.1h-2.1zM164.2 116.9h2.1v2.1h-2.1zM136.3 118.8h2.1v2.1h-2.1zM148.2 118.8h4.1v2.1h-4.1zM140.3 120.8h2.1v2.1h-2.1zM158.2 120.8h2.1v2.1h-2.1zM164.2 120.8h2.1v2.1h-2.1zM146.2 122.8h2.1v2.1h-2.1zM158.2 122.8h4.1v2.1h-4.1zM154.2 124.8h2.1v2.1h-2.1zM160.2 124.8h2.1v2.1h-2.1zM144.3 126.8h2.1v2.1h-2.1zM150.2 126.8h2.1v2.1h-2.1zM134.3 132.7h2.1v2.1h-2.1zM152.2 134.7h2.1v2.1h-2.1zM158.2 136.7h2.1v2.1h-2.1zM136.3 142.7h2.1v2.1h-2.1zM150.2 142.7h2.1v2.1h-2.1zM158.2 150.6h2.1v2.1h-2.1zM130.3 152.6h2.1v2.1h-2.1zM136.3 152.6h2.1v2.1h-2.1zM158.2 152.6h2.1v2.1h-2.1zM128.3 154.6h2.1v2.1h-2.1zM136.3 154.6h2.1v2.1h-2.1zM152.2 154.6h2.1v2.1h-2.1zM148.2 156.6h2.1v2.1h-2.1zM142.3 158.6h2.1v2.1h-2.1zM126.3 160.5h2.1v2.1h-2.1zM144.3 162.5h4.1v2.1h-4.1zM146.2 164.5h2.1v2.1h-2.1z"/>
<path fill="#de3f2e" d="M128.3 110.9h2.1v2.1h-2.1zM134.3 110.9h2.1v2.1h-2.1zM150.2 110.9h2.1v2.1h-2.1zM142.3 112.9h2.1v2.1h-2.1zM152.2 112.9h2.1v2.1h-2.1zM130.3 114.9h2.1v2.1h-2.1zM144.3 116.9h2.1v2.1h-2.1zM158.2 116.9h2.1v2.1h-2.1zM140.3 118.8h2.1v2.1h-2.1zM146.2 118.8h2.1v2.1h-2.1zM162.2 120.8h2.1v2.1h-2.1zM162.2 126.8h2.1v2.1h-2.1zM140.3 130.8h2.1v2.1h-2.1zM146.2 130.8h2.1v2.1h-2.1zM138.3 132.7h2.1v2.1h-2.1zM132.3 134.7h2.1v2.1h-2.1zM146.2 134.7h4.1v2.1h-4.1zM156.2 134.7h2.1v2.1h-2.1zM124.3 138.7h2.1v2.1h-2.1zM140.3 140.7h4.1v2.1h-4.1zM156.2 140.7h2.1v2.1h-2.1zM164.2 140.7h2.1v2.1h-2.1zM146.2 142.7h2.1v2.1h-2.1zM158.2 142.7h2.1v2.1h-2.1zM152.2 144.7h2.1v2.1h-2.1zM142.3 146.6h2.1v2.1h-2.1zM160.2 146.6h4.1v2.1h-4.1zM138.3 148.6h2.1v2.1h-2.1zM154.2 148.6h2.1v2.1h-2.1zM152.2 156.6h2.1v2.1h-2.1zM158.2 164.5h2.1v2.1h-2.1z"/>
<path fill="#db392b" d="M136.3 110.9h4.1v2.1h-4.1zM144.3 110.9h2.1v2.1h-2.1zM158.2 112.9h2.1v2.1h-2.1zM142.3 116.9h2.1v2.1h-2.1zM142.3 118.8h2.1v2.1h-2.1zM156.2 122.8h2.1v2.1h-2.1zM164.2 124.8h2.1v2.1h-2.1zM152.2 126.8h2.1v2.1h-2.1zM144.3 130.8h2.1v2.1h-2.1zM150.2 130.8h2.1v2.1h-2.1zM160.2 130.8h2.1v2.1h-2.1zM152.2 132.7h4.1v2.1h-4.1zM160.2 136.7h2.1v2.1h-2.1zM164.2 136.7h2.1v2.1h-2.1zM136.3 138.7h2.1v2.1h-2.1zM130.3 140.7h2.1v2.1h-2.1zM136.3 140.7h2.1v2.1h-2.1zM144.3 146.6h2.1v2.1h-2.1zM136.3 148.6h2.1v2.1h-2.1zM162.2 148.6h2.1v2.1h-2.1zM132.3 150.6h2.1v2.1h-2.1zM146.2 150.6h2.1v2.1h-2.1zM154.2 150.6h2.1v2.1h-2.1zM134.3 152.6h2.1v2.1h-2.1zM140.3 154.6h2.1v2.1h-2.1zM130.3 156.6h2.1v2.1h-2.1zM136.3 156.6h2.1v2.1h-2.1zM146.2 156.6h2.1v2.1h-2.1zM126.3 162.5h2.1v2.1h-2.1zM158.2 162.5h4.1v2.1h-4.1zM126.3 164.5h2.1v2.1h-2.1zM136.3 164.5h4.1v2.1h-4.1z"/>
<path fill="#d83328" d="M150.2 108.9h2.1v2.1h-2.1zM146.2 114.9h2.1v2.1h-2.1zM154.2 118.8h2.1v2.1h-2.1zM148.2 120.8h2.1v2.1h-2.1zM164.2 122.8h2.1v2.1h-2.1zM128.3 134.7h2.1v2.1h-2.1zM150.2 134.7h2.1v2.1h-2.1zM144.3 138.7h2.1v2.1h-2.1zM128.3 144.7h2.1v2.1h-2.1zM132.3 144.7h2.1v2.1h-2.1zM136.3 150.6h2.1v2.1h-2.1zM132.3 158.6h2.1v2.1h-2.1zM140.3 158.6h2.1v2.1h-2.1zM144.3 158.6h4.1v2.1h-4.1zM132.3 160.5h2.1v2.1h-2.1z"/>
<path fill="#d42d27" d="M144.3 108.9h2.1v2.1h-2.1zM138.3 112.9h2.1v2.1h-2.1zM134.3 114.9h2.1v2.1h-2.1zM158.2 114.9h2.1v2.1h-2.1zM148.2 116.9h2.1v2.1h-2.1zM138.3 120.8h2.1v2.1h-2.1zM142.3 122.8h2.1v2.1h-2.1zM154.2 122.8h2.1v2.1h-2.1zM148.2 130.8h2.1v2.1h-2.1zM142.3 132.7h2.1v2.1h-2.1zM150.2 132.7h2.1v2.1h-2.1zM126.3 136.7h2.1v2.1h-2.1zM142.3 136.7h2.1v2.1h-2.1zM132.3 138.7h2.1v2.1h-2.1zM146.2 140.7h2.1v2.1h-2.1zM134.3 146.6h2.1v2.1h-2.1zM134.3 148.6h2.1v2.1h-2.1zM158.2 148.6h2.1v2.1h-2.1zM160.2 150.6h2.1v2.1h-2.1zM160.2 154.6h2.1v2.1h-2.1zM158.2 158.6h2.1v2.1h-2.1zM150.2 160.5h2.1v2.1h-2.1zM138.3 162.5h2.1v2.1h-2.1z"/>
<path fill="#cf2827" d="M152.2 110.9h2.1v2.1h-2.1zM152.2 114.9h2.1v2.1h-2.1zM144.3 118.8h2.1v2.1h-2.1zM152.2 118.8h2.1v2.1h-2.1zM150.2 124.8h2.1v2.1h-2.1zM142.3 128.8h2.1v2.1h-2.1zM138.3 130.8h2.1v2.1h-2.1zM154.2 130.8h2.1v2.1h-2.1zM140.3 132.7h2.1v2.1h-2.1zM140.3 138.7h2.1v2.1h-2.1zM150.2 138.7h2.1v2.1h-2.1zM144.3 140.7h2.1v2.1h-2.1zM158.2 140.7h2.1v2.1h-2.1zM132.3 142.7h2.1v2.1h-2.1zM138.3 142.7h4.1v2.1h-4.1zM150.2 152.6h2.1v2.1h-2.1zM164.2 160.5h2.1v2.1h-2.1z"/>
<path fill="#c92327" d="M144.3 114.9h2.1v2.1h-2.1zM144.3 124.8h2.1v2.1h-2.1zM152.2 124.8h2.1v2.1h-2.1zM132.3 136.7h2.1v2.1h-2.1zM152.2 136.7h2.1v2.1h-2.1zM162.2 136.7h2.1v2.1h-2.1zM144.3 142.7h2.1v2.1h-2.1zM138.3 144.7h2.1v2.1h-2.1zM144.3 156.6h2.1v2.1h-2.1zM138.3 158.6h2.1v2.1h-2.1zM130.3 162.5h2.1v2.1h-2.1zM150.2 162.5h2.1v2.1h-2.1z"/>
<path fill="#c41e27" d="M154.2 112.9h2.1v2.1h-2.1zM134.3 118.8h2.1v2.1h-2.1zM156.2 126.8h2.1v2.1h-2.1zM150.2 128.8h2.1v2.1h-2.1zM148.2 136.7h2.1v2.1h-2.1zM154.2 140.7h2.1v2.1h-2.1zM136.3 144.7h2.1v2.1h-2.1zM160.2 144.7h2.1v2.1h-2.1zM156.2 150.6h2.1v2.1h-2.1zM132.3 152.6h2.1v2.1h-2.1zM142.3 156.6h2.1v2.1h-2.1z"/>
<path fill="#bf1927" d="M132.3 114.9h2.1v2.1h-2.1zM134.3 116.9h2.1v2.1h-2.1zM148.2 122.8h2.1v2.1h-2.1zM152.2 130.8h2.1v2.1h-2.1zM144.3 136.7h2.1v2.1h-2.1zM132.3 148.6h2.1v2.1h-2.1zM154.2 154.6h2.1v2.1h-2.1zM142.3 164.5h2.1v2.1h-2.1z"/>
<path fill="#ba1426" d="M136.3 136.7h2.1v2.1h-2.1zM160.2 148.6h2.1v2.1h-2.1z"/>
<path fill="#b50f26" d="M150.2 106.9h2.1v2.1h-2.1zM128.3 146.6h2.1v2.1h-2.1zM138.3 152.6h2.1v2.1h-2.1zM138.3 160.5h2.1v2.1h-2.1zM142.3 162.5h2.1v2.1h-2.1z"/>
<path fill="#af0a26" d="M142.3 120.8h2.1v2.1h-2.1zM150.2 122.8h2.1v2.1h-2.1z"/>
<path fill="#a50026" d="M138.3 134.7h2.1v2.1h-2.1z"/>
</g>
<line x1="93.7" y1="140.9" x2="118.5" y2="140.9" stroke="#111" stroke-width="2.1"/>
<text x="105.9" y="157.4" font-size="12.8" font-weight="bold" text-anchor="middle" class="k lib">20 µm</text>
<circle cx="192.4" cy="140.1" r="6.3" fill="none" stroke="#111" stroke-width="2"/><circle cx="192.2" cy="140.4" r="2.4" fill="#111"/>
<text x="191.6" y="158.1" font-size="13.2" font-weight="bold" text-anchor="middle" class="k lib">&lt;110&gt;</text>
<rect x="70.2" y="27.8" width="7.2" height="139" fill="url(#cb)" stroke="#222" stroke-width="0.9"/>
<line x1="65.5" y1="27.9" x2="70.2" y2="27.9" stroke="#1a1a1a" stroke-width="1.5"/>
<text x="60.7" y="32.9" font-size="14.8" text-anchor="end" class="k">1.0</text>
<line x1="65.5" y1="68.4" x2="70.2" y2="68.4" stroke="#1a1a1a" stroke-width="1.5"/>
<text x="60.7" y="73.4" font-size="14.8" text-anchor="end" class="k">0.8</text>
<line x1="65.5" y1="108.9" x2="70.2" y2="108.9" stroke="#1a1a1a" stroke-width="1.5"/>
<text x="60.7" y="113.9" font-size="14.8" text-anchor="end" class="k">0.6</text>
<line x1="65.5" y1="149.4" x2="70.2" y2="149.4" stroke="#1a1a1a" stroke-width="1.5"/>
<text x="60.7" y="154.4" font-size="14.8" text-anchor="end" class="k">0.4</text>
<text transform="translate(27.4,97.8) rotate(-90)" font-size="14.8" text-anchor="middle" class="k">Norm. Intensity</text>
<text x="53" y="12.7" font-size="18.5" text-anchor="middle" class="k">(a)</text>
<defs><clipPath id="cpb"><rect x="324.3" y="27.6" width="180.3" height="139.4"/></clipPath></defs>
<g clip-path="url(#cpb)">
<circle cx="324.3" cy="46.3" r="3.3" fill="#f5b46e" fill-opacity="0.42"/>
<circle cx="324.9" cy="42.7" r="3.3" fill="#f5b46e" fill-opacity="0.42"/>
<circle cx="325.6" cy="37.2" r="3.3" fill="#f5b46e" fill-opacity="0.42"/>
<circle cx="326.2" cy="43.6" r="3.3" fill="#f5b46e" fill-opacity="0.42"/>
<circle cx="326.9" cy="47.2" r="3.3" fill="#f5b46e" fill-opacity="0.42"/>
<circle cx="327.5" cy="38.6" r="3.3" fill="#f5b46e" fill-opacity="0.42"/>
<circle cx="328.2" cy="41.3" r="3.3" fill="#f5b46e" fill-opacity="0.42"/>
<circle cx="328.8" cy="46.5" r="3.3" fill="#f5b46e" fill-opacity="0.42"/>
<circle cx="329.5" cy="41.0" r="3.3" fill="#f5b46e" fill-opacity="0.42"/>
<circle cx="330.1" cy="46.5" r="3.3" fill="#f5b46e" fill-opacity="0.42"/>
<circle cx="330.8" cy="47.6" r="3.3" fill="#f5b46e" fill-opacity="0.42"/>
<circle cx="331.4" cy="44.4" r="3.3" fill="#f5b46e" fill-opacity="0.42"/>
<circle cx="332.1" cy="45.6" r="3.3" fill="#f5b46e" fill-opacity="0.42"/>
<circle cx="332.7" cy="47.7" r="3.3" fill="#f5b46e" fill-opacity="0.42"/>
<circle cx="333.4" cy="45.9" r="3.3" fill="#f5b46e" fill-opacity="0.42"/>
<circle cx="334.0" cy="48.1" r="3.3" fill="#f5b46e" fill-opacity="0.42"/>
<circle cx="334.7" cy="45.3" r="3.3" fill="#f5b46e" fill-opacity="0.42"/>
<circle cx="335.3" cy="45.9" r="3.3" fill="#f5b46e" fill-opacity="0.42"/>
<circle cx="336.0" cy="44.1" r="3.3" fill="#f5b46e" fill-opacity="0.42"/>
<circle cx="336.6" cy="48.0" r="3.3" fill="#f5b46e" fill-opacity="0.42"/>
<circle cx="337.3" cy="51.0" r="3.3" fill="#f5b46e" fill-opacity="0.42"/>
<circle cx="337.9" cy="51.4" r="3.3" fill="#f5b46e" fill-opacity="0.42"/>
<circle cx="338.6" cy="48.8" r="3.3" fill="#f5b46e" fill-opacity="0.42"/>
<circle cx="339.2" cy="44.2" r="3.3" fill="#f5b46e" fill-opacity="0.42"/>
<circle cx="339.9" cy="46.8" r="3.3" fill="#f5b46e" fill-opacity="0.42"/>
<circle cx="340.5" cy="51.8" r="3.3" fill="#f5b46e" fill-opacity="0.42"/>
<circle cx="341.1" cy="47.9" r="3.3" fill="#f5b46e" fill-opacity="0.42"/>
<circle cx="341.8" cy="54.7" r="3.3" fill="#f5b46e" fill-opacity="0.42"/>
<circle cx="342.4" cy="49.2" r="3.3" fill="#f5b46e" fill-opacity="0.42"/>
<circle cx="343.1" cy="54.2" r="3.3" fill="#f5b46e" fill-opacity="0.42"/>
<circle cx="343.7" cy="51.8" r="3.3" fill="#f5b46e" fill-opacity="0.42"/>
<circle cx="344.4" cy="53.3" r="3.3" fill="#f5b46e" fill-opacity="0.42"/>
<circle cx="345.0" cy="57.1" r="3.3" fill="#f5b46e" fill-opacity="0.42"/>
<circle cx="345.7" cy="56.6" r="3.3" fill="#f5b46e" fill-opacity="0.42"/>
<circle cx="346.3" cy="62.1" r="3.3" fill="#f5b46e" fill-opacity="0.42"/>
<circle cx="347.0" cy="60.8" r="3.3" fill="#f5b46e" fill-opacity="0.42"/>
<circle cx="347.6" cy="59.1" r="3.3" fill="#f5b46e" fill-opacity="0.42"/>
<circle cx="348.3" cy="52.2" r="3.3" fill="#f5b46e" fill-opacity="0.42"/>
<circle cx="348.9" cy="64.2" r="3.3" fill="#f5b46e" fill-opacity="0.42"/>
<circle cx="349.6" cy="68.3" r="3.3" fill="#f5b46e" fill-opacity="0.42"/>
<circle cx="350.2" cy="74.0" r="3.3" fill="#f5b46e" fill-opacity="0.42"/>
<circle cx="350.9" cy="70.8" r="3.3" fill="#f5b46e" fill-opacity="0.42"/>
<circle cx="351.5" cy="81.7" r="3.3" fill="#f5b46e" fill-opacity="0.42"/>
<circle cx="352.2" cy="82.7" r="3.3" fill="#f5b46e" fill-opacity="0.42"/>
<circle cx="352.8" cy="83.0" r="3.3" fill="#f5b46e" fill-opacity="0.42"/>
<circle cx="353.5" cy="91.6" r="3.3" fill="#f5b46e" fill-opacity="0.42"/>
<circle cx="354.1" cy="88.0" r="3.3" fill="#f5b46e" fill-opacity="0.42"/>
<circle cx="354.8" cy="94.1" r="3.3" fill="#f5b46e" fill-opacity="0.42"/>
<circle cx="355.4" cy="103.9" r="3.3" fill="#f5b46e" fill-opacity="0.42"/>
<circle cx="356.1" cy="109.1" r="3.3" fill="#f5b46e" fill-opacity="0.42"/>
<circle cx="356.7" cy="116.7" r="3.3" fill="#f5b46e" fill-opacity="0.42"/>
<circle cx="357.3" cy="122.2" r="3.3" fill="#f5b46e" fill-opacity="0.42"/>
<circle cx="358.0" cy="121.8" r="3.3" fill="#f5b46e" fill-opacity="0.42"/>
<circle cx="358.6" cy="125.7" r="3.3" fill="#f5b46e" fill-opacity="0.42"/>
<circle cx="359.3" cy="130.1" r="3.3" fill="#f5b46e" fill-opacity="0.42"/>
<circle cx="359.9" cy="132.9" r="3.3" fill="#f5b46e" fill-opacity="0.42"/>
<circle cx="360.6" cy="136.6" r="3.3" fill="#f5b46e" fill-opacity="0.42"/>
<circle cx="361.2" cy="133.8" r="3.3" fill="#f5b46e" fill-opacity="0.42"/>
<circle cx="361.9" cy="137.8" r="3.3" fill="#f5b46e" fill-opacity="0.42"/>
<circle cx="362.5" cy="130.8" r="3.3" fill="#f5b46e" fill-opacity="0.42"/>
<circle cx="363.2" cy="122.8" r="3.3" fill="#f5b46e" fill-opacity="0.42"/>
<circle cx="363.8" cy="118.7" r="3.3" fill="#f5b46e" fill-opacity="0.42"/>
<circle cx="364.5" cy="119.0" r="3.3" fill="#f5b46e" fill-opacity="0.42"/>
<circle cx="365.1" cy="113.3" r="3.3" fill="#f5b46e" fill-opacity="0.42"/>
<circle cx="365.8" cy="103.0" r="3.3" fill="#f5b46e" fill-opacity="0.42"/>
<circle cx="366.4" cy="96.6" r="3.3" fill="#f5b46e" fill-opacity="0.42"/>
<circle cx="367.1" cy="101.2" r="3.3" fill="#f5b46e" fill-opacity="0.42"/>
<circle cx="367.7" cy="93.4" r="3.3" fill="#f5b46e" fill-opacity="0.42"/>
<circle cx="368.4" cy="87.1" r="3.3" fill="#f5b46e" fill-opacity="0.42"/>
<circle cx="369.0" cy="80.2" r="3.3" fill="#f5b46e" fill-opacity="0.42"/>
<circle cx="369.7" cy="82.5" r="3.3" fill="#f5b46e" fill-opacity="0.42"/>
<circle cx="370.3" cy="74.9" r="3.3" fill="#f5b46e" fill-opacity="0.42"/>
<circle cx="371.0" cy="74.6" r="3.3" fill="#f5b46e" fill-opacity="0.42"/>
<circle cx="371.6" cy="64.0" r="3.3" fill="#f5b46e" fill-opacity="0.42"/>
<circle cx="372.3" cy="67.2" r="3.3" fill="#f5b46e" fill-opacity="0.42"/>
<circle cx="372.9" cy="66.6" r="3.3" fill="#f5b46e" fill-opacity="0.42"/>
<circle cx="373.5" cy="65.1" r="3.3" fill="#f5b46e" fill-opacity="0.42"/>
<circle cx="374.2" cy="59.2" r="3.3" fill="#f5b46e" fill-opacity="0.42"/>
<circle cx="374.8" cy="58.7" r="3.3" fill="#f5b46e" fill-opacity="0.42"/>
<circle cx="375.5" cy="62.3" r="3.3" fill="#f5b46e" fill-opacity="0.42"/>
<circle cx="376.1" cy="57.1" r="3.3" fill="#f5b46e" fill-opacity="0.42"/>
<circle cx="376.8" cy="60.4" r="3.3" fill="#f5b46e" fill-opacity="0.42"/>
<circle cx="377.4" cy="57.5" r="3.3" fill="#f5b46e" fill-opacity="0.42"/>
<circle cx="378.1" cy="58.1" r="3.3" fill="#f5b46e" fill-opacity="0.42"/>
<circle cx="378.7" cy="57.2" r="3.3" fill="#f5b46e" fill-opacity="0.42"/>
<circle cx="379.4" cy="54.5" r="3.3" fill="#f5b46e" fill-opacity="0.42"/>
<circle cx="380.0" cy="54.5" r="3.3" fill="#f5b46e" fill-opacity="0.42"/>
<circle cx="380.7" cy="49.4" r="3.3" fill="#f5b46e" fill-opacity="0.42"/>
<circle cx="381.3" cy="47.9" r="3.3" fill="#f5b46e" fill-opacity="0.42"/>
<circle cx="382.0" cy="50.3" r="3.3" fill="#f5b46e" fill-opacity="0.42"/>
<circle cx="382.6" cy="52.3" r="3.3" fill="#f5b46e" fill-opacity="0.42"/>
<circle cx="383.3" cy="46.1" r="3.3" fill="#f5b46e" fill-opacity="0.42"/>
<circle cx="383.9" cy="53.9" r="3.3" fill="#f5b46e" fill-opacity="0.42"/>
<circle cx="384.6" cy="53.1" r="3.3" fill="#f5b46e" fill-opacity="0.42"/>
<circle cx="385.2" cy="45.0" r="3.3" fill="#f5b46e" fill-opacity="0.42"/>
<circle cx="385.9" cy="44.8" r="3.3" fill="#f5b46e" fill-opacity="0.42"/>
<circle cx="386.5" cy="43.5" r="3.3" fill="#f5b46e" fill-opacity="0.42"/>
<circle cx="387.2" cy="46.6" r="3.3" fill="#f5b46e" fill-opacity="0.42"/>
<circle cx="387.8" cy="49.3" r="3.3" fill="#f5b46e" fill-opacity="0.42"/>
<circle cx="388.5" cy="46.8" r="3.3" fill="#f5b46e" fill-opacity="0.42"/>
<circle cx="389.1" cy="43.4" r="3.3" fill="#f5b46e" fill-opacity="0.42"/>
<circle cx="389.7" cy="47.0" r="3.3" fill="#f5b46e" fill-opacity="0.42"/>
<circle cx="390.4" cy="46.6" r="3.3" fill="#f5b46e" fill-opacity="0.42"/>
<circle cx="391.0" cy="48.4" r="3.3" fill="#f5b46e" fill-opacity="0.42"/>
<circle cx="391.7" cy="47.5" r="3.3" fill="#f5b46e" fill-opacity="0.42"/>
<circle cx="392.3" cy="41.5" r="3.3" fill="#f5b46e" fill-opacity="0.42"/>
<circle cx="393.0" cy="42.4" r="3.3" fill="#f5b46e" fill-opacity="0.42"/>
<circle cx="393.6" cy="46.9" r="3.3" fill="#f5b46e" fill-opacity="0.42"/>
<circle cx="394.3" cy="46.5" r="3.3" fill="#f5b46e" fill-opacity="0.42"/>
<circle cx="394.9" cy="44.9" r="3.3" fill="#f5b46e" fill-opacity="0.42"/>
<circle cx="395.6" cy="41.5" r="3.3" fill="#f5b46e" fill-opacity="0.42"/>
<circle cx="396.2" cy="46.4" r="3.3" fill="#f5b46e" fill-opacity="0.42"/>
<circle cx="396.9" cy="43.3" r="3.3" fill="#f5b46e" fill-opacity="0.42"/>
<circle cx="397.5" cy="49.0" r="3.3" fill="#f5b46e" fill-opacity="0.42"/>
<circle cx="398.2" cy="46.2" r="3.3" fill="#f5b46e" fill-opacity="0.42"/>
<circle cx="398.8" cy="41.2" r="3.3" fill="#f5b46e" fill-opacity="0.42"/>
<circle cx="399.5" cy="39.8" r="3.3" fill="#f5b46e" fill-opacity="0.42"/>
<circle cx="400.1" cy="45.7" r="3.3" fill="#f5b46e" fill-opacity="0.42"/>
<circle cx="400.8" cy="44.4" r="3.3" fill="#f5b46e" fill-opacity="0.42"/>
<circle cx="401.4" cy="39.8" r="3.3" fill="#f5b46e" fill-opacity="0.42"/>
<circle cx="402.1" cy="43.2" r="3.3" fill="#f5b46e" fill-opacity="0.42"/>
<circle cx="402.7" cy="43.5" r="3.3" fill="#f5b46e" fill-opacity="0.42"/>
<circle cx="403.4" cy="40.4" r="3.3" fill="#f5b46e" fill-opacity="0.42"/>
<circle cx="404.0" cy="41.3" r="3.3" fill="#f5b46e" fill-opacity="0.42"/>
<circle cx="404.7" cy="38.5" r="3.3" fill="#f5b46e" fill-opacity="0.42"/>
<circle cx="405.3" cy="39.4" r="3.3" fill="#f5b46e" fill-opacity="0.42"/>
<circle cx="405.9" cy="43.4" r="3.3" fill="#f5b46e" fill-opacity="0.42"/>
<circle cx="406.6" cy="42.0" r="3.3" fill="#f5b46e" fill-opacity="0.42"/>
<circle cx="407.2" cy="41.8" r="3.3" fill="#f5b46e" fill-opacity="0.42"/>
<circle cx="407.9" cy="45.5" r="3.3" fill="#f5b46e" fill-opacity="0.42"/>
<circle cx="408.5" cy="44.4" r="3.3" fill="#f5b46e" fill-opacity="0.42"/>
<circle cx="409.2" cy="38.6" r="3.3" fill="#f5b46e" fill-opacity="0.42"/>
<circle cx="409.8" cy="46.1" r="3.3" fill="#f5b46e" fill-opacity="0.42"/>
<circle cx="410.5" cy="38.5" r="3.3" fill="#f5b46e" fill-opacity="0.42"/>
<circle cx="411.1" cy="40.6" r="3.3" fill="#f5b46e" fill-opacity="0.42"/>
<circle cx="411.8" cy="41.8" r="3.3" fill="#f5b46e" fill-opacity="0.42"/>
<circle cx="412.4" cy="39.8" r="3.3" fill="#f5b46e" fill-opacity="0.42"/>
<circle cx="413.1" cy="40.0" r="3.3" fill="#f5b46e" fill-opacity="0.42"/>
<circle cx="413.7" cy="37.8" r="3.3" fill="#f5b46e" fill-opacity="0.42"/>
<circle cx="414.4" cy="42.5" r="3.3" fill="#f5b46e" fill-opacity="0.42"/>
<circle cx="415.0" cy="42.0" r="3.3" fill="#f5b46e" fill-opacity="0.42"/>
<circle cx="415.7" cy="42.1" r="3.3" fill="#f5b46e" fill-opacity="0.42"/>
<circle cx="416.3" cy="35.9" r="3.3" fill="#f5b46e" fill-opacity="0.42"/>
<circle cx="417.0" cy="38.6" r="3.3" fill="#f5b46e" fill-opacity="0.42"/>
<circle cx="417.6" cy="44.1" r="3.3" fill="#f5b46e" fill-opacity="0.42"/>
<circle cx="418.3" cy="42.4" r="3.3" fill="#f5b46e" fill-opacity="0.42"/>
<circle cx="418.9" cy="43.5" r="3.3" fill="#f5b46e" fill-opacity="0.42"/>
<circle cx="419.6" cy="41.4" r="3.3" fill="#f5b46e" fill-opacity="0.42"/>
<circle cx="420.2" cy="40.9" r="3.3" fill="#f5b46e" fill-opacity="0.42"/>
<circle cx="420.9" cy="34.8" r="3.3" fill="#f5b46e" fill-opacity="0.42"/>
<circle cx="421.5" cy="46.9" r="3.3" fill="#f5b46e" fill-opacity="0.42"/>
<circle cx="422.1" cy="38.6" r="3.3" fill="#f5b46e" fill-opacity="0.42"/>
<circle cx="422.8" cy="40.3" r="3.3" fill="#f5b46e" fill-opacity="0.42"/>
<circle cx="423.4" cy="43.7" r="3.3" fill="#f5b46e" fill-opacity="0.42"/>
<circle cx="424.1" cy="42.1" r="3.3" fill="#f5b46e" fill-opacity="0.42"/>
<circle cx="424.7" cy="43.2" r="3.3" fill="#f5b46e" fill-opacity="0.42"/>
<circle cx="425.4" cy="41.7" r="3.3" fill="#f5b46e" fill-opacity="0.42"/>
<circle cx="426.0" cy="39.0" r="3.3" fill="#f5b46e" fill-opacity="0.42"/>
<circle cx="426.7" cy="46.4" r="3.3" fill="#f5b46e" fill-opacity="0.42"/>
<circle cx="427.3" cy="38.2" r="3.3" fill="#f5b46e" fill-opacity="0.42"/>
<circle cx="428.0" cy="43.2" r="3.3" fill="#f5b46e" fill-opacity="0.42"/>
<circle cx="428.6" cy="37.8" r="3.3" fill="#f5b46e" fill-opacity="0.42"/>
<circle cx="429.3" cy="41.1" r="3.3" fill="#f5b46e" fill-opacity="0.42"/>
<circle cx="429.9" cy="38.8" r="3.3" fill="#f5b46e" fill-opacity="0.42"/>
<circle cx="430.6" cy="40.8" r="3.3" fill="#f5b46e" fill-opacity="0.42"/>
<circle cx="431.2" cy="39.4" r="3.3" fill="#f5b46e" fill-opacity="0.42"/>
<circle cx="431.9" cy="42.5" r="3.3" fill="#f5b46e" fill-opacity="0.42"/>
<circle cx="432.5" cy="45.2" r="3.3" fill="#f5b46e" fill-opacity="0.42"/>
<circle cx="433.2" cy="41.0" r="3.3" fill="#f5b46e" fill-opacity="0.42"/>
<circle cx="433.8" cy="41.0" r="3.3" fill="#f5b46e" fill-opacity="0.42"/>
<circle cx="434.5" cy="37.1" r="3.3" fill="#f5b46e" fill-opacity="0.42"/>
<circle cx="435.1" cy="49.2" r="3.3" fill="#f5b46e" fill-opacity="0.42"/>
<circle cx="435.8" cy="44.1" r="3.3" fill="#f5b46e" fill-opacity="0.42"/>
<circle cx="436.4" cy="40.6" r="3.3" fill="#f5b46e" fill-opacity="0.42"/>
<circle cx="437.1" cy="47.6" r="3.3" fill="#f5b46e" fill-opacity="0.42"/>
<circle cx="437.7" cy="44.8" r="3.3" fill="#f5b46e" fill-opacity="0.42"/>
<circle cx="438.3" cy="38.2" r="3.3" fill="#f5b46e" fill-opacity="0.42"/>
<circle cx="439.0" cy="40.4" r="3.3" fill="#f5b46e" fill-opacity="0.42"/>
<circle cx="439.6" cy="47.4" r="3.3" fill="#f5b46e" fill-opacity="0.42"/>
<circle cx="440.3" cy="40.9" r="3.3" fill="#f5b46e" fill-opacity="0.42"/>
<circle cx="440.9" cy="41.9" r="3.3" fill="#f5b46e" fill-opacity="0.42"/>
<circle cx="441.6" cy="43.4" r="3.3" fill="#f5b46e" fill-opacity="0.42"/>
<circle cx="442.2" cy="44.9" r="3.3" fill="#f5b46e" fill-opacity="0.42"/>
<circle cx="442.9" cy="45.6" r="3.3" fill="#f5b46e" fill-opacity="0.42"/>
<circle cx="443.5" cy="49.2" r="3.3" fill="#f5b46e" fill-opacity="0.42"/>
<circle cx="444.2" cy="48.6" r="3.3" fill="#f5b46e" fill-opacity="0.42"/>
<circle cx="444.8" cy="45.4" r="3.3" fill="#f5b46e" fill-opacity="0.42"/>
<circle cx="445.5" cy="47.6" r="3.3" fill="#f5b46e" fill-opacity="0.42"/>
<circle cx="446.1" cy="43.1" r="3.3" fill="#f5b46e" fill-opacity="0.42"/>
<circle cx="446.8" cy="50.0" r="3.3" fill="#f5b46e" fill-opacity="0.42"/>
<circle cx="447.4" cy="56.6" r="3.3" fill="#f5b46e" fill-opacity="0.42"/>
<circle cx="448.1" cy="51.2" r="3.3" fill="#f5b46e" fill-opacity="0.42"/>
<circle cx="448.7" cy="50.1" r="3.3" fill="#f5b46e" fill-opacity="0.42"/>
<circle cx="449.4" cy="50.6" r="3.3" fill="#f5b46e" fill-opacity="0.42"/>
<circle cx="450.0" cy="52.3" r="3.3" fill="#f5b46e" fill-opacity="0.42"/>
<circle cx="450.7" cy="55.8" r="3.3" fill="#f5b46e" fill-opacity="0.42"/>
<circle cx="451.3" cy="50.0" r="3.3" fill="#f5b46e" fill-opacity="0.42"/>
<circle cx="452.0" cy="57.3" r="3.3" fill="#f5b46e" fill-opacity="0.42"/>
<circle cx="452.6" cy="54.5" r="3.3" fill="#f5b46e" fill-opacity="0.42"/>
<circle cx="453.3" cy="58.7" r="3.3" fill="#f5b46e" fill-opacity="0.42"/>
<circle cx="453.9" cy="62.7" r="3.3" fill="#f5b46e" fill-opacity="0.42"/>
<circle cx="454.5" cy="56.7" r="3.3" fill="#f5b46e" fill-opacity="0.42"/>
<circle cx="455.2" cy="69.8" r="3.3" fill="#f5b46e" fill-opacity="0.42"/>
<circle cx="455.8" cy="66.8" r="3.3" fill="#f5b46e" fill-opacity="0.42"/>
<circle cx="456.5" cy="65.1" r="3.3" fill="#f5b46e" fill-opacity="0.42"/>
<circle cx="457.1" cy="69.7" r="3.3" fill="#f5b46e" fill-opacity="0.42"/>
<circle cx="457.8" cy="69.0" r="3.3" fill="#f5b46e" fill-opacity="0.42"/>
<circle cx="458.4" cy="74.3" r="3.3" fill="#f5b46e" fill-opacity="0.42"/>
<circle cx="459.1" cy="78.3" r="3.3" fill="#f5b46e" fill-opacity="0.42"/>
<circle cx="459.7" cy="74.1" r="3.3" fill="#f5b46e" fill-opacity="0.42"/>
<circle cx="460.4" cy="84.8" r="3.3" fill="#f5b46e" fill-opacity="0.42"/>
<circle cx="461.0" cy="88.6" r="3.3" fill="#f5b46e" fill-opacity="0.42"/>
<circle cx="461.7" cy="95.7" r="3.3" fill="#f5b46e" fill-opacity="0.42"/>
<circle cx="462.3" cy="99.5" r="3.3" fill="#f5b46e" fill-opacity="0.42"/>
<circle cx="463.0" cy="100.4" r="3.3" fill="#f5b46e" fill-opacity="0.42"/>
<circle cx="463.6" cy="105.9" r="3.3" fill="#f5b46e" fill-opacity="0.42"/>
<circle cx="464.3" cy="112.9" r="3.3" fill="#f5b46e" fill-opacity="0.42"/>
<circle cx="464.9" cy="120.1" r="3.3" fill="#f5b46e" fill-opacity="0.42"/>
<circle cx="465.6" cy="121.1" r="3.3" fill="#f5b46e" fill-opacity="0.42"/>
<circle cx="466.2" cy="132.4" r="3.3" fill="#f5b46e" fill-opacity="0.42"/>
<circle cx="466.9" cy="132.1" r="3.3" fill="#f5b46e" fill-opacity="0.42"/>
<circle cx="467.5" cy="134.3" r="3.3" fill="#f5b46e" fill-opacity="0.42"/>
<circle cx="468.2" cy="137.4" r="3.3" fill="#f5b46e" fill-opacity="0.42"/>
<circle cx="468.8" cy="134.4" r="3.3" fill="#f5b46e" fill-opacity="0.42"/>
<circle cx="469.5" cy="135.3" r="3.3" fill="#f5b46e" fill-opacity="0.42"/>
<circle cx="470.1" cy="133.0" r="3.3" fill="#f5b46e" fill-opacity="0.42"/>
<circle cx="470.7" cy="121.7" r="3.3" fill="#f5b46e" fill-opacity="0.42"/>
<circle cx="471.4" cy="120.3" r="3.3" fill="#f5b46e" fill-opacity="0.42"/>
<circle cx="472.0" cy="114.0" r="3.3" fill="#f5b46e" fill-opacity="0.42"/>
<circle cx="472.7" cy="112.0" r="3.3" fill="#f5b46e" fill-opacity="0.42"/>
<circle cx="473.3" cy="104.0" r="3.3" fill="#f5b46e" fill-opacity="0.42"/>
<circle cx="474.0" cy="99.4" r="3.3" fill="#f5b46e" fill-opacity="0.42"/>
<circle cx="474.6" cy="93.1" r="3.3" fill="#f5b46e" fill-opacity="0.42"/>
<circle cx="475.3" cy="85.0" r="3.3" fill="#f5b46e" fill-opacity="0.42"/>
<circle cx="475.9" cy="88.2" r="3.3" fill="#f5b46e" fill-opacity="0.42"/>
<circle cx="476.6" cy="82.8" r="3.3" fill="#f5b46e" fill-opacity="0.42"/>
<circle cx="477.2" cy="80.0" r="3.3" fill="#f5b46e" fill-opacity="0.42"/>
<circle cx="477.9" cy="86.7" r="3.3" fill="#f5b46e" fill-opacity="0.42"/>
<circle cx="478.5" cy="77.5" r="3.3" fill="#f5b46e" fill-opacity="0.42"/>
<circle cx="479.2" cy="70.6" r="3.3" fill="#f5b46e" fill-opacity="0.42"/>
<circle cx="479.8" cy="66.3" r="3.3" fill="#f5b46e" fill-opacity="0.42"/>
<circle cx="480.5" cy="67.5" r="3.3" fill="#f5b46e" fill-opacity="0.42"/>
<circle cx="481.1" cy="60.5" r="3.3" fill="#f5b46e" fill-opacity="0.42"/>
<circle cx="481.8" cy="58.2" r="3.3" fill="#f5b46e" fill-opacity="0.42"/>
<circle cx="482.4" cy="61.5" r="3.3" fill="#f5b46e" fill-opacity="0.42"/>
<circle cx="483.1" cy="54.6" r="3.3" fill="#f5b46e" fill-opacity="0.42"/>
<circle cx="483.7" cy="52.2" r="3.3" fill="#f5b46e" fill-opacity="0.42"/>
<circle cx="484.4" cy="54.7" r="3.3" fill="#f5b46e" fill-opacity="0.42"/>
<circle cx="485.0" cy="57.7" r="3.3" fill="#f5b46e" fill-opacity="0.42"/>
<circle cx="485.7" cy="49.6" r="3.3" fill="#f5b46e" fill-opacity="0.42"/>
<circle cx="486.3" cy="53.3" r="3.3" fill="#f5b46e" fill-opacity="0.42"/>
<circle cx="486.9" cy="53.1" r="3.3" fill="#f5b46e" fill-opacity="0.42"/>
<circle cx="487.6" cy="50.8" r="3.3" fill="#f5b46e" fill-opacity="0.42"/>
<circle cx="488.2" cy="52.0" r="3.3" fill="#f5b46e" fill-opacity="0.42"/>
<circle cx="488.9" cy="46.6" r="3.3" fill="#f5b46e" fill-opacity="0.42"/>
<circle cx="489.5" cy="46.8" r="3.3" fill="#f5b46e" fill-opacity="0.42"/>
<circle cx="490.2" cy="44.9" r="3.3" fill="#f5b46e" fill-opacity="0.42"/>
<circle cx="490.8" cy="46.2" r="3.3" fill="#f5b46e" fill-opacity="0.42"/>
<circle cx="491.5" cy="49.7" r="3.3" fill="#f5b46e" fill-opacity="0.42"/>
<circle cx="492.1" cy="47.4" r="3.3" fill="#f5b46e" fill-opacity="0.42"/>
<circle cx="492.8" cy="43.9" r="3.3" fill="#f5b46e" fill-opacity="0.42"/>
<circle cx="493.4" cy="47.2" r="3.3" fill="#f5b46e" fill-opacity="0.42"/>
<circle cx="494.1" cy="37.2" r="3.3" fill="#f5b46e" fill-opacity="0.42"/>
<circle cx="494.7" cy="46.0" r="3.3" fill="#f5b46e" fill-opacity="0.42"/>
<circle cx="495.4" cy="46.7" r="3.3" fill="#f5b46e" fill-opacity="0.42"/>
<circle cx="496.0" cy="41.3" r="3.3" fill="#f5b46e" fill-opacity="0.42"/>
<circle cx="496.7" cy="42.2" r="3.3" fill="#f5b46e" fill-opacity="0.42"/>
<circle cx="497.3" cy="44.2" r="3.3" fill="#f5b46e" fill-opacity="0.42"/>
<circle cx="498.0" cy="44.5" r="3.3" fill="#f5b46e" fill-opacity="0.42"/>
<circle cx="498.6" cy="42.3" r="3.3" fill="#f5b46e" fill-opacity="0.42"/>
<circle cx="499.3" cy="40.9" r="3.3" fill="#f5b46e" fill-opacity="0.42"/>
<circle cx="499.9" cy="40.9" r="3.3" fill="#f5b46e" fill-opacity="0.42"/>
<circle cx="500.6" cy="43.8" r="3.3" fill="#f5b46e" fill-opacity="0.42"/>
<circle cx="501.2" cy="41.4" r="3.3" fill="#f5b46e" fill-opacity="0.42"/>
<circle cx="501.9" cy="40.1" r="3.3" fill="#f5b46e" fill-opacity="0.42"/>
<circle cx="502.5" cy="40.1" r="3.3" fill="#f5b46e" fill-opacity="0.42"/>
<circle cx="503.1" cy="51.1" r="3.3" fill="#f5b46e" fill-opacity="0.42"/>
<circle cx="503.8" cy="44.6" r="3.3" fill="#f5b46e" fill-opacity="0.42"/>
<circle cx="504.4" cy="44.1" r="3.3" fill="#f5b46e" fill-opacity="0.42"/>
<circle cx="326.2" cy="41.2" r="3" fill="#a6c6e4" fill-opacity="0.85"/>
<circle cx="331.3" cy="42.9" r="3" fill="#a6c6e4" fill-opacity="0.85"/>
<circle cx="336.7" cy="40.4" r="3" fill="#a6c6e4" fill-opacity="0.85"/>
<circle cx="342.6" cy="43.6" r="3" fill="#a6c6e4" fill-opacity="0.85"/>
<circle cx="346.3" cy="41.1" r="3" fill="#a6c6e4" fill-opacity="0.85"/>
<circle cx="353.5" cy="47.0" r="3" fill="#a6c6e4" fill-opacity="0.85"/>
<circle cx="358.5" cy="46.5" r="3" fill="#a6c6e4" fill-opacity="0.85"/>
<circle cx="364.1" cy="44.5" r="3" fill="#a6c6e4" fill-opacity="0.85"/>
<circle cx="368.7" cy="47.9" r="3" fill="#a6c6e4" fill-opacity="0.85"/>
<circle cx="373.1" cy="50.8" r="3" fill="#a6c6e4" fill-opacity="0.85"/>
<circle cx="381.0" cy="54.5" r="3" fill="#a6c6e4" fill-opacity="0.85"/>
<circle cx="386.1" cy="63.0" r="3" fill="#a6c6e4" fill-opacity="0.85"/>
<circle cx="391.9" cy="72.7" r="3" fill="#a6c6e4" fill-opacity="0.85"/>
<circle cx="395.8" cy="89.1" r="3" fill="#a6c6e4" fill-opacity="0.85"/>
<circle cx="402.4" cy="121.2" r="3" fill="#a6c6e4" fill-opacity="0.85"/>
<circle cx="407.8" cy="154.8" r="3" fill="#a6c6e4" fill-opacity="0.85"/>
<circle cx="412.3" cy="156.7" r="3" fill="#a6c6e4" fill-opacity="0.85"/>
<circle cx="418.7" cy="118.8" r="3" fill="#a6c6e4" fill-opacity="0.85"/>
<circle cx="423.8" cy="92.8" r="3" fill="#a6c6e4" fill-opacity="0.85"/>
<circle cx="427.2" cy="76.0" r="3" fill="#a6c6e4" fill-opacity="0.85"/>
<circle cx="432.7" cy="66.1" r="3" fill="#a6c6e4" fill-opacity="0.85"/>
<circle cx="438.9" cy="59.8" r="3" fill="#a6c6e4" fill-opacity="0.85"/>
<circle cx="444.6" cy="55.5" r="3" fill="#a6c6e4" fill-opacity="0.85"/>
<circle cx="450.4" cy="45.9" r="3" fill="#a6c6e4" fill-opacity="0.85"/>
<circle cx="455.5" cy="46.7" r="3" fill="#a6c6e4" fill-opacity="0.85"/>
<circle cx="461.8" cy="46.0" r="3" fill="#a6c6e4" fill-opacity="0.85"/>
<circle cx="467.0" cy="45.2" r="3" fill="#a6c6e4" fill-opacity="0.85"/>
<circle cx="470.4" cy="45.2" r="3" fill="#a6c6e4" fill-opacity="0.85"/>
<circle cx="476.5" cy="40.4" r="3" fill="#a6c6e4" fill-opacity="0.85"/>
<circle cx="483.5" cy="42.2" r="3" fill="#a6c6e4" fill-opacity="0.85"/>
<circle cx="488.5" cy="38.7" r="3" fill="#a6c6e4" fill-opacity="0.85"/>
<circle cx="491.7" cy="41.8" r="3" fill="#a6c6e4" fill-opacity="0.85"/>
<circle cx="498.9" cy="45.0" r="3" fill="#a6c6e4" fill-opacity="0.85"/>
<circle cx="502.9" cy="39.5" r="3" fill="#a6c6e4" fill-opacity="0.85"/>
<polyline fill="none" stroke="#efab52" stroke-width="2" points="324.3,41.7 324.8,41.8 325.2,41.9 325.7,42.0 326.1,42.2 326.6,42.3 327.0,42.4 327.5,42.5 327.9,42.6 328.4,42.8 328.8,42.9 329.3,43.1 329.7,43.2 330.2,43.4 330.6,43.5 331.1,43.7 331.5,43.9 332.0,44.1 332.4,44.3 332.9,44.5 333.3,44.7 333.8,44.9 334.2,45.1 334.7,45.3 335.1,45.6 335.6,45.9 336.0,46.1 336.5,46.4 336.9,46.7 337.4,47.1 337.8,47.4 338.3,47.7 338.7,48.1 339.2,48.5 339.6,48.9 340.1,49.3 340.5,49.8 341.0,50.3 341.4,50.8 341.9,51.3 342.3,51.9 342.8,52.5 343.2,53.2 343.7,53.9 344.1,54.6 344.6,55.4 345.1,56.2 345.5,57.1 346.0,58.0 346.4,59.0 346.9,60.1 347.3,61.3 347.8,62.5 348.2,63.8 348.7,65.2 349.1,66.7 349.6,68.3 350.0,70.1 350.5,71.9 350.9,73.9 351.4,76.1 351.8,78.3 352.3,80.8 352.7,83.4 353.2,86.1 353.6,89.1 354.1,92.2 354.5,95.4 355.0,98.8 355.4,102.3 355.9,106.0 356.3,109.7 356.8,113.4 357.2,117.1 357.7,120.6 358.1,123.9 358.6,127.0 359.0,129.7 359.5,131.9 359.9,133.5 360.4,134.6 360.8,135.0 361.3,134.7 361.7,133.8 362.2,132.2 362.6,130.1 363.1,127.5 363.5,124.5 364.0,121.2 364.5,117.7 364.9,114.0 365.4,110.3 365.8,106.6 366.3,103.0 366.7,99.5 367.2,96.0 367.6,92.8 368.1,89.7 368.5,86.7 369.0,83.9 369.4,81.3 369.9,78.9 370.3,76.6 370.8,74.4 371.2,72.4 371.7,70.6 372.1,68.8 372.6,67.2 373.0,65.7 373.5,64.3 373.9,62.9 374.4,61.7 374.8,60.5 375.3,59.5 375.7,58.5 376.2,57.5 376.6,56.6 377.1,55.8 377.5,55.0 378.0,54.3 378.4,53.6 378.9,53.0 379.3,52.4 379.8,51.8 380.2,51.3 380.7,50.8 381.1,50.3 381.6,49.8 382.0,49.4 382.5,49.0 382.9,48.6 383.4,48.2 383.8,47.9 384.3,47.6 384.8,47.3 385.2,47.0 385.7,46.7 386.1,46.4 386.6,46.2 387.0,45.9 387.5,45.7 387.9,45.5 388.4,45.3 388.8,45.1 389.3,44.9 389.7,44.7 390.2,44.5 390.6,44.4 391.1,44.2 391.5,44.0 392.0,43.9 392.4,43.8 392.9,43.6 393.3,43.5 393.8,43.4 394.2,43.3 394.7,43.2 395.1,43.1 395.6,43.0 396.0,42.9 396.5,42.8 396.9,42.7 397.4,42.6 397.8,42.5 398.3,42.4 398.7,42.4 399.2,42.3 399.6,42.2 400.1,42.2 400.5,42.1 401.0,42.0 401.4,42.0 401.9,41.9 402.3,41.9 402.8,41.8 403.2,41.8 403.7,41.7 404.1,41.7 404.6,41.6 405.1,41.6 405.5,41.6 406.0,41.5 406.4,41.5 406.9,41.5 407.3,41.5 407.8,41.4 408.2,41.4 408.7,41.4 409.1,41.4 409.6,41.3 410.0,41.3 410.5,41.3 410.9,41.3 411.4,41.3 411.8,41.3 412.3,41.3 412.7,41.3 413.2,41.2 413.6,41.2 414.1,41.2 414.5,41.2 415.0,41.2 415.4,41.2 415.9,41.2 416.3,41.2 416.8,41.3 417.2,41.3 417.7,41.3 418.1,41.3 418.6,41.3 419.0,41.3 419.5,41.3 419.9,41.3 420.4,41.4 420.8,41.4 421.3,41.4 421.7,41.4 422.2,41.5 422.6,41.5 423.1,41.5 423.5,41.6 424.0,41.6 424.5,41.6 424.9,41.7 425.4,41.7 425.8,41.7 426.3,41.8 426.7,41.8 427.2,41.9 427.6,41.9 428.1,42.0 428.5,42.1 429.0,42.1 429.4,42.2 429.9,42.2 430.3,42.3 430.8,42.4 431.2,42.5 431.7,42.5 432.1,42.6 432.6,42.7 433.0,42.8 433.5,42.9 433.9,43.0 434.4,43.1 434.8,43.2 435.3,43.3 435.7,43.4 436.2,43.6 436.6,43.7 437.1,43.8 437.5,44.0 438.0,44.1 438.4,44.3 438.9,44.4 439.3,44.6 439.8,44.8 440.2,45.0 440.7,45.1 441.1,45.3 441.6,45.6 442.0,45.8 442.5,46.0 442.9,46.3 443.4,46.5 443.8,46.8 444.3,47.1 444.8,47.4 445.2,47.7 445.7,48.0 446.1,48.4 446.6,48.8 447.0,49.1 447.5,49.6 447.9,50.0 448.4,50.5 448.8,51.0 449.3,51.5 449.7,52.0 450.2,52.6 450.6,53.2 451.1,53.9 451.5,54.6 452.0,55.3 452.4,56.1 452.9,57.0 453.3,57.9 453.8,58.9 454.2,59.9 454.7,61.0 455.1,62.2 455.6,63.5 456.0,64.8 456.5,66.3 456.9,67.8 457.4,69.5 457.8,71.3 458.3,73.2 458.7,75.3 459.2,77.5 459.6,79.8 460.1,82.3 460.5,85.0 461.0,87.9 461.4,90.9 461.9,94.1 462.3,97.4 462.8,100.9 463.2,104.5 463.7,108.1 464.1,111.8 464.6,115.5 465.1,119.1 465.5,122.5 466.0,125.7 466.4,128.6 466.9,131.0 467.3,132.9 467.8,134.2 468.2,134.9 468.7,134.9 469.1,134.2 469.6,132.9 470.0,131.0 470.5,128.6 470.9,125.8 471.4,122.6 471.8,119.2 472.3,115.6 472.7,111.9 473.2,108.2 473.6,104.5 474.1,100.9 474.5,97.4 475.0,94.1 475.4,90.9 475.9,87.9 476.3,85.0 476.8,82.3 477.2,79.8 477.7,77.4 478.1,75.2 478.6,73.1 479.0,71.2 479.5,69.4 479.9,67.7 480.4,66.1 480.8,64.6 481.3,63.3 481.7,62.0 482.2,60.8 482.6,59.7 483.1,58.6 483.5,57.6 484.0,56.7 484.5,55.9 484.9,55.1 485.4,54.3 485.8,53.6 486.3,52.9 486.7,52.3 487.2,51.7 487.6,51.1 488.1,50.6 488.5,50.1 489.0,49.6 489.4,49.2 489.9,48.7 490.3,48.3 490.8,48.0 491.2,47.6 491.7,47.2 492.1,46.9 492.6,46.6 493.0,46.3 493.5,46.0 493.9,45.8 494.4,45.5 494.8,45.3 495.3,45.0 495.7,44.8 496.2,44.6 496.6,44.4 497.1,44.2 497.5,44.0 498.0,43.8 498.4,43.6 498.9,43.5 499.3,43.3 499.8,43.1 500.2,43.0 500.7,42.9 501.1,42.7 501.6,42.6 502.0,42.5 502.5,42.3 502.9,42.2 503.4,42.1 503.8,42.0 504.3,41.9"/>
<polyline fill="none" stroke="#4277a8" stroke-width="1.9" points="324.3,41.2 324.8,41.2 325.2,41.2 325.7,41.2 326.1,41.3 326.6,41.3 327.0,41.3 327.5,41.3 327.9,41.4 328.4,41.4 328.8,41.4 329.3,41.4 329.7,41.5 330.2,41.5 330.6,41.5 331.1,41.6 331.5,41.6 332.0,41.6 332.4,41.6 332.9,41.7 333.3,41.7 333.8,41.7 334.2,41.8 334.7,41.8 335.1,41.8 335.6,41.9 336.0,41.9 336.5,41.9 336.9,42.0 337.4,42.0 337.8,42.0 338.3,42.1 338.7,42.1 339.2,42.1 339.6,42.2 340.1,42.2 340.5,42.3 341.0,42.3 341.4,42.3 341.9,42.4 342.3,42.4 342.8,42.5 343.2,42.5 343.7,42.6 344.1,42.6 344.6,42.7 345.1,42.7 345.5,42.8 346.0,42.8 346.4,42.9 346.9,42.9 347.3,43.0 347.8,43.0 348.2,43.1 348.7,43.1 349.1,43.2 349.6,43.3 350.0,43.3 350.5,43.4 350.9,43.4 351.4,43.5 351.8,43.6 352.3,43.6 352.7,43.7 353.2,43.8 353.6,43.9 354.1,43.9 354.5,44.0 355.0,44.1 355.4,44.2 355.9,44.2 356.3,44.3 356.8,44.4 357.2,44.5 357.7,44.6 358.1,44.7 358.6,44.8 359.0,44.9 359.5,45.0 359.9,45.1 360.4,45.2 360.8,45.3 361.3,45.4 361.7,45.5 362.2,45.6 362.6,45.7 363.1,45.9 363.5,46.0 364.0,46.1 364.5,46.2 364.9,46.4 365.4,46.5 365.8,46.6 366.3,46.8 366.7,46.9 367.2,47.1 367.6,47.3 368.1,47.4 368.5,47.6 369.0,47.8 369.4,47.9 369.9,48.1 370.3,48.3 370.8,48.5 371.2,48.7 371.7,48.9 372.1,49.1 372.6,49.4 373.0,49.6 373.5,49.8 373.9,50.1 374.4,50.3 374.8,50.6 375.3,50.8 375.7,51.1 376.2,51.4 376.6,51.7 377.1,52.0 377.5,52.3 378.0,52.7 378.4,53.0 378.9,53.3 379.3,53.7 379.8,54.1 380.2,54.5 380.7,54.9 381.1,55.3 381.6,55.8 382.0,56.2 382.5,56.7 382.9,57.2 383.4,57.7 383.8,58.2 384.3,58.8 384.8,59.4 385.2,60.0 385.7,60.6 386.1,61.3 386.6,62.0 387.0,62.7 387.5,63.4 387.9,64.2 388.4,65.0 388.8,65.8 389.3,66.7 389.7,67.7 390.2,68.6 390.6,69.6 391.1,70.7 391.5,71.8 392.0,73.0 392.4,74.2 392.9,75.4 393.3,76.8 393.8,78.2 394.2,79.6 394.7,81.2 395.1,82.8 395.6,84.4 396.0,86.2 396.5,88.0 396.9,89.9 397.4,91.9 397.8,94.0 398.3,96.2 398.7,98.4 399.2,100.8 399.6,103.2 400.1,105.8 400.5,108.4 401.0,111.1 401.4,113.9 401.9,116.8 402.3,119.7 402.8,122.7 403.2,125.7 403.7,128.8 404.1,131.9 404.6,134.9 405.1,137.9 405.5,140.9 406.0,143.7 406.4,146.4 406.9,149.0 407.3,151.4 407.8,153.5 408.2,155.4 408.7,157.1 409.1,158.4 409.6,159.3 410.0,159.9 410.5,160.2 410.9,160.1 411.4,159.6 411.8,158.8 412.3,157.6 412.7,156.1 413.2,154.3 413.6,152.3 414.1,150.0 414.5,147.5 415.0,144.8 415.4,142.0 415.9,139.1 416.3,136.1 416.8,133.1 417.2,130.0 417.7,127.0 418.1,123.9 418.6,120.9 419.0,118.0 419.5,115.1 419.9,112.2 420.4,109.5 420.8,106.8 421.3,104.3 421.7,101.8 422.2,99.4 422.6,97.1 423.1,94.9 423.5,92.7 424.0,90.7 424.5,88.8 424.9,86.9 425.4,85.1 425.8,83.4 426.3,81.8 426.7,80.2 427.2,78.7 427.6,77.3 428.1,76.0 428.5,74.7 429.0,73.4 429.4,72.3 429.9,71.1 430.3,70.1 430.8,69.0 431.2,68.0 431.7,67.1 432.1,66.2 432.6,65.3 433.0,64.5 433.5,63.7 433.9,63.0 434.4,62.2 434.8,61.5 435.3,60.9 435.7,60.2 436.2,59.6 436.6,59.0 437.1,58.5 437.5,57.9 438.0,57.4 438.4,56.9 438.9,56.4 439.3,55.9 439.8,55.5 440.2,55.1 440.7,54.6 441.1,54.2 441.6,53.9 442.0,53.5 442.5,53.1 442.9,52.8 443.4,52.5 443.8,52.1 444.3,51.8 444.8,51.5 445.2,51.2 445.7,50.9 446.1,50.7 446.6,50.4 447.0,50.2 447.5,49.9 447.9,49.7 448.4,49.4 448.8,49.2 449.3,49.0 449.7,48.8 450.2,48.6 450.6,48.4 451.1,48.2 451.5,48.0 452.0,47.8 452.4,47.7 452.9,47.5 453.3,47.3 453.8,47.2 454.2,47.0 454.7,46.9 455.1,46.7 455.6,46.6 456.0,46.4 456.5,46.3 456.9,46.2 457.4,46.0 457.8,45.9 458.3,45.8 458.7,45.7 459.2,45.5 459.6,45.4 460.1,45.3 460.5,45.2 461.0,45.1 461.4,45.0 461.9,44.9 462.3,44.8 462.8,44.7 463.2,44.6 463.7,44.5 464.1,44.4 464.6,44.4 465.1,44.3 465.5,44.2 466.0,44.1 466.4,44.0 466.9,44.0 467.3,43.9 467.8,43.8 468.2,43.7 468.7,43.7 469.1,43.6 469.6,43.5 470.0,43.5 470.5,43.4 470.9,43.3 471.4,43.3 471.8,43.2 472.3,43.2 472.7,43.1 473.2,43.0 473.6,43.0 474.1,42.9 474.5,42.9 475.0,42.8 475.4,42.8 475.9,42.7 476.3,42.7 476.8,42.6 477.2,42.6 477.7,42.5 478.1,42.5 478.6,42.4 479.0,42.4 479.5,42.4 479.9,42.3 480.4,42.3 480.8,42.2 481.3,42.2 481.7,42.2 482.2,42.1 482.6,42.1 483.1,42.0 483.5,42.0 484.0,42.0 484.5,41.9 484.9,41.9 485.4,41.9 485.8,41.8 486.3,41.8 486.7,41.8 487.2,41.7 487.6,41.7 488.1,41.7 488.5,41.7 489.0,41.6 489.4,41.6 489.9,41.6 490.3,41.5 490.8,41.5 491.2,41.5 491.7,41.5 492.1,41.4 492.6,41.4 493.0,41.4 493.5,41.4 493.9,41.3 494.4,41.3 494.8,41.3 495.3,41.3 495.7,41.2 496.2,41.2 496.6,41.2 497.1,41.2 497.5,41.1 498.0,41.1 498.4,41.1 498.9,41.1 499.3,41.1 499.8,41.0 500.2,41.0 500.7,41.0 501.1,41.0 501.6,41.0 502.0,40.9 502.5,40.9 502.9,40.9 503.4,40.9 503.8,40.9 504.3,40.9"/>
</g>
<rect x="324.3" y="27.6" width="180.3" height="139.4" fill="none" stroke="#1a1a1a" stroke-width="1.6"/>
<line x1="319.7" y1="38.2" x2="324.3" y2="38.2" stroke="#1a1a1a" stroke-width="1.5"/>
<text x="313.8" y="43.2" font-size="14.8" text-anchor="end" class="k">1.00</text>
<line x1="319.7" y1="79.7" x2="324.3" y2="79.7" stroke="#1a1a1a" stroke-width="1.5"/>
<text x="313.8" y="84.7" font-size="14.8" text-anchor="end" class="k">0.95</text>
<line x1="319.7" y1="121.2" x2="324.3" y2="121.2" stroke="#1a1a1a" stroke-width="1.5"/>
<text x="313.8" y="126.2" font-size="14.8" text-anchor="end" class="k">0.90</text>
<line x1="319.7" y1="162.7" x2="324.3" y2="162.7" stroke="#1a1a1a" stroke-width="1.5"/>
<text x="313.8" y="167.7" font-size="14.8" text-anchor="end" class="k">0.85</text>
<line x1="360.3" y1="167" x2="360.3" y2="171.6" stroke="#1a1a1a" stroke-width="1.5"/>
<text x="360.3" y="188.3" font-size="14.8" text-anchor="middle" class="k">2.80</text>
<line x1="432.3" y1="167" x2="432.3" y2="171.6" stroke="#1a1a1a" stroke-width="1.5"/>
<text x="432.3" y="188.3" font-size="14.8" text-anchor="middle" class="k">2.90</text>
<line x1="504.3" y1="167" x2="504.3" y2="171.6" stroke="#1a1a1a" stroke-width="1.5"/>
<text x="504.3" y="188.3" font-size="14.8" text-anchor="middle" class="k">3.00</text>
<text x="415.3" y="208.3" font-size="14.8" text-anchor="middle" class="k">Frequency (GHz)</text>
<text transform="translate(272.0,99.8) rotate(-90)" font-size="14.8" text-anchor="middle" class="k">Norm. Intensity</text>
<text x="300.5" y="13.6" font-size="18.5" text-anchor="middle" class="k">(b)</text>
<g>
<g fill="#f0aa64" fill-opacity="0.45" stroke="#f0aa64" stroke-opacity="0.45" stroke-width="0.9">
<circle cx="66.8" cy="297.4" r="2.3"/>
<circle cx="70.6" cy="297.7" r="2.3"/>
<circle cx="72.6" cy="306.4" r="2.3"/>
<circle cx="78.4" cy="310.3" r="2.3"/>
<circle cx="81.3" cy="317.1" r="2.3"/>
<circle cx="84.8" cy="321.9" r="2.3"/>
<circle cx="87.1" cy="339.9" r="2.3"/>
<circle cx="89" cy="351.9" r="2.3"/>
<circle cx="91.3" cy="356.7" r="2.3"/>
<circle cx="98.7" cy="360.6" r="2.3"/>
<circle cx="105.5" cy="364.5" r="2.3"/>
<circle cx="110.3" cy="369.3" r="2.3"/>
<circle cx="112.6" cy="357.7" r="2.3"/>
<circle cx="115.9" cy="350.5" r="2.3"/>
<circle cx="120.1" cy="341.1" r="2.3"/>
<circle cx="124.4" cy="335.1" r="2.3"/>
<circle cx="126.9" cy="328.3" r="2.3"/>
<circle cx="130.4" cy="322.3" r="2.3"/>
<circle cx="133.8" cy="306.9" r="2.3"/>
<circle cx="138" cy="313.8" r="2.3"/>
<circle cx="141.5" cy="306.9" r="2.3"/>
<circle cx="144.4" cy="304.9" r="2.3"/>
<circle cx="148.3" cy="311.2" r="2.3"/>
<circle cx="151.7" cy="315.5" r="2.3"/>
<circle cx="154.2" cy="326.6" r="2.3"/>
<circle cx="158.5" cy="328.3" r="2.3"/>
<circle cx="161.1" cy="336.8" r="2.3"/>
<circle cx="164.5" cy="347" r="2.3"/>
<circle cx="166.2" cy="351.3" r="2.3"/>
<circle cx="174.7" cy="355.6" r="2.3"/>
<circle cx="177.8" cy="362.4" r="2.3"/>
<circle cx="179.6" cy="361.3" r="2.3"/>
<circle cx="185.1" cy="357.3" r="2.3"/>
<circle cx="187.5" cy="352.5" r="2.3"/>
<circle cx="192.3" cy="347.8" r="2.3"/>
<circle cx="196.3" cy="344.6" r="2.3"/>
<circle cx="198.7" cy="341.4" r="2.3"/>
<circle cx="199.5" cy="334.2" r="2.3"/>
<circle cx="201.8" cy="328.7" r="2.3"/>
<circle cx="204.2" cy="325.5" r="2.3"/>
<circle cx="207.4" cy="321.5" r="2.3"/>
<circle cx="211.4" cy="323.9" r="2.3"/>
<circle cx="215.4" cy="319.9" r="2.3"/>
<circle cx="220.2" cy="326.3" r="2.3"/>
<circle cx="224.1" cy="328.7" r="2.3"/>
<circle cx="228.1" cy="332.6" r="2.3"/>
<circle cx="231.3" cy="336.6" r="2.3"/>
</g>
<polyline fill="none" stroke="#efab52" stroke-width="2" points="65.9,298.7 66.5,298.5 67.0,298.4 67.6,298.3 68.1,298.4 68.7,298.5 69.2,298.7 69.8,299.0 70.3,299.4 70.9,299.9 71.4,300.4 72.0,301.1 72.6,301.8 73.1,302.5 73.7,303.4 74.2,304.3 74.8,305.3 75.3,306.3 75.9,307.4 76.4,308.6 77.0,309.8 77.5,311.1 78.1,312.5 78.6,313.8 79.2,315.2 79.7,316.7 80.3,318.2 80.8,319.7 81.4,321.3 82.0,322.9 82.5,324.5 83.1,326.1 83.6,327.8 84.2,329.4 84.7,331.1 85.3,332.7 85.8,334.4 86.4,336.1 86.9,337.7 87.5,339.4 88.0,341.0 88.6,342.6 89.1,344.2 89.7,345.8 90.2,347.3 90.8,348.8 91.3,350.3 91.9,351.8 92.5,353.2 93.0,354.5 93.6,355.8 94.1,357.1 94.7,358.3 95.2,359.5 95.8,360.6 96.3,361.6 96.9,362.6 97.4,363.5 98.0,364.4 98.5,365.2 99.1,365.9 99.6,366.6 100.2,367.2 100.7,367.7 101.3,368.2 101.9,368.6 102.4,368.9 103.0,369.1 103.5,369.3 104.1,369.4 104.6,369.4 105.2,369.4 105.7,369.3 106.3,369.1 106.8,368.9 107.4,368.6 107.9,368.2 108.5,367.8 109.0,367.3 109.6,366.7 110.1,366.1 110.7,365.4 111.2,364.6 111.8,363.8 112.4,363.0 112.9,362.1 113.5,361.1 114.0,360.1 114.6,359.1 115.1,358.0 115.7,356.9 116.2,355.7 116.8,354.5 117.3,353.3 117.9,352.0 118.4,350.8 119.0,349.5 119.5,348.1 120.1,346.8 120.6,345.5 121.2,344.1 121.8,342.8 122.3,341.4 122.9,340.0 123.4,338.7 124.0,337.3 124.5,336.0 125.1,334.6 125.6,333.3 126.2,332.0 126.7,330.7 127.3,329.5 127.8,328.2 128.4,327.0 128.9,325.8 129.5,324.7 130.0,323.6 130.6,322.5 131.1,321.4 131.7,320.4 132.3,319.5 132.8,318.6 133.4,317.7 133.9,316.9 134.5,316.2 135.0,315.4 135.6,314.8 136.1,314.2 136.7,313.6 137.2,313.1 137.8,312.7 138.3,312.3 138.9,312.0 139.4,311.7 140.0,311.5 140.5,311.4 141.1,311.3 141.7,311.2 142.2,311.3 142.8,311.3 143.3,311.5 143.9,311.7 144.4,311.9 145.0,312.2 145.5,312.6 146.1,313.0 146.6,313.5 147.2,314.0 147.7,314.5 148.3,315.1 148.8,315.8 149.4,316.5 149.9,317.2 150.5,318.0 151.0,318.8 151.6,319.7 152.2,320.5 152.7,321.5 153.3,322.4 153.8,323.4 154.4,324.4 154.9,325.4 155.5,326.5 156.0,327.5 156.6,328.6 157.1,329.7 157.7,330.8 158.2,331.9 158.8,333.0 159.3,334.1 159.9,335.2 160.4,336.3 161.0,337.5 161.6,338.6 162.1,339.7 162.7,340.7 163.2,341.8 163.8,342.9 164.3,343.9 164.9,344.9 165.4,345.9 166.0,346.9 166.5,347.8 167.1,348.7 167.6,349.6 168.2,350.5 168.7,351.3 169.3,352.1 169.8,352.8 170.4,353.5 170.9,354.2 171.5,354.8 172.1,355.4 172.6,355.9 173.2,356.4 173.7,356.9 174.3,357.3 174.8,357.7 175.4,358.0 175.9,358.3 176.5,358.5 177.0,358.7 177.6,358.8 178.1,358.9 178.7,358.9 179.2,358.9 179.8,358.8 180.3,358.7 180.9,358.5 181.5,358.3 182.0,358.1 182.6,357.8 183.1,357.5 183.7,357.1 184.2,356.7 184.8,356.2 185.3,355.7 185.9,355.2 186.4,354.6 187.0,354.0 187.5,353.4 188.1,352.7 188.6,352.1 189.2,351.3 189.7,350.6 190.3,349.8 190.8,349.0 191.4,348.2 192.0,347.4 192.5,346.5 193.1,345.6 193.6,344.8 194.2,343.9 194.7,343.0 195.3,342.1 195.8,341.2 196.4,340.2 196.9,339.3 197.5,338.4 198.0,337.5 198.6,336.6 199.1,335.7 199.7,334.8 200.2,333.9 200.8,333.1 201.4,332.2 201.9,331.4 202.5,330.6 203.0,329.8 203.6,329.0 204.1,328.3 204.7,327.5 205.2,326.8 205.8,326.2 206.3,325.5 206.9,324.9 207.4,324.3 208.0,323.8 208.5,323.3 209.1,322.8 209.6,322.3 210.2,321.9 210.7,321.5 211.3,321.2 211.9,320.9 212.4,320.6 213.0,320.4 213.5,320.2 214.1,320.1 214.6,320.0 215.2,319.9 215.7,319.9 216.3,319.9 216.8,319.9 217.4,320.0 217.9,320.2 218.5,320.3 219.0,320.5 219.6,320.7 220.1,321.0 220.7,321.3 221.3,321.7 221.8,322.0 222.4,322.4 222.9,322.9 223.5,323.3 224.0,323.8 224.6,324.3 225.1,324.9 225.7,325.4 226.2,326.0 226.8,326.6 227.3,327.3 227.9,327.9 228.4,328.6 229.0,329.3 229.5,330.0 230.1,330.7 230.6,331.4 231.2,332.1"/>
</g>
<rect x="58" y="262.7" width="180" height="139" fill="none" stroke="#1a1a1a" stroke-width="1.6"/>
<line x1="58" y1="282.3" x2="63.3" y2="282.3" stroke="#1a1a1a" stroke-width="1.5"/>
<text x="52.8" y="287.3" font-size="14.8" text-anchor="end" class="k">1.00</text>
<line x1="58" y1="318.0" x2="63.3" y2="318.0" stroke="#1a1a1a" stroke-width="1.5"/>
<text x="52.8" y="323.0" font-size="14.8" text-anchor="end" class="k">0.95</text>
<line x1="58" y1="353.6" x2="63.3" y2="353.6" stroke="#1a1a1a" stroke-width="1.5"/>
<text x="52.8" y="358.6" font-size="14.8" text-anchor="end" class="k">0.90</text>
<line x1="58" y1="389.2" x2="63.3" y2="389.2" stroke="#1a1a1a" stroke-width="1.5"/>
<text x="52.8" y="394.2" font-size="14.8" text-anchor="end" class="k">0.85</text>
<line x1="64.2" y1="401.7" x2="64.2" y2="396.3" stroke="#1a1a1a" stroke-width="1.5"/>
<text x="64.2" y="418.4" font-size="14.8" text-anchor="middle" class="k">0</text>
<line x1="131.0" y1="401.7" x2="131.0" y2="396.3" stroke="#1a1a1a" stroke-width="1.5"/>
<text x="131.0" y="418.4" font-size="14.8" text-anchor="middle" class="k">200</text>
<line x1="197.8" y1="401.7" x2="197.8" y2="396.3" stroke="#1a1a1a" stroke-width="1.5"/>
<text x="197.8" y="418.4" font-size="14.8" text-anchor="middle" class="k">400</text>
<text x="148" y="437.9" font-size="14.8" text-anchor="middle" class="k">Tau (ns)</text>
<text transform="translate(11.0,332) rotate(-90)" font-size="14.8" text-anchor="middle" class="k">Population</text>
<text x="51.2" y="241.3" font-size="18.5" text-anchor="middle" class="k">(c)</text>
<g fill="#f0aa64" fill-opacity="0.45" stroke="#f0aa64" stroke-opacity="0.45" stroke-width="0.9">
<circle cx="334.0" cy="289.1" r="2.3"/>
<circle cx="336.2" cy="306.8" r="2.3"/>
<circle cx="341.5" cy="309.5" r="2.3"/>
<circle cx="344.2" cy="317.5" r="2.3"/>
<circle cx="348.3" cy="324.3" r="2.3"/>
<circle cx="350.5" cy="328.4" r="2.3"/>
<circle cx="352.8" cy="339.1" r="2.3"/>
<circle cx="357.8" cy="336.4" r="2.3"/>
<circle cx="360.1" cy="340.9" r="2.3"/>
<circle cx="362.4" cy="344.1" r="2.3"/>
<circle cx="371" cy="344.1" r="2.3"/>
<circle cx="367.6" cy="360" r="2.3"/>
<circle cx="373.7" cy="352.7" r="2.3"/>
<circle cx="377.8" cy="367.5" r="2.3"/>
<circle cx="380.5" cy="363.6" r="2.3"/>
<circle cx="384.6" cy="359.5" r="2.3"/>
<circle cx="387.4" cy="366.4" r="2.3"/>
<circle cx="391.9" cy="357.3" r="2.3"/>
<circle cx="397.6" cy="365.9" r="2.3"/>
<circle cx="401" cy="373.6" r="2.3"/>
<circle cx="404.4" cy="358.4" r="2.3"/>
<circle cx="411.5" cy="353.8" r="2.3"/>
<circle cx="414.6" cy="359.3" r="2.3"/>
<circle cx="421" cy="358.3" r="2.3"/>
<circle cx="423.7" cy="357.4" r="2.3"/>
<circle cx="427.7" cy="353.2" r="2.3"/>
<circle cx="431.9" cy="359.6" r="2.3"/>
<circle cx="437.4" cy="361.1" r="2.3"/>
<circle cx="441.1" cy="371.1" r="2.3"/>
<circle cx="443.8" cy="368.4" r="2.3"/>
<circle cx="447.5" cy="359.3" r="2.3"/>
<circle cx="452" cy="366.6" r="2.3"/>
<circle cx="456.6" cy="362.9" r="2.3"/>
<circle cx="461.2" cy="376.6" r="2.3"/>
<circle cx="464.8" cy="362.5" r="2.3"/>
<circle cx="468.5" cy="362" r="2.3"/>
<circle cx="474" cy="369.3" r="2.3"/>
<circle cx="477.6" cy="371.1" r="2.3"/>
<circle cx="481.3" cy="376.6" r="2.3"/>
<circle cx="485" cy="363.8" r="2.3"/>
<circle cx="488.6" cy="371.1" r="2.3"/>
<circle cx="492.3" cy="369.3" r="2.3"/>
<circle cx="498.1" cy="358.9" r="2.3"/>
</g>
<polyline fill="none" stroke="#efab52" stroke-width="2" points="333.6,289.6 334.2,291.6 334.7,293.6 335.3,295.5 335.8,297.4 336.4,299.2 336.9,301.0 337.5,302.7 338.0,304.4 338.6,306.1 339.1,307.7 339.7,309.2 340.2,310.7 340.8,312.2 341.3,313.6 341.9,315.0 342.4,316.4 343.0,317.7 343.5,319.0 344.1,320.2 344.6,321.4 345.2,322.6 345.7,323.8 346.3,324.9 346.9,326.0 347.4,327.0 348.0,328.1 348.5,329.1 349.1,330.0 349.6,331.0 350.2,331.9 350.7,332.8 351.3,333.7 351.8,334.5 352.4,335.4 352.9,336.2 353.5,337.0 354.0,337.7 354.6,338.5 355.1,339.2 355.7,339.9 356.2,340.6 356.8,341.2 357.3,341.9 357.9,342.5 358.4,343.1 359.0,343.7 359.5,344.3 360.1,344.9 360.6,345.4 361.2,346.0 361.7,346.5 362.3,347.0 362.9,347.5 363.4,348.0 364.0,348.4 364.5,348.9 365.1,349.3 365.6,349.8 366.2,350.2 366.7,350.6 367.3,351.0 367.8,351.4 368.4,351.7 368.9,352.1 369.5,352.5 370.0,352.8 370.6,353.1 371.1,353.5 371.7,353.8 372.2,354.1 372.8,354.4 373.3,354.7 373.9,355.0 374.4,355.3 375.0,355.5 375.5,355.8 376.1,356.1 376.6,356.3 377.2,356.5 377.7,356.8 378.3,357.0 378.9,357.2 379.4,357.4 380.0,357.7 380.5,357.9 381.1,358.1 381.6,358.3 382.2,358.5 382.7,358.6 383.3,358.8 383.8,359.0 384.4,359.2 384.9,359.3 385.5,359.5 386.0,359.6 386.6,359.8 387.1,359.9 387.7,360.1 388.2,360.2 388.8,360.4 389.3,360.5 389.9,360.6 390.4,360.8 391.0,360.9 391.5,361.0 392.1,361.1 392.6,361.2 393.2,361.3 393.7,361.4 394.3,361.5 394.8,361.6 395.4,361.7 396.0,361.8 396.5,361.9 397.1,362.0 397.6,362.1 398.2,362.2 398.7,362.3 399.3,362.4 399.8,362.4 400.4,362.5 400.9,362.6 401.5,362.7 402.0,362.7 402.6,362.8 403.1,362.9 403.7,362.9 404.2,363.0 404.8,363.1 405.3,363.1 405.9,363.2 406.4,363.2 407.0,363.3 407.5,363.4 408.1,363.4 408.6,363.5 409.2,363.5 409.7,363.6 410.3,363.6 410.8,363.7 411.4,363.7 412.0,363.7 412.5,363.8 413.1,363.8 413.6,363.9 414.2,363.9 414.7,363.9 415.3,364.0 415.8,364.0 416.4,364.0 416.9,364.1 417.5,364.1 418.0,364.1 418.6,364.2 419.1,364.2 419.7,364.2 420.2,364.3 420.8,364.3 421.3,364.3 421.9,364.3 422.4,364.4 423.0,364.4 423.5,364.4 424.1,364.4 424.6,364.5 425.2,364.5 425.7,364.5 426.3,364.5 426.8,364.6 427.4,364.6 428.0,364.6 428.5,364.6 429.1,364.6 429.6,364.7 430.2,364.7 430.7,364.7 431.3,364.7 431.8,364.7 432.4,364.7 432.9,364.8 433.5,364.8 434.0,364.8 434.6,364.8 435.1,364.8 435.7,364.8 436.2,364.8 436.8,364.8 437.3,364.9 437.9,364.9 438.4,364.9 439.0,364.9 439.5,364.9 440.1,364.9 440.6,364.9 441.2,364.9 441.7,364.9 442.3,365.0 442.8,365.0 443.4,365.0 444.0,365.0 444.5,365.0 445.1,365.0 445.6,365.0 446.2,365.0 446.7,365.0 447.3,365.0 447.8,365.0 448.4,365.0 448.9,365.1 449.5,365.1 450.0,365.1 450.6,365.1 451.1,365.1 451.7,365.1 452.2,365.1 452.8,365.1 453.3,365.1 453.9,365.1 454.4,365.1 455.0,365.1 455.5,365.1 456.1,365.1 456.6,365.1 457.2,365.1 457.7,365.1 458.3,365.2 458.8,365.2 459.4,365.2 460.0,365.2 460.5,365.2 461.1,365.2 461.6,365.2 462.2,365.2 462.7,365.2 463.3,365.2 463.8,365.2 464.4,365.2 464.9,365.2 465.5,365.2 466.0,365.2 466.6,365.2 467.1,365.2 467.7,365.2 468.2,365.2 468.8,365.2 469.3,365.2 469.9,365.2 470.4,365.2 471.0,365.2 471.5,365.2 472.1,365.2 472.6,365.2 473.2,365.2 473.7,365.2 474.3,365.2 474.8,365.2 475.4,365.2 475.9,365.2 476.5,365.2 477.1,365.2 477.6,365.2 478.2,365.2 478.7,365.3 479.3,365.3 479.8,365.3 480.4,365.3 480.9,365.3 481.5,365.3 482.0,365.3 482.6,365.3 483.1,365.3 483.7,365.3 484.2,365.3 484.8,365.3 485.3,365.3 485.9,365.3 486.4,365.3 487.0,365.3 487.5,365.3 488.1,365.3 488.6,365.3 489.2,365.3 489.7,365.3 490.3,365.3 490.8,365.3 491.4,365.3 491.9,365.3 492.5,365.3 493.1,365.3 493.6,365.3 494.2,365.3 494.7,365.3 495.3,365.3 495.8,365.3 496.4,365.3 496.9,365.3 497.5,365.3 498.0,365.3 498.6,365.3"/>
<rect x="324.5" y="262.5" width="180.5" height="139" fill="none" stroke="#1a1a1a" stroke-width="1.6"/>
<line x1="324.5" y1="262.3" x2="329.3" y2="262.3" stroke="#1a1a1a" stroke-width="1.5"/>
<text x="319.1" y="267.3" font-size="14.8" text-anchor="end" class="k">0.10</text>
<line x1="324.5" y1="305.4" x2="329.3" y2="305.4" stroke="#1a1a1a" stroke-width="1.5"/>
<text x="319.1" y="310.4" font-size="14.8" text-anchor="end" class="k">0.05</text>
<line x1="324.5" y1="348.5" x2="329.3" y2="348.5" stroke="#1a1a1a" stroke-width="1.5"/>
<text x="319.1" y="353.5" font-size="14.8" text-anchor="end" class="k">0.00</text>
<line x1="324.5" y1="391.6" x2="329.3" y2="391.6" stroke="#1a1a1a" stroke-width="1.5"/>
<text x="319.1" y="396.6" font-size="14.8" text-anchor="end" class="k">−0.05</text>
<line x1="330.6" y1="401.5" x2="330.6" y2="396.1" stroke="#1a1a1a" stroke-width="1.5"/>
<text x="330.6" y="418.4" font-size="14.8" text-anchor="middle" class="k">0</text>
<line x1="397.5" y1="401.5" x2="397.5" y2="396.1" stroke="#1a1a1a" stroke-width="1.5"/>
<text x="397.5" y="418.4" font-size="14.8" text-anchor="middle" class="k">200</text>
<line x1="464.4" y1="401.5" x2="464.4" y2="396.1" stroke="#1a1a1a" stroke-width="1.5"/>
<text x="464.4" y="418.4" font-size="14.8" text-anchor="middle" class="k">400</text>
<text x="414.5" y="437.9" font-size="14.8" text-anchor="middle" class="k">Tau (ns)</text>
<text transform="translate(276.9,325) rotate(-90)" font-size="14.8" text-anchor="middle" class="k">⟨↓-↑⟩</text>
<text x="300.5" y="240.7" font-size="18.5" text-anchor="middle" class="k">(d)</text>
<g fill="#ecb470" font-size="14.5">
<text x="368.6" y="335.8" font-style="italic">T</text>
<text x="378" y="339.6" font-size="10.2">2</text>
<text x="381.6" y="329.6" font-size="7.8">*</text>
<text x="390.2" y="336" font-size="15.8">=</text>
<text x="406.6" y="335.8">60.4</text>
<text x="441.3" y="335.8">±</text>
<text x="456.8" y="335.8">4.5</text>
<text x="482.4" y="335.8" font-style="italic">ns</text>
</g>
<rect x="325" y="238.8" width="40.6" height="23.7" fill="#fff" stroke="#2e9040" stroke-width="2"/>
<rect x="464.3" y="238.8" width="40.2" height="23.7" fill="#fff" stroke="#2e9040" stroke-width="2"/>
<rect x="367.4" y="233.3" width="16.5" height="29.2" fill="#fff" stroke="#d08c3c" stroke-width="1.5"/>
<rect x="445.4" y="233.3" width="16.7" height="29.2" fill="#fff" stroke="#d08c3c" stroke-width="1.5"/>
<text class="serif" x="344.7" y="254.6" font-size="16" text-anchor="middle" fill="#388844">Laser</text>
<text class="serif" x="484.4" y="254.6" font-size="16" text-anchor="middle" fill="#388844">Laser</text>
<text class="serif" x="375" y="276.8" font-size="16.3" text-anchor="middle" fill="#c98a40">π/2</text>
<text class="serif" x="453.5" y="275.6" font-size="16.8" text-anchor="middle" fill="#c98a40">±π/2</text>
<text x="415.5" y="245.6" font-size="13.5" font-weight="bold" text-anchor="middle" fill="#111" class="dvs">τ</text>
<line x1="388" y1="249.6" x2="442.5" y2="249.6" stroke="#111" stroke-width="1.2"/>
<path d="M385.9,249.6 l5,-2.6 v5.2 z M444.6,249.6 l-5,-2.6 v5.2 z" fill="#111"/>
<line x1="324.5" y1="262.5" x2="505" y2="262.5" stroke="#1a1a1a" stroke-width="1.6"/>
</svg></body></html>
